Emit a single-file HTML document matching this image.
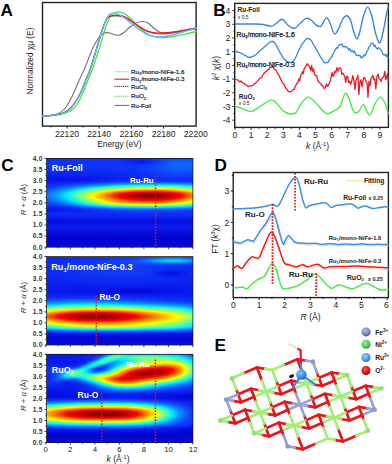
<!DOCTYPE html>
<html><head><meta charset="utf-8"><style>
html,body{margin:0;padding:0;background:#fff;}
body{width:392px;height:464px;overflow:hidden;}
svg{display:block;font-family:"Liberation Sans", sans-serif;}
</style></head><body>
<svg width="392" height="464" viewBox="0 0 392 464">
<defs><linearGradient id="h0_0" x1="0" x2="1" y1="0" y2="0"><stop offset="0.003" stop-color="#0e30f4"/><stop offset="0.645" stop-color="#0d2cf3"/><stop offset="0.878" stop-color="#114bfb"/><stop offset="0.994" stop-color="#1249fa"/></linearGradient>
<linearGradient id="h0_1" x1="0" x2="1" y1="0" y2="0"><stop offset="0.003" stop-color="#0e32f5"/><stop offset="0.502" stop-color="#0e31f5"/><stop offset="0.652" stop-color="#0c26f1"/><stop offset="0.864" stop-color="#1150fb"/><stop offset="0.994" stop-color="#114ffb"/></linearGradient>
<linearGradient id="h0_2" x1="0" x2="1" y1="0" y2="0"><stop offset="0.003" stop-color="#0f33f5"/><stop offset="0.502" stop-color="#0e32f5"/><stop offset="0.652" stop-color="#0a1eee"/><stop offset="0.850" stop-color="#1153fb"/><stop offset="0.919" stop-color="#1059fb"/><stop offset="0.994" stop-color="#1155fb"/></linearGradient>
<linearGradient id="h0_3" x1="0" x2="1" y1="0" y2="0"><stop offset="0.003" stop-color="#0f34f5"/><stop offset="0.502" stop-color="#0f33f5"/><stop offset="0.652" stop-color="#0919ed"/><stop offset="0.686" stop-color="#0a1fef"/><stop offset="0.844" stop-color="#1157fb"/><stop offset="0.919" stop-color="#105efc"/><stop offset="0.994" stop-color="#1059fb"/></linearGradient>
<linearGradient id="h0_4" x1="0" x2="1" y1="0" y2="0"><stop offset="0.003" stop-color="#0f34f6"/><stop offset="0.502" stop-color="#0f34f5"/><stop offset="0.652" stop-color="#091cee"/><stop offset="0.693" stop-color="#0b24f0"/><stop offset="0.844" stop-color="#105afb"/><stop offset="0.919" stop-color="#1063fc"/><stop offset="0.994" stop-color="#105dfc"/></linearGradient>
<linearGradient id="h0_5" x1="0" x2="1" y1="0" y2="0"><stop offset="0.003" stop-color="#0f34f6"/><stop offset="0.502" stop-color="#0f34f6"/><stop offset="0.652" stop-color="#0b24f1"/><stop offset="0.857" stop-color="#1060fc"/><stop offset="0.926" stop-color="#1066fc"/><stop offset="0.994" stop-color="#1060fc"/></linearGradient>
<linearGradient id="h0_6" x1="0" x2="1" y1="0" y2="0"><stop offset="0.003" stop-color="#0f34f6"/><stop offset="0.509" stop-color="#0f34f6"/><stop offset="0.645" stop-color="#0d2ef4"/><stop offset="0.707" stop-color="#1037f7"/><stop offset="0.864" stop-color="#1063fc"/><stop offset="0.926" stop-color="#0f68fc"/><stop offset="0.994" stop-color="#1062fc"/></linearGradient>
<linearGradient id="h0_7" x1="0" x2="1" y1="0" y2="0"><stop offset="0.003" stop-color="#0f34f5"/><stop offset="0.639" stop-color="#0f34f6"/><stop offset="0.734" stop-color="#1242fa"/><stop offset="0.878" stop-color="#1065fc"/><stop offset="0.994" stop-color="#1062fc"/></linearGradient>
<linearGradient id="h0_8" x1="0" x2="1" y1="0" y2="0"><stop offset="0.003" stop-color="#0f33f5"/><stop offset="0.618" stop-color="#0f36f6"/><stop offset="0.727" stop-color="#1242fa"/><stop offset="0.885" stop-color="#1065fc"/><stop offset="0.994" stop-color="#1062fc"/></linearGradient>
<linearGradient id="h0_9" x1="0" x2="1" y1="0" y2="0"><stop offset="0.003" stop-color="#0e32f5"/><stop offset="0.598" stop-color="#0f35f6"/><stop offset="0.727" stop-color="#1242fa"/><stop offset="0.885" stop-color="#1064fc"/><stop offset="0.994" stop-color="#1060fc"/></linearGradient>
<linearGradient id="h0_10" x1="0" x2="1" y1="0" y2="0"><stop offset="0.003" stop-color="#0e30f4"/><stop offset="0.591" stop-color="#0f34f5"/><stop offset="0.734" stop-color="#1241fa"/><stop offset="0.885" stop-color="#1061fc"/><stop offset="0.994" stop-color="#105dfc"/></linearGradient>
<linearGradient id="h0_11" x1="0" x2="1" y1="0" y2="0"><stop offset="0.003" stop-color="#0e2ff4"/><stop offset="0.584" stop-color="#0e32f5"/><stop offset="0.741" stop-color="#1240f9"/><stop offset="0.891" stop-color="#105dfc"/><stop offset="0.994" stop-color="#1059fb"/></linearGradient>
<linearGradient id="h0_12" x1="0" x2="1" y1="0" y2="0"><stop offset="0.003" stop-color="#0d2df3"/><stop offset="0.584" stop-color="#0e30f4"/><stop offset="0.727" stop-color="#113cf8"/><stop offset="0.891" stop-color="#1059fb"/><stop offset="0.994" stop-color="#1154fb"/></linearGradient>
<linearGradient id="h0_13" x1="0" x2="1" y1="0" y2="0"><stop offset="0.003" stop-color="#0d2bf3"/><stop offset="0.577" stop-color="#0d2ef4"/><stop offset="0.714" stop-color="#1038f7"/><stop offset="0.891" stop-color="#1153fb"/><stop offset="0.994" stop-color="#114ffb"/></linearGradient>
<linearGradient id="h0_14" x1="0" x2="1" y1="0" y2="0"><stop offset="0.003" stop-color="#0c29f2"/><stop offset="0.570" stop-color="#0d2cf3"/><stop offset="0.891" stop-color="#114efb"/><stop offset="0.994" stop-color="#114afa"/></linearGradient>
<linearGradient id="h0_15" x1="0" x2="1" y1="0" y2="0"><stop offset="0.003" stop-color="#0c26f1"/><stop offset="0.550" stop-color="#0c2af2"/><stop offset="0.898" stop-color="#1248fa"/><stop offset="0.994" stop-color="#1244fa"/></linearGradient>
<linearGradient id="h0_16" x1="0" x2="1" y1="0" y2="0"><stop offset="0.003" stop-color="#0b23f0"/><stop offset="0.523" stop-color="#0c27f2"/><stop offset="0.898" stop-color="#1243fa"/><stop offset="0.994" stop-color="#1240f9"/></linearGradient>
<linearGradient id="h0_17" x1="0" x2="1" y1="0" y2="0"><stop offset="0.003" stop-color="#0a20ef"/><stop offset="0.359" stop-color="#0a21ef"/><stop offset="0.632" stop-color="#0d2bf3"/><stop offset="0.878" stop-color="#113ef9"/><stop offset="0.994" stop-color="#113df8"/></linearGradient>
<linearGradient id="h0_18" x1="0" x2="1" y1="0" y2="0"><stop offset="0.003" stop-color="#0a1dee"/><stop offset="0.290" stop-color="#091bee"/><stop offset="0.878" stop-color="#103bf8"/><stop offset="0.994" stop-color="#1039f7"/></linearGradient>
<linearGradient id="h0_19" x1="0" x2="1" y1="0" y2="0"><stop offset="0.003" stop-color="#091aed"/><stop offset="0.256" stop-color="#0817ec"/><stop offset="0.878" stop-color="#0f36f6"/><stop offset="0.994" stop-color="#0f35f6"/></linearGradient>
<linearGradient id="h0_20" x1="0" x2="1" y1="0" y2="0"><stop offset="0.003" stop-color="#0818ec"/><stop offset="0.256" stop-color="#0815ea"/><stop offset="0.994" stop-color="#0e31f5"/></linearGradient>
<linearGradient id="h0_21" x1="0" x2="1" y1="0" y2="0"><stop offset="0.003" stop-color="#0816ec"/><stop offset="0.222" stop-color="#0714e9"/><stop offset="0.509" stop-color="#0c26f1"/><stop offset="0.994" stop-color="#0e2ef4"/></linearGradient>
<linearGradient id="h0_22" x1="0" x2="1" y1="0" y2="0"><stop offset="0.003" stop-color="#0817ec"/><stop offset="0.215" stop-color="#0816ec"/><stop offset="0.523" stop-color="#0d2df3"/><stop offset="0.994" stop-color="#0e30f4"/></linearGradient>
<linearGradient id="h0_23" x1="0" x2="1" y1="0" y2="0"><stop offset="0.003" stop-color="#0918ed"/><stop offset="0.202" stop-color="#091cee"/><stop offset="0.536" stop-color="#103bf8"/><stop offset="0.994" stop-color="#103af7"/></linearGradient>
<linearGradient id="h0_24" x1="0" x2="1" y1="0" y2="0"><stop offset="0.003" stop-color="#091cee"/><stop offset="0.222" stop-color="#0c27f1"/><stop offset="0.591" stop-color="#105afb"/><stop offset="0.850" stop-color="#105afb"/><stop offset="0.994" stop-color="#114ffb"/></linearGradient>
<linearGradient id="h0_25" x1="0" x2="1" y1="0" y2="0"><stop offset="0.003" stop-color="#0a21ef"/><stop offset="0.270" stop-color="#113bf8"/><stop offset="0.488" stop-color="#0f75fd"/><stop offset="0.618" stop-color="#0d88fe"/><stop offset="0.830" stop-color="#0d8afe"/><stop offset="0.994" stop-color="#0f70fd"/></linearGradient>
<linearGradient id="h0_26" x1="0" x2="1" y1="0" y2="0"><stop offset="0.003" stop-color="#0c26f1"/><stop offset="0.215" stop-color="#1242fa"/><stop offset="0.516" stop-color="#0aaaff"/><stop offset="0.645" stop-color="#06c4ff"/><stop offset="0.748" stop-color="#05caff"/><stop offset="0.830" stop-color="#06c4ff"/><stop offset="0.905" stop-color="#08b4ff"/><stop offset="0.994" stop-color="#0c95ff"/></linearGradient>
<linearGradient id="h0_27" x1="0" x2="1" y1="0" y2="0"><stop offset="0.003" stop-color="#0d2cf3"/><stop offset="0.133" stop-color="#1240f9"/><stop offset="0.181" stop-color="#114ffb"/><stop offset="0.529" stop-color="#00eaff"/><stop offset="0.632" stop-color="#18efe8"/><stop offset="0.741" stop-color="#1ff0e1"/><stop offset="0.830" stop-color="#18efe8"/><stop offset="0.912" stop-color="#01ebfe"/><stop offset="0.994" stop-color="#06c4ff"/></linearGradient>
<linearGradient id="h0_28" x1="0" x2="1" y1="0" y2="0"><stop offset="0.003" stop-color="#0f33f5"/><stop offset="0.085" stop-color="#1242fa"/><stop offset="0.181" stop-color="#0f68fc"/><stop offset="0.283" stop-color="#0c9bff"/><stop offset="0.406" stop-color="#00ebff"/><stop offset="0.495" stop-color="#2df3d4"/><stop offset="0.570" stop-color="#4af7b8"/><stop offset="0.645" stop-color="#5bfaa8"/><stop offset="0.721" stop-color="#61fba2"/><stop offset="0.789" stop-color="#5efba5"/><stop offset="0.857" stop-color="#4ff8b4"/><stop offset="0.919" stop-color="#36f4cb"/><stop offset="0.994" stop-color="#0dedf3"/></linearGradient>
<linearGradient id="h0_29" x1="0" x2="1" y1="0" y2="0"><stop offset="0.003" stop-color="#1039f7"/><stop offset="0.065" stop-color="#114afa"/><stop offset="0.167" stop-color="#0e7afd"/><stop offset="0.229" stop-color="#0c9eff"/><stop offset="0.331" stop-color="#02ebfd"/><stop offset="0.447" stop-color="#50f8b2"/><stop offset="0.550" stop-color="#87ff7c"/><stop offset="0.625" stop-color="#a2ff60"/><stop offset="0.700" stop-color="#adff55"/><stop offset="0.775" stop-color="#abff57"/><stop offset="0.837" stop-color="#9cff67"/><stop offset="0.898" stop-color="#7eff85"/><stop offset="0.994" stop-color="#40f6c2"/></linearGradient>
<linearGradient id="h0_30" x1="0" x2="1" y1="0" y2="0"><stop offset="0.003" stop-color="#1140f9"/><stop offset="0.072" stop-color="#105cfb"/><stop offset="0.154" stop-color="#0d8afe"/><stop offset="0.277" stop-color="#03ebfc"/><stop offset="0.420" stop-color="#78ff8c"/><stop offset="0.516" stop-color="#c1ff40"/><stop offset="0.598" stop-color="#ecff14"/><stop offset="0.673" stop-color="#ffff00"/><stop offset="0.775" stop-color="#ffff00"/><stop offset="0.830" stop-color="#efff11"/><stop offset="0.905" stop-color="#c4ff3d"/><stop offset="0.994" stop-color="#76ff8e"/></linearGradient>
<linearGradient id="h0_31" x1="0" x2="1" y1="0" y2="0"><stop offset="0.003" stop-color="#1249fa"/><stop offset="0.140" stop-color="#0c97ff"/><stop offset="0.229" stop-color="#00e9ff"/><stop offset="0.359" stop-color="#7aff8a"/><stop offset="0.495" stop-color="#feff01"/><stop offset="0.611" stop-color="#ffc400"/><stop offset="0.666" stop-color="#ffb700"/><stop offset="0.727" stop-color="#ffb300"/><stop offset="0.823" stop-color="#ffc400"/><stop offset="0.919" stop-color="#fffc00"/><stop offset="0.994" stop-color="#b5ff4d"/></linearGradient>
<linearGradient id="h0_32" x1="0" x2="1" y1="0" y2="0"><stop offset="0.003" stop-color="#1153fb"/><stop offset="0.120" stop-color="#0c9bff"/><stop offset="0.202" stop-color="#02ebfd"/><stop offset="0.311" stop-color="#76ff8e"/><stop offset="0.427" stop-color="#fffe00"/><stop offset="0.509" stop-color="#ffb800"/><stop offset="0.591" stop-color="#fe8700"/><stop offset="0.659" stop-color="#fb6d00"/><stop offset="0.727" stop-color="#fa6700"/><stop offset="0.782" stop-color="#fb6e00"/><stop offset="0.837" stop-color="#fe8600"/><stop offset="0.905" stop-color="#ffb400"/><stop offset="0.980" stop-color="#fffc00"/><stop offset="0.994" stop-color="#f1ff0e"/></linearGradient>
<linearGradient id="h0_33" x1="0" x2="1" y1="0" y2="0"><stop offset="0.003" stop-color="#105bfb"/><stop offset="0.099" stop-color="#0c9cff"/><stop offset="0.174" stop-color="#00eaff"/><stop offset="0.277" stop-color="#73fe91"/><stop offset="0.379" stop-color="#fdff02"/><stop offset="0.516" stop-color="#fc7700"/><stop offset="0.584" stop-color="#f64300"/><stop offset="0.666" stop-color="#f12200"/><stop offset="0.748" stop-color="#f11e00"/><stop offset="0.803" stop-color="#f32c00"/><stop offset="0.857" stop-color="#f74d00"/><stop offset="0.905" stop-color="#fc7800"/><stop offset="0.994" stop-color="#ffdb00"/></linearGradient>
<linearGradient id="h0_34" x1="0" x2="1" y1="0" y2="0"><stop offset="0.003" stop-color="#1063fc"/><stop offset="0.085" stop-color="#0c9dff"/><stop offset="0.161" stop-color="#04ecfb"/><stop offset="0.256" stop-color="#76ff8e"/><stop offset="0.352" stop-color="#fffc00"/><stop offset="0.447" stop-color="#ff8b00"/><stop offset="0.502" stop-color="#f74c00"/><stop offset="0.584" stop-color="#ed0800"/><stop offset="0.721" stop-color="#dc0400"/><stop offset="0.844" stop-color="#ee0800"/><stop offset="0.905" stop-color="#f54100"/><stop offset="0.994" stop-color="#ffb200"/></linearGradient>
<linearGradient id="h0_35" x1="0" x2="1" y1="0" y2="0"><stop offset="0.003" stop-color="#0f69fc"/><stop offset="0.072" stop-color="#0c9bff"/><stop offset="0.147" stop-color="#03ebfc"/><stop offset="0.242" stop-color="#79ff8b"/><stop offset="0.331" stop-color="#fffc00"/><stop offset="0.420" stop-color="#ff8900"/><stop offset="0.468" stop-color="#f64a00"/><stop offset="0.529" stop-color="#ed0800"/><stop offset="0.680" stop-color="#be0000"/><stop offset="0.721" stop-color="#b90000"/><stop offset="0.762" stop-color="#bf0000"/><stop offset="0.891" stop-color="#ed0800"/><stop offset="0.932" stop-color="#f43900"/><stop offset="0.994" stop-color="#ff9300"/></linearGradient>
<linearGradient id="h0_36" x1="0" x2="1" y1="0" y2="0"><stop offset="0.003" stop-color="#0f6cfc"/><stop offset="0.065" stop-color="#0c9aff"/><stop offset="0.140" stop-color="#04ecfb"/><stop offset="0.229" stop-color="#73fe91"/><stop offset="0.318" stop-color="#ffff00"/><stop offset="0.400" stop-color="#ff8f00"/><stop offset="0.461" stop-color="#f43900"/><stop offset="0.502" stop-color="#ed0800"/><stop offset="0.584" stop-color="#cd0000"/><stop offset="0.625" stop-color="#aa0000"/><stop offset="0.659" stop-color="#960000"/><stop offset="0.727" stop-color="#8a0000"/><stop offset="0.782" stop-color="#990000"/><stop offset="0.844" stop-color="#ce0000"/><stop offset="0.912" stop-color="#ec0800"/><stop offset="0.939" stop-color="#f22900"/><stop offset="0.994" stop-color="#fd7e00"/></linearGradient>
<linearGradient id="h0_37" x1="0" x2="1" y1="0" y2="0"><stop offset="0.003" stop-color="#0f6efc"/><stop offset="0.065" stop-color="#0c9cff"/><stop offset="0.133" stop-color="#00eaff"/><stop offset="0.229" stop-color="#78ff8c"/><stop offset="0.311" stop-color="#fcff04"/><stop offset="0.318" stop-color="#fff800"/><stop offset="0.400" stop-color="#fe8700"/><stop offset="0.461" stop-color="#f32e00"/><stop offset="0.495" stop-color="#ec0800"/><stop offset="0.570" stop-color="#cc0000"/><stop offset="0.611" stop-color="#a20000"/><stop offset="0.659" stop-color="#830000"/><stop offset="0.755" stop-color="#7d0000"/><stop offset="0.803" stop-color="#950000"/><stop offset="0.857" stop-color="#ce0000"/><stop offset="0.919" stop-color="#ec0700"/><stop offset="0.939" stop-color="#f11f00"/><stop offset="0.994" stop-color="#fc7500"/></linearGradient>
<linearGradient id="h0_38" x1="0" x2="1" y1="0" y2="0"><stop offset="0.003" stop-color="#0f6dfc"/><stop offset="0.065" stop-color="#0c9bff"/><stop offset="0.133" stop-color="#00e8ff"/><stop offset="0.140" stop-color="#05ecfa"/><stop offset="0.229" stop-color="#75ff8f"/><stop offset="0.318" stop-color="#fffb00"/><stop offset="0.400" stop-color="#ff8a00"/><stop offset="0.495" stop-color="#ee0800"/><stop offset="0.577" stop-color="#cb0000"/><stop offset="0.611" stop-color="#a90000"/><stop offset="0.652" stop-color="#8e0000"/><stop offset="0.686" stop-color="#820000"/><stop offset="0.727" stop-color="#7f0000"/><stop offset="0.782" stop-color="#900000"/><stop offset="0.809" stop-color="#a40000"/><stop offset="0.850" stop-color="#ce0000"/><stop offset="0.919" stop-color="#ee0800"/><stop offset="0.994" stop-color="#fd7a00"/></linearGradient>
<linearGradient id="h0_39" x1="0" x2="1" y1="0" y2="0"><stop offset="0.003" stop-color="#0f69fc"/><stop offset="0.072" stop-color="#0c9cff"/><stop offset="0.140" stop-color="#00e9ff"/><stop offset="0.236" stop-color="#76ff8e"/><stop offset="0.324" stop-color="#fffc00"/><stop offset="0.406" stop-color="#ff8d00"/><stop offset="0.468" stop-color="#f43900"/><stop offset="0.509" stop-color="#ee0900"/><stop offset="0.516" stop-color="#eb0700"/><stop offset="0.605" stop-color="#cd0000"/><stop offset="0.659" stop-color="#aa0000"/><stop offset="0.714" stop-color="#9f0000"/><stop offset="0.768" stop-color="#a90000"/><stop offset="0.823" stop-color="#ce0000"/><stop offset="0.898" stop-color="#ec0700"/><stop offset="0.932" stop-color="#f32e00"/><stop offset="0.994" stop-color="#ff8c00"/></linearGradient>
<linearGradient id="h0_40" x1="0" x2="1" y1="0" y2="0"><stop offset="0.003" stop-color="#1064fc"/><stop offset="0.079" stop-color="#0c9aff"/><stop offset="0.154" stop-color="#03ecfc"/><stop offset="0.242" stop-color="#72fe92"/><stop offset="0.331" stop-color="#fbff04"/><stop offset="0.338" stop-color="#fff900"/><stop offset="0.468" stop-color="#f75100"/><stop offset="0.536" stop-color="#ee0800"/><stop offset="0.618" stop-color="#d60200"/><stop offset="0.707" stop-color="#ce0000"/><stop offset="0.789" stop-color="#d40200"/><stop offset="0.871" stop-color="#ec0800"/><stop offset="0.919" stop-color="#f43a00"/><stop offset="0.994" stop-color="#ffa400"/></linearGradient>
<linearGradient id="h0_41" x1="0" x2="1" y1="0" y2="0"><stop offset="0.003" stop-color="#105dfc"/><stop offset="0.092" stop-color="#0c9cff"/><stop offset="0.161" stop-color="#00e8ff"/><stop offset="0.256" stop-color="#73fe91"/><stop offset="0.345" stop-color="#faff06"/><stop offset="0.352" stop-color="#fffb00"/><stop offset="0.441" stop-color="#ff8f00"/><stop offset="0.495" stop-color="#f75000"/><stop offset="0.577" stop-color="#ee0a00"/><stop offset="0.700" stop-color="#de0400"/><stop offset="0.823" stop-color="#ec0800"/><stop offset="0.850" stop-color="#f01900"/><stop offset="0.891" stop-color="#f54100"/><stop offset="0.994" stop-color="#ffc200"/></linearGradient>
<linearGradient id="h0_42" x1="0" x2="1" y1="0" y2="0"><stop offset="0.003" stop-color="#1155fb"/><stop offset="0.106" stop-color="#0c9bff"/><stop offset="0.181" stop-color="#05ecfb"/><stop offset="0.277" stop-color="#7bff89"/><stop offset="0.365" stop-color="#feff01"/><stop offset="0.495" stop-color="#fc7200"/><stop offset="0.564" stop-color="#f43a00"/><stop offset="0.652" stop-color="#ef1300"/><stop offset="0.741" stop-color="#ef1000"/><stop offset="0.796" stop-color="#f12200"/><stop offset="0.850" stop-color="#f64600"/><stop offset="0.898" stop-color="#fc7400"/><stop offset="0.994" stop-color="#ffe500"/></linearGradient>
<linearGradient id="h0_43" x1="0" x2="1" y1="0" y2="0"><stop offset="0.003" stop-color="#114cfb"/><stop offset="0.120" stop-color="#0c99ff"/><stop offset="0.195" stop-color="#01ebfe"/><stop offset="0.290" stop-color="#75fe8f"/><stop offset="0.386" stop-color="#fbff04"/><stop offset="0.393" stop-color="#fffb00"/><stop offset="0.468" stop-color="#ffae00"/><stop offset="0.557" stop-color="#fb6900"/><stop offset="0.632" stop-color="#f64800"/><stop offset="0.700" stop-color="#f53f00"/><stop offset="0.762" stop-color="#f64800"/><stop offset="0.823" stop-color="#fa6400"/><stop offset="0.905" stop-color="#ffa900"/><stop offset="0.980" stop-color="#fffa00"/><stop offset="0.994" stop-color="#f1ff0e"/></linearGradient>
<linearGradient id="h0_44" x1="0" x2="1" y1="0" y2="0"><stop offset="0.003" stop-color="#1243fa"/><stop offset="0.065" stop-color="#1063fc"/><stop offset="0.126" stop-color="#0d8efe"/><stop offset="0.215" stop-color="#01ebfe"/><stop offset="0.318" stop-color="#79ff8b"/><stop offset="0.400" stop-color="#e5ff1b"/><stop offset="0.427" stop-color="#fffa00"/><stop offset="0.495" stop-color="#ffc000"/><stop offset="0.557" stop-color="#ff9b00"/><stop offset="0.632" stop-color="#fd8000"/><stop offset="0.693" stop-color="#fd7900"/><stop offset="0.755" stop-color="#fe8100"/><stop offset="0.816" stop-color="#ff9900"/><stop offset="0.878" stop-color="#ffc200"/><stop offset="0.939" stop-color="#fffa00"/><stop offset="0.946" stop-color="#fcff03"/><stop offset="0.994" stop-color="#bfff42"/></linearGradient>
<linearGradient id="h0_45" x1="0" x2="1" y1="0" y2="0"><stop offset="0.003" stop-color="#113cf8"/><stop offset="0.058" stop-color="#1151fb"/><stop offset="0.133" stop-color="#0e80fd"/><stop offset="0.174" stop-color="#0ba1ff"/><stop offset="0.242" stop-color="#01ebfe"/><stop offset="0.352" stop-color="#79ff8b"/><stop offset="0.427" stop-color="#cfff32"/><stop offset="0.482" stop-color="#fffd00"/><stop offset="0.577" stop-color="#ffcc00"/><stop offset="0.686" stop-color="#ffb900"/><stop offset="0.782" stop-color="#ffc800"/><stop offset="0.878" stop-color="#fffc00"/><stop offset="0.919" stop-color="#dcff24"/><stop offset="0.994" stop-color="#87ff7c"/></linearGradient>
<linearGradient id="h0_46" x1="0" x2="1" y1="0" y2="0"><stop offset="0.003" stop-color="#0f35f6"/><stop offset="0.065" stop-color="#1244fa"/><stop offset="0.140" stop-color="#0f6efc"/><stop offset="0.202" stop-color="#0c9aff"/><stop offset="0.277" stop-color="#01e7ff"/><stop offset="0.406" stop-color="#78ff8c"/><stop offset="0.495" stop-color="#c1ff40"/><stop offset="0.577" stop-color="#eaff16"/><stop offset="0.666" stop-color="#fbff04"/><stop offset="0.748" stop-color="#f5ff0a"/><stop offset="0.816" stop-color="#ddff23"/><stop offset="0.891" stop-color="#abff57"/><stop offset="0.994" stop-color="#4ff8b4"/></linearGradient>
<linearGradient id="h0_47" x1="0" x2="1" y1="0" y2="0"><stop offset="0.003" stop-color="#0d2df3"/><stop offset="0.099" stop-color="#1241fa"/><stop offset="0.154" stop-color="#105cfb"/><stop offset="0.249" stop-color="#0c9bff"/><stop offset="0.338" stop-color="#01ebfe"/><stop offset="0.434" stop-color="#4af7b8"/><stop offset="0.509" stop-color="#74fe90"/><stop offset="0.591" stop-color="#92ff71"/><stop offset="0.680" stop-color="#9dff65"/><stop offset="0.755" stop-color="#96ff6c"/><stop offset="0.816" stop-color="#83ff80"/><stop offset="0.898" stop-color="#59faaa"/><stop offset="0.994" stop-color="#15efea"/></linearGradient>
<linearGradient id="h0_48" x1="0" x2="1" y1="0" y2="0"><stop offset="0.003" stop-color="#0c26f1"/><stop offset="0.167" stop-color="#1247fa"/><stop offset="0.283" stop-color="#0d87fe"/><stop offset="0.434" stop-color="#03ebfc"/><stop offset="0.557" stop-color="#34f4cd"/><stop offset="0.686" stop-color="#44f6bd"/><stop offset="0.809" stop-color="#35f4cd"/><stop offset="0.932" stop-color="#01ebfe"/><stop offset="0.994" stop-color="#06c5ff"/></linearGradient>
<linearGradient id="h0_49" x1="0" x2="1" y1="0" y2="0"><stop offset="0.003" stop-color="#0a1fef"/><stop offset="0.113" stop-color="#0d2bf3"/><stop offset="0.222" stop-color="#1242fa"/><stop offset="0.482" stop-color="#07bbff"/><stop offset="0.550" stop-color="#04d0ff"/><stop offset="0.625" stop-color="#02ddff"/><stop offset="0.714" stop-color="#02e1ff"/><stop offset="0.803" stop-color="#03d6ff"/><stop offset="0.885" stop-color="#07beff"/><stop offset="0.994" stop-color="#0d90fe"/></linearGradient>
<linearGradient id="h0_50" x1="0" x2="1" y1="0" y2="0"><stop offset="0.003" stop-color="#091bed"/><stop offset="0.120" stop-color="#0b22f0"/><stop offset="0.236" stop-color="#0f35f6"/><stop offset="0.297" stop-color="#1242fa"/><stop offset="0.482" stop-color="#0e80fd"/><stop offset="0.625" stop-color="#0c98ff"/><stop offset="0.803" stop-color="#0c95ff"/><stop offset="0.994" stop-color="#0f6bfc"/></linearGradient>
<linearGradient id="h0_51" x1="0" x2="1" y1="0" y2="0"><stop offset="0.003" stop-color="#0919ed"/><stop offset="0.208" stop-color="#0c26f1"/><stop offset="0.516" stop-color="#1060fc"/><stop offset="0.639" stop-color="#0f6dfc"/><stop offset="0.809" stop-color="#0f6bfc"/><stop offset="0.994" stop-color="#114ffb"/></linearGradient>
<linearGradient id="h0_52" x1="0" x2="1" y1="0" y2="0"><stop offset="0.003" stop-color="#091bed"/><stop offset="0.188" stop-color="#0a21ef"/><stop offset="0.652" stop-color="#114ffb"/><stop offset="0.809" stop-color="#114efb"/><stop offset="0.994" stop-color="#113ef9"/></linearGradient>
<linearGradient id="h0_53" x1="0" x2="1" y1="0" y2="0"><stop offset="0.003" stop-color="#0a1eef"/><stop offset="0.188" stop-color="#0b22f0"/><stop offset="0.618" stop-color="#113ef9"/><stop offset="0.994" stop-color="#1037f7"/></linearGradient>
<linearGradient id="h0_54" x1="0" x2="1" y1="0" y2="0"><stop offset="0.003" stop-color="#0b23f0"/><stop offset="0.618" stop-color="#1038f7"/><stop offset="0.994" stop-color="#0f33f5"/></linearGradient>
<linearGradient id="h0_55" x1="0" x2="1" y1="0" y2="0"><stop offset="0.003" stop-color="#0c26f1"/><stop offset="0.618" stop-color="#0f33f5"/><stop offset="0.994" stop-color="#0e31f5"/></linearGradient>
<linearGradient id="h0_56" x1="0" x2="1" y1="0" y2="0"><stop offset="0.003" stop-color="#0c28f2"/><stop offset="0.994" stop-color="#0e2ef4"/></linearGradient>
<linearGradient id="h0_57" x1="0" x2="1" y1="0" y2="0"><stop offset="0.003" stop-color="#0c27f2"/><stop offset="0.994" stop-color="#0d2bf3"/></linearGradient>
<linearGradient id="h0_58" x1="0" x2="1" y1="0" y2="0"><stop offset="0.003" stop-color="#0b24f0"/><stop offset="0.994" stop-color="#0c26f1"/></linearGradient>
<linearGradient id="h0_59" x1="0" x2="1" y1="0" y2="0"><stop offset="0.003" stop-color="#0a1fef"/><stop offset="0.994" stop-color="#0a20ef"/></linearGradient>
<linearGradient id="h0_60" x1="0" x2="1" y1="0" y2="0"><stop offset="0.003" stop-color="#0918ed"/><stop offset="0.994" stop-color="#0919ed"/></linearGradient>
<linearGradient id="h0_61" x1="0" x2="1" y1="0" y2="0"><stop offset="0.003" stop-color="#0713e7"/><stop offset="0.994" stop-color="#0714e7"/></linearGradient>
<linearGradient id="h0_62" x1="0" x2="1" y1="0" y2="0"><stop offset="0.003" stop-color="#0610e1"/><stop offset="0.994" stop-color="#0610e1"/></linearGradient>
<linearGradient id="h0_63" x1="0" x2="1" y1="0" y2="0"><stop offset="0.003" stop-color="#050fde"/><stop offset="0.994" stop-color="#050fde"/></linearGradient>
<linearGradient id="h0_64" x1="0" x2="1" y1="0" y2="0"><stop offset="0.003" stop-color="#060fe0"/><stop offset="0.994" stop-color="#0610e0"/></linearGradient>
<linearGradient id="h0_65" x1="0" x2="1" y1="0" y2="0"><stop offset="0.003" stop-color="#0712e5"/><stop offset="0.994" stop-color="#0712e5"/></linearGradient>
<linearGradient id="h0_66" x1="0" x2="1" y1="0" y2="0"><stop offset="0.003" stop-color="#0816eb"/><stop offset="0.994" stop-color="#0816eb"/></linearGradient>
<linearGradient id="h0_67" x1="0" x2="1" y1="0" y2="0"><stop offset="0.003" stop-color="#091aed"/><stop offset="0.994" stop-color="#091aed"/></linearGradient>
<linearGradient id="h0_68" x1="0" x2="1" y1="0" y2="0"><stop offset="0.003" stop-color="#091cee"/><stop offset="0.994" stop-color="#091cee"/></linearGradient>
<linearGradient id="h0_69" x1="0" x2="1" y1="0" y2="0"><stop offset="0.003" stop-color="#091cee"/><stop offset="0.994" stop-color="#091cee"/></linearGradient>
<linearGradient id="h0_70" x1="0" x2="1" y1="0" y2="0"><stop offset="0.003" stop-color="#091aed"/><stop offset="0.994" stop-color="#091aed"/></linearGradient>
<linearGradient id="h0_71" x1="0" x2="1" y1="0" y2="0"><stop offset="0.003" stop-color="#0816ec"/><stop offset="0.994" stop-color="#0816ec"/></linearGradient>
<linearGradient id="h0_72" x1="0" x2="1" y1="0" y2="0"><stop offset="0.003" stop-color="#0713e6"/><stop offset="0.994" stop-color="#0713e6"/></linearGradient>
<linearGradient id="h0_73" x1="0" x2="1" y1="0" y2="0"><stop offset="0.003" stop-color="#0610e1"/><stop offset="0.994" stop-color="#0610e1"/></linearGradient>
<linearGradient id="h0_74" x1="0" x2="1" y1="0" y2="0"><stop offset="0.003" stop-color="#050edc"/><stop offset="0.994" stop-color="#050edc"/></linearGradient>
<linearGradient id="h0_75" x1="0" x2="1" y1="0" y2="0"><stop offset="0.003" stop-color="#040bd8"/><stop offset="0.994" stop-color="#040bd8"/></linearGradient>
<linearGradient id="h0_76" x1="0" x2="1" y1="0" y2="0"><stop offset="0.003" stop-color="#040ad5"/><stop offset="0.994" stop-color="#040ad5"/></linearGradient>
<linearGradient id="h0_77" x1="0" x2="1" y1="0" y2="0"><stop offset="0.003" stop-color="#0308d2"/><stop offset="0.994" stop-color="#0308d2"/></linearGradient>
<linearGradient id="h0_78" x1="0" x2="1" y1="0" y2="0"><stop offset="0.003" stop-color="#0307d0"/><stop offset="0.994" stop-color="#0307d0"/></linearGradient>
<linearGradient id="h0_79" x1="0" x2="1" y1="0" y2="0"><stop offset="0.003" stop-color="#0206ce"/><stop offset="0.994" stop-color="#0206ce"/></linearGradient>
<linearGradient id="h0_80" x1="0" x2="1" y1="0" y2="0"><stop offset="0.003" stop-color="#0206cd"/><stop offset="0.994" stop-color="#0206cd"/></linearGradient>
<linearGradient id="h0_81" x1="0" x2="1" y1="0" y2="0"><stop offset="0.003" stop-color="#0206cd"/><stop offset="0.994" stop-color="#0206cd"/></linearGradient>
<linearGradient id="h0_82" x1="0" x2="1" y1="0" y2="0"><stop offset="0.003" stop-color="#0206ce"/><stop offset="0.994" stop-color="#0206ce"/></linearGradient>
<linearGradient id="h0_83" x1="0" x2="1" y1="0" y2="0"><stop offset="0.003" stop-color="#0207cf"/><stop offset="0.994" stop-color="#0207cf"/></linearGradient>
<linearGradient id="h0_84" x1="0" x2="1" y1="0" y2="0"><stop offset="0.003" stop-color="#0308d1"/><stop offset="0.994" stop-color="#0308d1"/></linearGradient>
<linearGradient id="h0_85" x1="0" x2="1" y1="0" y2="0"><stop offset="0.003" stop-color="#0309d4"/><stop offset="0.994" stop-color="#0309d4"/></linearGradient>
<linearGradient id="h0_86" x1="0" x2="1" y1="0" y2="0"><stop offset="0.003" stop-color="#040ad6"/><stop offset="0.994" stop-color="#040ad6"/></linearGradient>
<linearGradient id="h0_87" x1="0" x2="1" y1="0" y2="0"><stop offset="0.003" stop-color="#040cd9"/><stop offset="0.994" stop-color="#040cd9"/></linearGradient>
<linearGradient id="h0_88" x1="0" x2="1" y1="0" y2="0"><stop offset="0.003" stop-color="#050edd"/><stop offset="0.994" stop-color="#050edd"/></linearGradient>
<linearGradient id="h1_0" x1="0" x2="1" y1="0" y2="0"><stop offset="0.003" stop-color="#0c26f1"/><stop offset="0.598" stop-color="#0f36f6"/><stop offset="0.700" stop-color="#1242fa"/><stop offset="0.850" stop-color="#105ffc"/><stop offset="0.912" stop-color="#105afb"/><stop offset="0.994" stop-color="#1243fa"/></linearGradient>
<linearGradient id="h1_1" x1="0" x2="1" y1="0" y2="0"><stop offset="0.003" stop-color="#0c27f1"/><stop offset="0.598" stop-color="#113cf8"/><stop offset="0.652" stop-color="#1247fa"/><stop offset="0.789" stop-color="#0e81fe"/><stop offset="0.850" stop-color="#0d90fe"/><stop offset="0.912" stop-color="#0d89fe"/><stop offset="0.994" stop-color="#1064fc"/></linearGradient>
<linearGradient id="h1_2" x1="0" x2="1" y1="0" y2="0"><stop offset="0.003" stop-color="#0c28f2"/><stop offset="0.488" stop-color="#1037f7"/><stop offset="0.598" stop-color="#1242fa"/><stop offset="0.673" stop-color="#1061fc"/><stop offset="0.809" stop-color="#08b6ff"/><stop offset="0.857" stop-color="#06c4ff"/><stop offset="0.912" stop-color="#07baff"/><stop offset="0.994" stop-color="#0e83fe"/></linearGradient>
<linearGradient id="h1_3" x1="0" x2="1" y1="0" y2="0"><stop offset="0.003" stop-color="#0c29f2"/><stop offset="0.577" stop-color="#1242fa"/><stop offset="0.659" stop-color="#1062fc"/><stop offset="0.803" stop-color="#05c8ff"/><stop offset="0.857" stop-color="#02dcff"/><stop offset="0.885" stop-color="#02dbff"/><stop offset="0.919" stop-color="#05cdff"/><stop offset="0.994" stop-color="#0d91fe"/></linearGradient>
<linearGradient id="h1_4" x1="0" x2="1" y1="0" y2="0"><stop offset="0.003" stop-color="#0d2af2"/><stop offset="0.577" stop-color="#1242fa"/><stop offset="0.659" stop-color="#1060fc"/><stop offset="0.803" stop-color="#07b9ff"/><stop offset="0.857" stop-color="#05cbff"/><stop offset="0.912" stop-color="#07c0ff"/><stop offset="0.994" stop-color="#0d87fe"/></linearGradient>
<linearGradient id="h1_5" x1="0" x2="1" y1="0" y2="0"><stop offset="0.003" stop-color="#0d2bf3"/><stop offset="0.584" stop-color="#1242fa"/><stop offset="0.666" stop-color="#1158fb"/><stop offset="0.796" stop-color="#0d8efe"/><stop offset="0.850" stop-color="#0c9aff"/><stop offset="0.912" stop-color="#0d93ff"/><stop offset="0.994" stop-color="#0f6cfc"/></linearGradient>
<linearGradient id="h1_6" x1="0" x2="1" y1="0" y2="0"><stop offset="0.003" stop-color="#0d2cf3"/><stop offset="0.611" stop-color="#1242fa"/><stop offset="0.844" stop-color="#0f6cfc"/><stop offset="0.912" stop-color="#1066fc"/><stop offset="0.994" stop-color="#114efb"/></linearGradient>
<linearGradient id="h1_7" x1="0" x2="1" y1="0" y2="0"><stop offset="0.003" stop-color="#0d2cf3"/><stop offset="0.816" stop-color="#114afa"/><stop offset="0.994" stop-color="#103bf8"/></linearGradient>
<linearGradient id="h1_8" x1="0" x2="1" y1="0" y2="0"><stop offset="0.003" stop-color="#0d2df3"/><stop offset="0.495" stop-color="#113ef9"/><stop offset="0.994" stop-color="#0f33f5"/></linearGradient>
<linearGradient id="h1_9" x1="0" x2="1" y1="0" y2="0"><stop offset="0.003" stop-color="#0d2df3"/><stop offset="0.502" stop-color="#113ff9"/><stop offset="0.994" stop-color="#0e2ff4"/></linearGradient>
<linearGradient id="h1_10" x1="0" x2="1" y1="0" y2="0"><stop offset="0.003" stop-color="#0d2df3"/><stop offset="0.502" stop-color="#113ff9"/><stop offset="0.994" stop-color="#0d2ef4"/></linearGradient>
<linearGradient id="h1_11" x1="0" x2="1" y1="0" y2="0"><stop offset="0.003" stop-color="#0d2df3"/><stop offset="0.502" stop-color="#113ff9"/><stop offset="0.850" stop-color="#0d2df3"/><stop offset="0.994" stop-color="#0d2df3"/></linearGradient>
<linearGradient id="h1_12" x1="0" x2="1" y1="0" y2="0"><stop offset="0.003" stop-color="#0d2df3"/><stop offset="0.502" stop-color="#113ff9"/><stop offset="0.686" stop-color="#103af7"/><stop offset="0.844" stop-color="#0c27f1"/><stop offset="0.994" stop-color="#0d2cf3"/></linearGradient>
<linearGradient id="h1_13" x1="0" x2="1" y1="0" y2="0"><stop offset="0.003" stop-color="#0d2df3"/><stop offset="0.509" stop-color="#113ef9"/><stop offset="0.686" stop-color="#1039f7"/><stop offset="0.844" stop-color="#0a20ef"/><stop offset="0.994" stop-color="#0d2bf3"/></linearGradient>
<linearGradient id="h1_14" x1="0" x2="1" y1="0" y2="0"><stop offset="0.003" stop-color="#0d2cf3"/><stop offset="0.591" stop-color="#113cf8"/><stop offset="0.707" stop-color="#0f35f6"/><stop offset="0.850" stop-color="#0818ec"/><stop offset="0.994" stop-color="#0d2af2"/></linearGradient>
<linearGradient id="h1_15" x1="0" x2="1" y1="0" y2="0"><stop offset="0.003" stop-color="#0d2cf3"/><stop offset="0.406" stop-color="#103bf8"/><stop offset="0.605" stop-color="#103bf8"/><stop offset="0.707" stop-color="#0f33f5"/><stop offset="0.809" stop-color="#0817ec"/><stop offset="0.850" stop-color="#0713e6"/><stop offset="0.994" stop-color="#0c29f2"/></linearGradient>
<linearGradient id="h1_16" x1="0" x2="1" y1="0" y2="0"><stop offset="0.003" stop-color="#0d2bf3"/><stop offset="0.406" stop-color="#103af7"/><stop offset="0.611" stop-color="#1039f7"/><stop offset="0.707" stop-color="#0e32f5"/><stop offset="0.803" stop-color="#0816ec"/><stop offset="0.850" stop-color="#0611e4"/><stop offset="0.994" stop-color="#0c28f2"/></linearGradient>
<linearGradient id="h1_17" x1="0" x2="1" y1="0" y2="0"><stop offset="0.003" stop-color="#0d2af2"/><stop offset="0.605" stop-color="#1038f7"/><stop offset="0.707" stop-color="#0e31f4"/><stop offset="0.809" stop-color="#0816ec"/><stop offset="0.850" stop-color="#0713e6"/><stop offset="0.994" stop-color="#0c28f2"/></linearGradient>
<linearGradient id="h1_18" x1="0" x2="1" y1="0" y2="0"><stop offset="0.003" stop-color="#0c29f2"/><stop offset="0.598" stop-color="#0f36f6"/><stop offset="0.707" stop-color="#0e30f4"/><stop offset="0.850" stop-color="#0817ec"/><stop offset="0.994" stop-color="#0c27f1"/></linearGradient>
<linearGradient id="h1_19" x1="0" x2="1" y1="0" y2="0"><stop offset="0.003" stop-color="#0c28f2"/><stop offset="0.509" stop-color="#0f35f6"/><stop offset="0.686" stop-color="#0e31f5"/><stop offset="0.844" stop-color="#0a1dee"/><stop offset="0.994" stop-color="#0c27f1"/></linearGradient>
<linearGradient id="h1_20" x1="0" x2="1" y1="0" y2="0"><stop offset="0.003" stop-color="#0c27f1"/><stop offset="0.502" stop-color="#0f33f5"/><stop offset="0.686" stop-color="#0e30f4"/><stop offset="0.844" stop-color="#0b22f0"/><stop offset="0.994" stop-color="#0c26f1"/></linearGradient>
<linearGradient id="h1_21" x1="0" x2="1" y1="0" y2="0"><stop offset="0.003" stop-color="#0c26f1"/><stop offset="0.502" stop-color="#0e31f5"/><stop offset="0.994" stop-color="#0c26f1"/></linearGradient>
<linearGradient id="h1_22" x1="0" x2="1" y1="0" y2="0"><stop offset="0.003" stop-color="#0b25f1"/><stop offset="0.502" stop-color="#0e2ff4"/><stop offset="0.994" stop-color="#0b25f1"/></linearGradient>
<linearGradient id="h1_23" x1="0" x2="1" y1="0" y2="0"><stop offset="0.003" stop-color="#0b24f0"/><stop offset="0.502" stop-color="#0d2df3"/><stop offset="0.994" stop-color="#0b24f0"/></linearGradient>
<linearGradient id="h1_24" x1="0" x2="1" y1="0" y2="0"><stop offset="0.003" stop-color="#0b22f0"/><stop offset="0.502" stop-color="#0d2bf3"/><stop offset="0.994" stop-color="#0b23f0"/></linearGradient>
<linearGradient id="h1_25" x1="0" x2="1" y1="0" y2="0"><stop offset="0.003" stop-color="#0b21f0"/><stop offset="0.495" stop-color="#0c29f2"/><stop offset="0.994" stop-color="#0b21f0"/></linearGradient>
<linearGradient id="h1_26" x1="0" x2="1" y1="0" y2="0"><stop offset="0.003" stop-color="#0a20ef"/><stop offset="0.488" stop-color="#0c27f1"/><stop offset="0.994" stop-color="#0a20ef"/></linearGradient>
<linearGradient id="h1_27" x1="0" x2="1" y1="0" y2="0"><stop offset="0.003" stop-color="#0a1fef"/><stop offset="0.994" stop-color="#0a20ef"/></linearGradient>
<linearGradient id="h1_28" x1="0" x2="1" y1="0" y2="0"><stop offset="0.003" stop-color="#0a1fef"/><stop offset="0.994" stop-color="#0a1fef"/></linearGradient>
<linearGradient id="h1_29" x1="0" x2="1" y1="0" y2="0"><stop offset="0.003" stop-color="#0a1eee"/><stop offset="0.994" stop-color="#0a1eee"/></linearGradient>
<linearGradient id="h1_30" x1="0" x2="1" y1="0" y2="0"><stop offset="0.003" stop-color="#0a1dee"/><stop offset="0.618" stop-color="#0816ec"/><stop offset="0.994" stop-color="#0a1dee"/></linearGradient>
<linearGradient id="h1_31" x1="0" x2="1" y1="0" y2="0"><stop offset="0.003" stop-color="#091dee"/><stop offset="0.406" stop-color="#0918ed"/><stop offset="0.611" stop-color="#0611e3"/><stop offset="0.994" stop-color="#091cee"/></linearGradient>
<linearGradient id="h1_32" x1="0" x2="1" y1="0" y2="0"><stop offset="0.003" stop-color="#091cee"/><stop offset="0.393" stop-color="#0816ec"/><stop offset="0.611" stop-color="#050dda"/><stop offset="0.830" stop-color="#0816ec"/><stop offset="0.994" stop-color="#091bee"/></linearGradient>
<linearGradient id="h1_33" x1="0" x2="1" y1="0" y2="0"><stop offset="0.003" stop-color="#091cee"/><stop offset="0.372" stop-color="#0816ec"/><stop offset="0.605" stop-color="#030ad5"/><stop offset="0.850" stop-color="#0816ec"/><stop offset="0.994" stop-color="#091bee"/></linearGradient>
<linearGradient id="h1_34" x1="0" x2="1" y1="0" y2="0"><stop offset="0.003" stop-color="#091cee"/><stop offset="0.365" stop-color="#0816ec"/><stop offset="0.605" stop-color="#0309d4"/><stop offset="0.857" stop-color="#0816ec"/><stop offset="0.994" stop-color="#091bee"/></linearGradient>
<linearGradient id="h1_35" x1="0" x2="1" y1="0" y2="0"><stop offset="0.003" stop-color="#091cee"/><stop offset="0.379" stop-color="#0816ec"/><stop offset="0.611" stop-color="#040bd8"/><stop offset="0.844" stop-color="#0816ec"/><stop offset="0.994" stop-color="#091bee"/></linearGradient>
<linearGradient id="h1_36" x1="0" x2="1" y1="0" y2="0"><stop offset="0.003" stop-color="#0a1dee"/><stop offset="0.427" stop-color="#0816ec"/><stop offset="0.611" stop-color="#0610e0"/><stop offset="0.994" stop-color="#091cee"/></linearGradient>
<linearGradient id="h1_37" x1="0" x2="1" y1="0" y2="0"><stop offset="0.003" stop-color="#0a1fef"/><stop offset="0.290" stop-color="#0a20ef"/><stop offset="0.611" stop-color="#0715e9"/><stop offset="0.994" stop-color="#0a1dee"/></linearGradient>
<linearGradient id="h1_38" x1="0" x2="1" y1="0" y2="0"><stop offset="0.003" stop-color="#0b22f0"/><stop offset="0.994" stop-color="#0a1eef"/></linearGradient>
<linearGradient id="h1_39" x1="0" x2="1" y1="0" y2="0"><stop offset="0.003" stop-color="#0c26f1"/><stop offset="0.283" stop-color="#0d2bf3"/><stop offset="0.994" stop-color="#0a20ef"/></linearGradient>
<linearGradient id="h1_40" x1="0" x2="1" y1="0" y2="0"><stop offset="0.003" stop-color="#0d2cf3"/><stop offset="0.304" stop-color="#0f33f5"/><stop offset="0.994" stop-color="#0b23f0"/></linearGradient>
<linearGradient id="h1_41" x1="0" x2="1" y1="0" y2="0"><stop offset="0.003" stop-color="#0f35f6"/><stop offset="0.311" stop-color="#113ef9"/><stop offset="0.994" stop-color="#0c26f1"/></linearGradient>
<linearGradient id="h1_42" x1="0" x2="1" y1="0" y2="0"><stop offset="0.003" stop-color="#113ff9"/><stop offset="0.167" stop-color="#114ffb"/><stop offset="0.297" stop-color="#1152fb"/><stop offset="0.994" stop-color="#0d2af2"/></linearGradient>
<linearGradient id="h1_43" x1="0" x2="1" y1="0" y2="0"><stop offset="0.003" stop-color="#114ffb"/><stop offset="0.161" stop-color="#1066fc"/><stop offset="0.304" stop-color="#0f6afc"/><stop offset="0.447" stop-color="#1060fc"/><stop offset="0.680" stop-color="#1242fa"/><stop offset="0.994" stop-color="#0e30f4"/></linearGradient>
<linearGradient id="h1_44" x1="0" x2="1" y1="0" y2="0"><stop offset="0.003" stop-color="#1063fc"/><stop offset="0.167" stop-color="#0e81fe"/><stop offset="0.318" stop-color="#0d85fe"/><stop offset="0.461" stop-color="#0e78fd"/><stop offset="0.741" stop-color="#114dfb"/><stop offset="0.994" stop-color="#0f37f6"/></linearGradient>
<linearGradient id="h1_45" x1="0" x2="1" y1="0" y2="0"><stop offset="0.003" stop-color="#0e79fd"/><stop offset="0.188" stop-color="#0b9fff"/><stop offset="0.324" stop-color="#0ba3ff"/><stop offset="0.468" stop-color="#0c94ff"/><stop offset="0.707" stop-color="#0f68fc"/><stop offset="0.994" stop-color="#113ff9"/></linearGradient>
<linearGradient id="h1_46" x1="0" x2="1" y1="0" y2="0"><stop offset="0.003" stop-color="#0d91fe"/><stop offset="0.181" stop-color="#06c2ff"/><stop offset="0.345" stop-color="#05c8ff"/><stop offset="0.468" stop-color="#08b9ff"/><stop offset="0.680" stop-color="#0d87fe"/><stop offset="0.994" stop-color="#114cfb"/></linearGradient>
<linearGradient id="h1_47" x1="0" x2="1" y1="0" y2="0"><stop offset="0.003" stop-color="#09afff"/><stop offset="0.099" stop-color="#03d4ff"/><stop offset="0.181" stop-color="#00eaff"/><stop offset="0.290" stop-color="#09ecf6"/><stop offset="0.427" stop-color="#00ebff"/><stop offset="0.994" stop-color="#105ffc"/></linearGradient>
<linearGradient id="h1_48" x1="0" x2="1" y1="0" y2="0"><stop offset="0.003" stop-color="#04d3ff"/><stop offset="0.058" stop-color="#02ebfd"/><stop offset="0.188" stop-color="#2af2d7"/><stop offset="0.311" stop-color="#34f4cd"/><stop offset="0.461" stop-color="#28f2d9"/><stop offset="0.611" stop-color="#00ebff"/><stop offset="0.994" stop-color="#0f73fd"/></linearGradient>
<linearGradient id="h1_49" x1="0" x2="1" y1="0" y2="0"><stop offset="0.003" stop-color="#10eeef"/><stop offset="0.092" stop-color="#3af5c7"/><stop offset="0.174" stop-color="#56f9ad"/><stop offset="0.249" stop-color="#63fca0"/><stop offset="0.331" stop-color="#67fc9d"/><stop offset="0.495" stop-color="#54f9ae"/><stop offset="0.748" stop-color="#00ebff"/><stop offset="0.878" stop-color="#06c0ff"/><stop offset="0.994" stop-color="#0d8afe"/></linearGradient>
<linearGradient id="h1_50" x1="0" x2="1" y1="0" y2="0"><stop offset="0.003" stop-color="#3bf5c6"/><stop offset="0.092" stop-color="#6cfd98"/><stop offset="0.195" stop-color="#94ff6f"/><stop offset="0.277" stop-color="#a3ff5f"/><stop offset="0.379" stop-color="#a4ff5f"/><stop offset="0.509" stop-color="#8cff77"/><stop offset="0.871" stop-color="#01ebfe"/><stop offset="0.994" stop-color="#0ba5ff"/></linearGradient>
<linearGradient id="h1_51" x1="0" x2="1" y1="0" y2="0"><stop offset="0.003" stop-color="#6afd99"/><stop offset="0.113" stop-color="#b3ff4f"/><stop offset="0.202" stop-color="#daff27"/><stop offset="0.290" stop-color="#ebff15"/><stop offset="0.406" stop-color="#e9ff17"/><stop offset="0.475" stop-color="#dcff24"/><stop offset="0.536" stop-color="#c6ff3b"/><stop offset="0.686" stop-color="#78ff8c"/><stop offset="0.919" stop-color="#0eedf1"/><stop offset="0.946" stop-color="#00e8ff"/><stop offset="0.994" stop-color="#06c4ff"/></linearGradient>
<linearGradient id="h1_52" x1="0" x2="1" y1="0" y2="0"><stop offset="0.003" stop-color="#a1ff62"/><stop offset="0.126" stop-color="#feff01"/><stop offset="0.229" stop-color="#ffda00"/><stop offset="0.338" stop-color="#ffcf00"/><stop offset="0.454" stop-color="#ffd900"/><stop offset="0.564" stop-color="#ffff00"/><stop offset="0.796" stop-color="#76ff8e"/><stop offset="0.885" stop-color="#49f7b9"/><stop offset="0.987" stop-color="#00eaff"/><stop offset="0.994" stop-color="#01e4ff"/></linearGradient>
<linearGradient id="h1_53" x1="0" x2="1" y1="0" y2="0"><stop offset="0.003" stop-color="#d9ff27"/><stop offset="0.044" stop-color="#fffe00"/><stop offset="0.120" stop-color="#ffca00"/><stop offset="0.188" stop-color="#ffa800"/><stop offset="0.256" stop-color="#ff9500"/><stop offset="0.338" stop-color="#ff8f00"/><stop offset="0.420" stop-color="#ff9300"/><stop offset="0.488" stop-color="#ffa300"/><stop offset="0.557" stop-color="#ffc000"/><stop offset="0.659" stop-color="#fffc00"/><stop offset="0.891" stop-color="#6bfd98"/><stop offset="0.994" stop-color="#17efe9"/></linearGradient>
<linearGradient id="h1_54" x1="0" x2="1" y1="0" y2="0"><stop offset="0.003" stop-color="#fff100"/><stop offset="0.092" stop-color="#ffa500"/><stop offset="0.188" stop-color="#fa6900"/><stop offset="0.263" stop-color="#f74f00"/><stop offset="0.352" stop-color="#f64800"/><stop offset="0.434" stop-color="#f75000"/><stop offset="0.502" stop-color="#fa6700"/><stop offset="0.741" stop-color="#ffff00"/><stop offset="0.878" stop-color="#9eff65"/><stop offset="0.994" stop-color="#32f3cf"/></linearGradient>
<linearGradient id="h1_55" x1="0" x2="1" y1="0" y2="0"><stop offset="0.003" stop-color="#ffc700"/><stop offset="0.113" stop-color="#f95f00"/><stop offset="0.195" stop-color="#f22700"/><stop offset="0.283" stop-color="#ee0b00"/><stop offset="0.386" stop-color="#ee0800"/><stop offset="0.454" stop-color="#f01500"/><stop offset="0.523" stop-color="#f43500"/><stop offset="0.639" stop-color="#ff8d00"/><stop offset="0.803" stop-color="#fffe00"/><stop offset="0.891" stop-color="#b8ff4a"/><stop offset="0.994" stop-color="#4bf7b7"/></linearGradient>
<linearGradient id="h1_56" x1="0" x2="1" y1="0" y2="0"><stop offset="0.003" stop-color="#ffa300"/><stop offset="0.092" stop-color="#f54200"/><stop offset="0.161" stop-color="#ee0800"/><stop offset="0.249" stop-color="#dc0400"/><stop offset="0.338" stop-color="#d70200"/><stop offset="0.441" stop-color="#db0300"/><stop offset="0.529" stop-color="#ed0800"/><stop offset="0.584" stop-color="#f32f00"/><stop offset="0.693" stop-color="#ff9100"/><stop offset="0.850" stop-color="#feff01"/><stop offset="0.912" stop-color="#c2ff3f"/><stop offset="0.994" stop-color="#60fba3"/></linearGradient>
<linearGradient id="h1_57" x1="0" x2="1" y1="0" y2="0"><stop offset="0.003" stop-color="#fe8800"/><stop offset="0.072" stop-color="#f43400"/><stop offset="0.120" stop-color="#ec0800"/><stop offset="0.283" stop-color="#b90000"/><stop offset="0.352" stop-color="#b20000"/><stop offset="0.413" stop-color="#ba0000"/><stop offset="0.577" stop-color="#ed0800"/><stop offset="0.721" stop-color="#ff8a00"/><stop offset="0.878" stop-color="#ffff00"/><stop offset="0.926" stop-color="#caff37"/><stop offset="0.994" stop-color="#71fe93"/></linearGradient>
<linearGradient id="h1_58" x1="0" x2="1" y1="0" y2="0"><stop offset="0.003" stop-color="#fc7400"/><stop offset="0.092" stop-color="#ee0800"/><stop offset="0.181" stop-color="#ce0000"/><stop offset="0.263" stop-color="#980000"/><stop offset="0.331" stop-color="#8b0000"/><stop offset="0.427" stop-color="#970000"/><stop offset="0.468" stop-color="#ac0000"/><stop offset="0.509" stop-color="#cd0000"/><stop offset="0.605" stop-color="#ed0800"/><stop offset="0.741" stop-color="#ff8800"/><stop offset="0.891" stop-color="#fffd00"/><stop offset="0.926" stop-color="#d9ff27"/><stop offset="0.994" stop-color="#7dff87"/></linearGradient>
<linearGradient id="h1_59" x1="0" x2="1" y1="0" y2="0"><stop offset="0.003" stop-color="#fb6e00"/><stop offset="0.085" stop-color="#ee0800"/><stop offset="0.167" stop-color="#ce0000"/><stop offset="0.249" stop-color="#900000"/><stop offset="0.324" stop-color="#7d0000"/><stop offset="0.379" stop-color="#7e0000"/><stop offset="0.427" stop-color="#890000"/><stop offset="0.475" stop-color="#a30000"/><stop offset="0.523" stop-color="#cd0000"/><stop offset="0.611" stop-color="#ec0800"/><stop offset="0.755" stop-color="#ff8c00"/><stop offset="0.898" stop-color="#fffd00"/><stop offset="0.932" stop-color="#d8ff29"/><stop offset="0.994" stop-color="#83ff80"/></linearGradient>
<linearGradient id="h1_60" x1="0" x2="1" y1="0" y2="0"><stop offset="0.003" stop-color="#fc7400"/><stop offset="0.092" stop-color="#ed0800"/><stop offset="0.181" stop-color="#cd0000"/><stop offset="0.256" stop-color="#990000"/><stop offset="0.331" stop-color="#890000"/><stop offset="0.427" stop-color="#940000"/><stop offset="0.468" stop-color="#a90000"/><stop offset="0.516" stop-color="#ce0000"/><stop offset="0.605" stop-color="#ec0800"/><stop offset="0.748" stop-color="#ff8a00"/><stop offset="0.898" stop-color="#fffe00"/><stop offset="0.994" stop-color="#83ff81"/></linearGradient>
<linearGradient id="h1_61" x1="0" x2="1" y1="0" y2="0"><stop offset="0.003" stop-color="#fe8600"/><stop offset="0.065" stop-color="#f43900"/><stop offset="0.113" stop-color="#ee0800"/><stop offset="0.222" stop-color="#ce0000"/><stop offset="0.283" stop-color="#b30000"/><stop offset="0.352" stop-color="#ac0000"/><stop offset="0.413" stop-color="#b40000"/><stop offset="0.468" stop-color="#cc0000"/><stop offset="0.584" stop-color="#ed0800"/><stop offset="0.727" stop-color="#ff8800"/><stop offset="0.885" stop-color="#fffb00"/><stop offset="0.919" stop-color="#deff22"/><stop offset="0.994" stop-color="#7cff88"/></linearGradient>
<linearGradient id="h1_62" x1="0" x2="1" y1="0" y2="0"><stop offset="0.003" stop-color="#ffa000"/><stop offset="0.085" stop-color="#f64400"/><stop offset="0.154" stop-color="#ee0800"/><stop offset="0.249" stop-color="#d90300"/><stop offset="0.352" stop-color="#d40200"/><stop offset="0.454" stop-color="#da0300"/><stop offset="0.543" stop-color="#ed0800"/><stop offset="0.700" stop-color="#ff8b00"/><stop offset="0.871" stop-color="#ffff00"/><stop offset="0.926" stop-color="#c6ff3b"/><stop offset="0.994" stop-color="#70fe94"/></linearGradient>
<linearGradient id="h1_63" x1="0" x2="1" y1="0" y2="0"><stop offset="0.003" stop-color="#ffc000"/><stop offset="0.126" stop-color="#f64900"/><stop offset="0.222" stop-color="#ef0e00"/><stop offset="0.242" stop-color="#ee0800"/><stop offset="0.352" stop-color="#e70600"/><stop offset="0.461" stop-color="#ee0800"/><stop offset="0.543" stop-color="#f33100"/><stop offset="0.686" stop-color="#ff9f00"/><stop offset="0.837" stop-color="#fffd00"/><stop offset="0.905" stop-color="#c7ff3a"/><stop offset="0.994" stop-color="#61fba2"/></linearGradient>
<linearGradient id="h1_64" x1="0" x2="1" y1="0" y2="0"><stop offset="0.003" stop-color="#ffe500"/><stop offset="0.126" stop-color="#fd7b00"/><stop offset="0.195" stop-color="#f74f00"/><stop offset="0.277" stop-color="#f33300"/><stop offset="0.372" stop-color="#f32c00"/><stop offset="0.441" stop-color="#f43300"/><stop offset="0.509" stop-color="#f74c00"/><stop offset="0.611" stop-color="#ff8e00"/><stop offset="0.796" stop-color="#fffe00"/><stop offset="0.891" stop-color="#baff47"/><stop offset="0.994" stop-color="#51f9b1"/></linearGradient>
<linearGradient id="h1_65" x1="0" x2="1" y1="0" y2="0"><stop offset="0.003" stop-color="#f0ff0f"/><stop offset="0.017" stop-color="#ffff00"/><stop offset="0.113" stop-color="#ffb300"/><stop offset="0.208" stop-color="#fd7e00"/><stop offset="0.283" stop-color="#fa6700"/><stop offset="0.372" stop-color="#f95f00"/><stop offset="0.441" stop-color="#fa6500"/><stop offset="0.502" stop-color="#fc7800"/><stop offset="0.748" stop-color="#feff02"/><stop offset="0.878" stop-color="#acff56"/><stop offset="0.994" stop-color="#41f6c1"/></linearGradient>
<linearGradient id="h1_66" x1="0" x2="1" y1="0" y2="0"><stop offset="0.003" stop-color="#c3ff3e"/><stop offset="0.072" stop-color="#fffb00"/><stop offset="0.147" stop-color="#ffca00"/><stop offset="0.222" stop-color="#ffa800"/><stop offset="0.297" stop-color="#ff9600"/><stop offset="0.386" stop-color="#ff9000"/><stop offset="0.454" stop-color="#ff9500"/><stop offset="0.516" stop-color="#ffa600"/><stop offset="0.693" stop-color="#ffff00"/><stop offset="0.871" stop-color="#98ff6b"/><stop offset="0.994" stop-color="#31f3d0"/></linearGradient>
<linearGradient id="h1_67" x1="0" x2="1" y1="0" y2="0"><stop offset="0.003" stop-color="#97ff6c"/><stop offset="0.079" stop-color="#d9ff28"/><stop offset="0.133" stop-color="#fffd00"/><stop offset="0.256" stop-color="#ffc900"/><stop offset="0.400" stop-color="#ffb800"/><stop offset="0.509" stop-color="#ffc800"/><stop offset="0.639" stop-color="#fffe00"/><stop offset="0.864" stop-color="#84ff80"/><stop offset="0.994" stop-color="#21f1df"/></linearGradient>
<linearGradient id="h1_68" x1="0" x2="1" y1="0" y2="0"><stop offset="0.003" stop-color="#6bfd98"/><stop offset="0.133" stop-color="#ceff33"/><stop offset="0.229" stop-color="#fffe00"/><stop offset="0.311" stop-color="#ffea00"/><stop offset="0.413" stop-color="#ffe100"/><stop offset="0.488" stop-color="#ffe900"/><stop offset="0.564" stop-color="#fffe00"/><stop offset="0.878" stop-color="#63fba0"/><stop offset="0.994" stop-color="#10eef0"/></linearGradient>
<linearGradient id="h1_69" x1="0" x2="1" y1="0" y2="0"><stop offset="0.003" stop-color="#40f6c1"/><stop offset="0.140" stop-color="#9aff69"/><stop offset="0.229" stop-color="#c5ff3c"/><stop offset="0.331" stop-color="#e1ff1f"/><stop offset="0.441" stop-color="#e9ff17"/><stop offset="0.516" stop-color="#ddff23"/><stop offset="0.598" stop-color="#c0ff41"/><stop offset="0.864" stop-color="#4cf8b6"/><stop offset="0.980" stop-color="#03ecfc"/><stop offset="0.994" stop-color="#01e3ff"/></linearGradient>
<linearGradient id="h1_70" x1="0" x2="1" y1="0" y2="0"><stop offset="0.003" stop-color="#12eeee"/><stop offset="0.126" stop-color="#57f9ac"/><stop offset="0.236" stop-color="#84ff7f"/><stop offset="0.331" stop-color="#9cff66"/><stop offset="0.434" stop-color="#a5ff5d"/><stop offset="0.502" stop-color="#9fff64"/><stop offset="0.577" stop-color="#8bff78"/><stop offset="0.837" stop-color="#30f3d1"/><stop offset="0.932" stop-color="#02ebfd"/><stop offset="0.994" stop-color="#06c3ff"/></linearGradient>
<linearGradient id="h1_71" x1="0" x2="1" y1="0" y2="0"><stop offset="0.003" stop-color="#05c7ff"/><stop offset="0.072" stop-color="#01ebfe"/><stop offset="0.167" stop-color="#2af2d7"/><stop offset="0.249" stop-color="#43f6bf"/><stop offset="0.338" stop-color="#53f9af"/><stop offset="0.434" stop-color="#5afaa9"/><stop offset="0.564" stop-color="#4af7b8"/><stop offset="0.830" stop-color="#01ebfe"/><stop offset="0.905" stop-color="#04ceff"/><stop offset="0.994" stop-color="#0c9bff"/></linearGradient>
<linearGradient id="h1_72" x1="0" x2="1" y1="0" y2="0"><stop offset="0.003" stop-color="#0d90fe"/><stop offset="0.154" stop-color="#05ccff"/><stop offset="0.270" stop-color="#00ebff"/><stop offset="0.413" stop-color="#0eedf1"/><stop offset="0.543" stop-color="#06ecf9"/><stop offset="0.584" stop-color="#00eaff"/><stop offset="0.830" stop-color="#09b0ff"/><stop offset="0.994" stop-color="#0e77fd"/></linearGradient>
<linearGradient id="h1_73" x1="0" x2="1" y1="0" y2="0"><stop offset="0.003" stop-color="#1064fc"/><stop offset="0.222" stop-color="#0c97ff"/><stop offset="0.338" stop-color="#0aa6ff"/><stop offset="0.447" stop-color="#0aaaff"/><stop offset="0.837" stop-color="#0e7afd"/><stop offset="0.994" stop-color="#1153fb"/></linearGradient>
<linearGradient id="h1_74" x1="0" x2="1" y1="0" y2="0"><stop offset="0.003" stop-color="#113ff9"/><stop offset="0.229" stop-color="#1062fc"/><stop offset="0.434" stop-color="#0f6dfc"/><stop offset="0.823" stop-color="#114ffb"/><stop offset="0.994" stop-color="#1039f7"/></linearGradient>
<linearGradient id="h1_75" x1="0" x2="1" y1="0" y2="0"><stop offset="0.003" stop-color="#0d2cf3"/><stop offset="0.222" stop-color="#103bf8"/><stop offset="0.434" stop-color="#113ff9"/><stop offset="0.994" stop-color="#0c28f2"/></linearGradient>
<linearGradient id="h1_76" x1="0" x2="1" y1="0" y2="0"><stop offset="0.003" stop-color="#0a1dee"/><stop offset="0.420" stop-color="#0c29f2"/><stop offset="0.994" stop-color="#091cee"/></linearGradient>
<linearGradient id="h1_77" x1="0" x2="1" y1="0" y2="0"><stop offset="0.003" stop-color="#0714e8"/><stop offset="0.400" stop-color="#091aed"/><stop offset="0.994" stop-color="#0713e7"/></linearGradient>
<linearGradient id="h1_78" x1="0" x2="1" y1="0" y2="0"><stop offset="0.003" stop-color="#050fde"/><stop offset="0.379" stop-color="#0612e4"/><stop offset="0.994" stop-color="#050fdf"/></linearGradient>
<linearGradient id="h1_79" x1="0" x2="1" y1="0" y2="0"><stop offset="0.003" stop-color="#040bd8"/><stop offset="0.994" stop-color="#040cd9"/></linearGradient>
<linearGradient id="h1_80" x1="0" x2="1" y1="0" y2="0"><stop offset="0.003" stop-color="#0309d4"/><stop offset="0.994" stop-color="#040ad5"/></linearGradient>
<linearGradient id="h1_81" x1="0" x2="1" y1="0" y2="0"><stop offset="0.003" stop-color="#0308d2"/><stop offset="0.994" stop-color="#0309d4"/></linearGradient>
<linearGradient id="h1_82" x1="0" x2="1" y1="0" y2="0"><stop offset="0.003" stop-color="#0308d2"/><stop offset="0.994" stop-color="#0309d3"/></linearGradient>
<linearGradient id="h1_83" x1="0" x2="1" y1="0" y2="0"><stop offset="0.003" stop-color="#0309d3"/><stop offset="0.994" stop-color="#0309d4"/></linearGradient>
<linearGradient id="h1_84" x1="0" x2="1" y1="0" y2="0"><stop offset="0.003" stop-color="#030ad5"/><stop offset="0.994" stop-color="#040ad5"/></linearGradient>
<linearGradient id="h1_85" x1="0" x2="1" y1="0" y2="0"><stop offset="0.003" stop-color="#040bd7"/><stop offset="0.994" stop-color="#040bd8"/></linearGradient>
<linearGradient id="h1_86" x1="0" x2="1" y1="0" y2="0"><stop offset="0.003" stop-color="#040cda"/><stop offset="0.994" stop-color="#050cda"/></linearGradient>
<linearGradient id="h1_87" x1="0" x2="1" y1="0" y2="0"><stop offset="0.003" stop-color="#050edd"/><stop offset="0.994" stop-color="#050edd"/></linearGradient>
<linearGradient id="h2_0" x1="0" x2="1" y1="0" y2="0"><stop offset="0.003" stop-color="#0919ed"/><stop offset="0.263" stop-color="#091bee"/><stop offset="0.365" stop-color="#0d2bf3"/><stop offset="0.393" stop-color="#113cf8"/><stop offset="0.406" stop-color="#114efb"/><stop offset="0.434" stop-color="#0d89fe"/><stop offset="0.468" stop-color="#01e7ff"/><stop offset="0.495" stop-color="#22f1df"/><stop offset="0.516" stop-color="#20f0e0"/><stop offset="0.550" stop-color="#00e9ff"/><stop offset="0.570" stop-color="#03d5ff"/><stop offset="0.591" stop-color="#05cbff"/><stop offset="0.700" stop-color="#04d2ff"/><stop offset="0.796" stop-color="#07bfff"/><stop offset="0.912" stop-color="#0d8ffe"/><stop offset="0.994" stop-color="#1059fb"/></linearGradient>
<linearGradient id="h2_1" x1="0" x2="1" y1="0" y2="0"><stop offset="0.003" stop-color="#0919ed"/><stop offset="0.256" stop-color="#091bee"/><stop offset="0.352" stop-color="#0d2df3"/><stop offset="0.379" stop-color="#1240fa"/><stop offset="0.393" stop-color="#1058fb"/><stop offset="0.420" stop-color="#0c9dff"/><stop offset="0.441" stop-color="#01e2ff"/><stop offset="0.447" stop-color="#0bedf4"/><stop offset="0.468" stop-color="#37f4ca"/><stop offset="0.482" stop-color="#45f7bd"/><stop offset="0.502" stop-color="#44f6be"/><stop offset="0.543" stop-color="#1cf0e4"/><stop offset="0.570" stop-color="#0feef0"/><stop offset="0.693" stop-color="#28f2d9"/><stop offset="0.755" stop-color="#1df0e3"/><stop offset="0.830" stop-color="#01ebfe"/><stop offset="0.905" stop-color="#07bdff"/><stop offset="0.994" stop-color="#0f6cfc"/></linearGradient>
<linearGradient id="h2_2" x1="0" x2="1" y1="0" y2="0"><stop offset="0.003" stop-color="#0919ed"/><stop offset="0.242" stop-color="#091bee"/><stop offset="0.331" stop-color="#0d2af2"/><stop offset="0.359" stop-color="#113cf8"/><stop offset="0.372" stop-color="#1150fb"/><stop offset="0.400" stop-color="#0c96ff"/><stop offset="0.420" stop-color="#02e1ff"/><stop offset="0.427" stop-color="#0cedf3"/><stop offset="0.447" stop-color="#42f6bf"/><stop offset="0.468" stop-color="#5cfaa7"/><stop offset="0.488" stop-color="#58faaa"/><stop offset="0.529" stop-color="#31f3d0"/><stop offset="0.550" stop-color="#28f2d8"/><stop offset="0.570" stop-color="#2cf2d5"/><stop offset="0.652" stop-color="#57f9ac"/><stop offset="0.734" stop-color="#56f9ac"/><stop offset="0.816" stop-color="#38f4c9"/><stop offset="0.898" stop-color="#03ebfc"/><stop offset="0.932" stop-color="#05cbff"/><stop offset="0.994" stop-color="#0e80fd"/></linearGradient>
<linearGradient id="h2_3" x1="0" x2="1" y1="0" y2="0"><stop offset="0.003" stop-color="#0919ed"/><stop offset="0.236" stop-color="#091bee"/><stop offset="0.318" stop-color="#0c29f2"/><stop offset="0.345" stop-color="#113cf8"/><stop offset="0.359" stop-color="#1152fb"/><stop offset="0.386" stop-color="#0c9eff"/><stop offset="0.406" stop-color="#02ebfd"/><stop offset="0.427" stop-color="#40f6c2"/><stop offset="0.447" stop-color="#61fba2"/><stop offset="0.468" stop-color="#62fba1"/><stop offset="0.516" stop-color="#31f3d0"/><stop offset="0.536" stop-color="#2af2d6"/><stop offset="0.557" stop-color="#32f3cf"/><stop offset="0.611" stop-color="#5ffba4"/><stop offset="0.645" stop-color="#73fe91"/><stop offset="0.686" stop-color="#7dff86"/><stop offset="0.734" stop-color="#7bff89"/><stop offset="0.789" stop-color="#6cfd97"/><stop offset="0.837" stop-color="#55f9ae"/><stop offset="0.885" stop-color="#33f3ce"/><stop offset="0.926" stop-color="#0aedf5"/><stop offset="0.939" stop-color="#01e4ff"/><stop offset="0.994" stop-color="#0d93ff"/></linearGradient>
<linearGradient id="h2_4" x1="0" x2="1" y1="0" y2="0"><stop offset="0.003" stop-color="#0919ed"/><stop offset="0.242" stop-color="#091bee"/><stop offset="0.311" stop-color="#0d2bf3"/><stop offset="0.331" stop-color="#103bf8"/><stop offset="0.345" stop-color="#1153fb"/><stop offset="0.365" stop-color="#0d8bfe"/><stop offset="0.386" stop-color="#03daff"/><stop offset="0.393" stop-color="#08ecf7"/><stop offset="0.413" stop-color="#45f6bd"/><stop offset="0.427" stop-color="#5cfaa7"/><stop offset="0.447" stop-color="#61fba2"/><stop offset="0.495" stop-color="#26f1da"/><stop offset="0.523" stop-color="#19efe7"/><stop offset="0.543" stop-color="#22f1de"/><stop offset="0.611" stop-color="#65fc9e"/><stop offset="0.652" stop-color="#81ff83"/><stop offset="0.700" stop-color="#8fff74"/><stop offset="0.762" stop-color="#8fff74"/><stop offset="0.809" stop-color="#82ff82"/><stop offset="0.864" stop-color="#63fca0"/><stop offset="0.912" stop-color="#38f4ca"/><stop offset="0.953" stop-color="#02ebfd"/><stop offset="0.994" stop-color="#0aa6ff"/></linearGradient>
<linearGradient id="h2_5" x1="0" x2="1" y1="0" y2="0"><stop offset="0.003" stop-color="#0919ed"/><stop offset="0.236" stop-color="#091bed"/><stop offset="0.297" stop-color="#0c29f2"/><stop offset="0.318" stop-color="#103af8"/><stop offset="0.331" stop-color="#1153fb"/><stop offset="0.352" stop-color="#0d8efe"/><stop offset="0.372" stop-color="#02deff"/><stop offset="0.379" stop-color="#0cedf3"/><stop offset="0.400" stop-color="#45f7bc"/><stop offset="0.413" stop-color="#59faaa"/><stop offset="0.434" stop-color="#56f9ac"/><stop offset="0.488" stop-color="#06ecf9"/><stop offset="0.516" stop-color="#00e9ff"/><stop offset="0.543" stop-color="#12eeed"/><stop offset="0.611" stop-color="#5efba5"/><stop offset="0.659" stop-color="#80ff83"/><stop offset="0.727" stop-color="#9aff69"/><stop offset="0.796" stop-color="#9eff65"/><stop offset="0.844" stop-color="#8eff75"/><stop offset="0.885" stop-color="#70fe94"/><stop offset="0.926" stop-color="#42f6bf"/><stop offset="0.967" stop-color="#04ecfb"/><stop offset="0.994" stop-color="#07baff"/></linearGradient>
<linearGradient id="h2_6" x1="0" x2="1" y1="0" y2="0"><stop offset="0.003" stop-color="#0919ed"/><stop offset="0.215" stop-color="#091aed"/><stop offset="0.270" stop-color="#0b21f0"/><stop offset="0.290" stop-color="#0d2df3"/><stop offset="0.311" stop-color="#1243fa"/><stop offset="0.338" stop-color="#0d90fe"/><stop offset="0.359" stop-color="#01e1ff"/><stop offset="0.365" stop-color="#0fedf1"/><stop offset="0.386" stop-color="#44f6bd"/><stop offset="0.406" stop-color="#54f9ae"/><stop offset="0.427" stop-color="#3ff6c3"/><stop offset="0.461" stop-color="#00e8ff"/><stop offset="0.482" stop-color="#04cdff"/><stop offset="0.495" stop-color="#05c8ff"/><stop offset="0.516" stop-color="#04d1ff"/><stop offset="0.536" stop-color="#01e7ff"/><stop offset="0.611" stop-color="#54f9ae"/><stop offset="0.666" stop-color="#7fff85"/><stop offset="0.741" stop-color="#a6ff5c"/><stop offset="0.803" stop-color="#b4ff4e"/><stop offset="0.844" stop-color="#acff57"/><stop offset="0.878" stop-color="#95ff6e"/><stop offset="0.932" stop-color="#53f9af"/><stop offset="0.980" stop-color="#00ebff"/><stop offset="0.994" stop-color="#04cdff"/></linearGradient>
<linearGradient id="h2_7" x1="0" x2="1" y1="0" y2="0"><stop offset="0.003" stop-color="#091aed"/><stop offset="0.208" stop-color="#0919ed"/><stop offset="0.256" stop-color="#0a20ef"/><stop offset="0.277" stop-color="#0d2cf3"/><stop offset="0.297" stop-color="#1243fa"/><stop offset="0.324" stop-color="#0d92ff"/><stop offset="0.345" stop-color="#01e4ff"/><stop offset="0.352" stop-color="#10eeef"/><stop offset="0.372" stop-color="#42f6c0"/><stop offset="0.386" stop-color="#4df8b5"/><stop offset="0.406" stop-color="#3cf5c6"/><stop offset="0.434" stop-color="#02ebfd"/><stop offset="0.461" stop-color="#07baff"/><stop offset="0.482" stop-color="#09aeff"/><stop offset="0.509" stop-color="#07beff"/><stop offset="0.543" stop-color="#00eaff"/><stop offset="0.611" stop-color="#52f9b0"/><stop offset="0.673" stop-color="#88ff7b"/><stop offset="0.762" stop-color="#c3ff3e"/><stop offset="0.816" stop-color="#d3ff2e"/><stop offset="0.857" stop-color="#c8ff39"/><stop offset="0.891" stop-color="#abff57"/><stop offset="0.939" stop-color="#64fc9f"/><stop offset="0.987" stop-color="#06ecf9"/><stop offset="0.994" stop-color="#01e1ff"/></linearGradient>
<linearGradient id="h2_8" x1="0" x2="1" y1="0" y2="0"><stop offset="0.003" stop-color="#091bed"/><stop offset="0.202" stop-color="#0919ed"/><stop offset="0.242" stop-color="#0a20ef"/><stop offset="0.263" stop-color="#0d2cf3"/><stop offset="0.283" stop-color="#1244fa"/><stop offset="0.311" stop-color="#0c94ff"/><stop offset="0.331" stop-color="#01e4ff"/><stop offset="0.338" stop-color="#10eef0"/><stop offset="0.359" stop-color="#3cf5c5"/><stop offset="0.372" stop-color="#43f6bf"/><stop offset="0.386" stop-color="#38f4ca"/><stop offset="0.413" stop-color="#00e9ff"/><stop offset="0.441" stop-color="#09adff"/><stop offset="0.454" stop-color="#0c9eff"/><stop offset="0.468" stop-color="#0c9aff"/><stop offset="0.495" stop-color="#09adff"/><stop offset="0.536" stop-color="#00e8ff"/><stop offset="0.605" stop-color="#57faac"/><stop offset="0.680" stop-color="#a3ff60"/><stop offset="0.768" stop-color="#e9ff17"/><stop offset="0.823" stop-color="#fcff03"/><stop offset="0.864" stop-color="#edff12"/><stop offset="0.898" stop-color="#caff37"/><stop offset="0.932" stop-color="#90ff73"/><stop offset="0.994" stop-color="#0aedf5"/></linearGradient>
<linearGradient id="h2_9" x1="0" x2="1" y1="0" y2="0"><stop offset="0.003" stop-color="#091cee"/><stop offset="0.188" stop-color="#091aed"/><stop offset="0.229" stop-color="#0a20ef"/><stop offset="0.249" stop-color="#0d2cf3"/><stop offset="0.270" stop-color="#1245fa"/><stop offset="0.297" stop-color="#0c95ff"/><stop offset="0.318" stop-color="#01e2ff"/><stop offset="0.324" stop-color="#0cedf3"/><stop offset="0.338" stop-color="#2af2d7"/><stop offset="0.352" stop-color="#36f4cb"/><stop offset="0.365" stop-color="#2ff3d2"/><stop offset="0.386" stop-color="#0aedf6"/><stop offset="0.393" stop-color="#01e4ff"/><stop offset="0.420" stop-color="#0ba2ff"/><stop offset="0.434" stop-color="#0d92fe"/><stop offset="0.447" stop-color="#0d8cfe"/><stop offset="0.475" stop-color="#0c9bff"/><stop offset="0.523" stop-color="#01e7ff"/><stop offset="0.605" stop-color="#73fe91"/><stop offset="0.639" stop-color="#9dff65"/><stop offset="0.741" stop-color="#fffc00"/><stop offset="0.789" stop-color="#ffdf00"/><stop offset="0.823" stop-color="#ffd800"/><stop offset="0.857" stop-color="#ffe200"/><stop offset="0.891" stop-color="#feff01"/><stop offset="0.932" stop-color="#b3ff4e"/><stop offset="0.960" stop-color="#72fe92"/><stop offset="0.994" stop-color="#1df0e3"/></linearGradient>
<linearGradient id="h2_10" x1="0" x2="1" y1="0" y2="0"><stop offset="0.003" stop-color="#0a1eef"/><stop offset="0.181" stop-color="#091cee"/><stop offset="0.215" stop-color="#0b22f0"/><stop offset="0.236" stop-color="#0d2ef4"/><stop offset="0.256" stop-color="#1248fa"/><stop offset="0.283" stop-color="#0c96ff"/><stop offset="0.304" stop-color="#02deff"/><stop offset="0.311" stop-color="#06ecf9"/><stop offset="0.324" stop-color="#1ff0e2"/><stop offset="0.338" stop-color="#25f1db"/><stop offset="0.352" stop-color="#1aefe6"/><stop offset="0.365" stop-color="#00ebff"/><stop offset="0.400" stop-color="#0c95ff"/><stop offset="0.413" stop-color="#0e83fe"/><stop offset="0.427" stop-color="#0e7cfd"/><stop offset="0.447" stop-color="#0e83fe"/><stop offset="0.468" stop-color="#0c9bff"/><stop offset="0.509" stop-color="#00ebff"/><stop offset="0.577" stop-color="#75fe8f"/><stop offset="0.611" stop-color="#aaff58"/><stop offset="0.659" stop-color="#e7ff19"/><stop offset="0.686" stop-color="#fffb00"/><stop offset="0.768" stop-color="#ffba00"/><stop offset="0.816" stop-color="#ffa900"/><stop offset="0.864" stop-color="#ffbc00"/><stop offset="0.885" stop-color="#ffd100"/><stop offset="0.912" stop-color="#fffa00"/><stop offset="0.919" stop-color="#f6ff09"/><stop offset="0.939" stop-color="#c6ff3c"/><stop offset="0.967" stop-color="#7aff8a"/><stop offset="0.994" stop-color="#2ff3d2"/></linearGradient>
<linearGradient id="h2_11" x1="0" x2="1" y1="0" y2="0"><stop offset="0.003" stop-color="#0a21ef"/><stop offset="0.174" stop-color="#0a20ef"/><stop offset="0.215" stop-color="#0d2df3"/><stop offset="0.236" stop-color="#1240f9"/><stop offset="0.242" stop-color="#114efb"/><stop offset="0.297" stop-color="#00ebff"/><stop offset="0.311" stop-color="#12eeee"/><stop offset="0.324" stop-color="#12eeed"/><stop offset="0.338" stop-color="#01ebfe"/><stop offset="0.372" stop-color="#0c94ff"/><stop offset="0.386" stop-color="#0e7afd"/><stop offset="0.400" stop-color="#0f6afc"/><stop offset="0.420" stop-color="#0f68fc"/><stop offset="0.434" stop-color="#0f73fd"/><stop offset="0.454" stop-color="#0d91fe"/><stop offset="0.488" stop-color="#02deff"/><stop offset="0.495" stop-color="#03ecfc"/><stop offset="0.550" stop-color="#73fe90"/><stop offset="0.591" stop-color="#c1ff40"/><stop offset="0.632" stop-color="#fffe00"/><stop offset="0.748" stop-color="#ff9400"/><stop offset="0.782" stop-color="#fd7e00"/><stop offset="0.809" stop-color="#fc7600"/><stop offset="0.837" stop-color="#fd7d00"/><stop offset="0.871" stop-color="#ff9a00"/><stop offset="0.898" stop-color="#ffc100"/><stop offset="0.926" stop-color="#fff600"/><stop offset="0.932" stop-color="#f8ff08"/><stop offset="0.939" stop-color="#e5ff1b"/><stop offset="0.973" stop-color="#7cff87"/><stop offset="0.994" stop-color="#40f6c2"/></linearGradient>
<linearGradient id="h2_12" x1="0" x2="1" y1="0" y2="0"><stop offset="0.003" stop-color="#0b24f0"/><stop offset="0.161" stop-color="#0c27f1"/><stop offset="0.202" stop-color="#0f34f5"/><stop offset="0.222" stop-color="#114afa"/><stop offset="0.242" stop-color="#0e7afd"/><stop offset="0.277" stop-color="#03daff"/><stop offset="0.290" stop-color="#04ecfb"/><stop offset="0.311" stop-color="#01ebfe"/><stop offset="0.318" stop-color="#01e2ff"/><stop offset="0.365" stop-color="#0f69fc"/><stop offset="0.386" stop-color="#114ffb"/><stop offset="0.400" stop-color="#114dfb"/><stop offset="0.413" stop-color="#1156fb"/><stop offset="0.434" stop-color="#0f75fd"/><stop offset="0.454" stop-color="#0ba0ff"/><stop offset="0.482" stop-color="#01ebfe"/><stop offset="0.529" stop-color="#76ff8e"/><stop offset="0.564" stop-color="#c7ff3a"/><stop offset="0.591" stop-color="#fdff02"/><stop offset="0.598" stop-color="#fff600"/><stop offset="0.652" stop-color="#ffb200"/><stop offset="0.734" stop-color="#fa6500"/><stop offset="0.768" stop-color="#f74b00"/><stop offset="0.803" stop-color="#f54000"/><stop offset="0.837" stop-color="#f74c00"/><stop offset="0.864" stop-color="#fa6800"/><stop offset="0.905" stop-color="#ffaf00"/><stop offset="0.939" stop-color="#fffe00"/><stop offset="0.980" stop-color="#79ff8b"/><stop offset="0.994" stop-color="#4ef8b4"/></linearGradient>
<linearGradient id="h2_13" x1="0" x2="1" y1="0" y2="0"><stop offset="0.003" stop-color="#0c28f2"/><stop offset="0.154" stop-color="#0e31f5"/><stop offset="0.188" stop-color="#113ef9"/><stop offset="0.215" stop-color="#0f6afc"/><stop offset="0.263" stop-color="#01e2ff"/><stop offset="0.277" stop-color="#05ecfa"/><stop offset="0.290" stop-color="#01ebfe"/><stop offset="0.297" stop-color="#01e2ff"/><stop offset="0.338" stop-color="#0f72fd"/><stop offset="0.359" stop-color="#1246fa"/><stop offset="0.372" stop-color="#103bf8"/><stop offset="0.393" stop-color="#113cf8"/><stop offset="0.406" stop-color="#1249fa"/><stop offset="0.427" stop-color="#0f70fd"/><stop offset="0.447" stop-color="#0ba3ff"/><stop offset="0.468" stop-color="#01e4ff"/><stop offset="0.475" stop-color="#0eedf2"/><stop offset="0.509" stop-color="#6ffd95"/><stop offset="0.543" stop-color="#cfff32"/><stop offset="0.564" stop-color="#fffd00"/><stop offset="0.611" stop-color="#ffad00"/><stop offset="0.673" stop-color="#fa6300"/><stop offset="0.748" stop-color="#f12100"/><stop offset="0.796" stop-color="#ef0f00"/><stop offset="0.830" stop-color="#f01b00"/><stop offset="0.864" stop-color="#f64300"/><stop offset="0.912" stop-color="#ffa600"/><stop offset="0.946" stop-color="#ffff00"/><stop offset="0.994" stop-color="#59faaa"/></linearGradient>
<linearGradient id="h2_14" x1="0" x2="1" y1="0" y2="0"><stop offset="0.003" stop-color="#0d2bf3"/><stop offset="0.133" stop-color="#113cf8"/><stop offset="0.161" stop-color="#1246fa"/><stop offset="0.195" stop-color="#0f75fd"/><stop offset="0.242" stop-color="#00e9ff"/><stop offset="0.263" stop-color="#10eeef"/><stop offset="0.283" stop-color="#01e4ff"/><stop offset="0.318" stop-color="#0e7cfd"/><stop offset="0.338" stop-color="#1246fa"/><stop offset="0.359" stop-color="#0e33f5"/><stop offset="0.379" stop-color="#0f33f5"/><stop offset="0.400" stop-color="#1243fa"/><stop offset="0.413" stop-color="#105ffc"/><stop offset="0.434" stop-color="#0d93ff"/><stop offset="0.454" stop-color="#03d8ff"/><stop offset="0.461" stop-color="#04ecfb"/><stop offset="0.495" stop-color="#71fe93"/><stop offset="0.536" stop-color="#f3ff0d"/><stop offset="0.543" stop-color="#fff900"/><stop offset="0.577" stop-color="#ffb100"/><stop offset="0.625" stop-color="#f96100"/><stop offset="0.659" stop-color="#f43700"/><stop offset="0.693" stop-color="#f01800"/><stop offset="0.714" stop-color="#ee0800"/><stop offset="0.782" stop-color="#df0400"/><stop offset="0.844" stop-color="#ee0800"/><stop offset="0.864" stop-color="#f22700"/><stop offset="0.885" stop-color="#f75100"/><stop offset="0.946" stop-color="#fff300"/><stop offset="0.953" stop-color="#f4ff0b"/><stop offset="0.994" stop-color="#60fba3"/></linearGradient>
<linearGradient id="h2_15" x1="0" x2="1" y1="0" y2="0"><stop offset="0.003" stop-color="#0d2ef3"/><stop offset="0.099" stop-color="#1243fa"/><stop offset="0.140" stop-color="#1158fb"/><stop offset="0.174" stop-color="#0d85fe"/><stop offset="0.215" stop-color="#01ebfe"/><stop offset="0.229" stop-color="#1bf0e5"/><stop offset="0.242" stop-color="#27f2d9"/><stop offset="0.256" stop-color="#22f1df"/><stop offset="0.270" stop-color="#0aedf5"/><stop offset="0.277" stop-color="#01e3ff"/><stop offset="0.311" stop-color="#0f70fd"/><stop offset="0.331" stop-color="#113ff9"/><stop offset="0.345" stop-color="#0f34f5"/><stop offset="0.365" stop-color="#0e31f5"/><stop offset="0.386" stop-color="#113ff9"/><stop offset="0.400" stop-color="#1156fb"/><stop offset="0.427" stop-color="#0c9bff"/><stop offset="0.447" stop-color="#01e5ff"/><stop offset="0.454" stop-color="#11eeee"/><stop offset="0.482" stop-color="#6efd96"/><stop offset="0.523" stop-color="#feff01"/><stop offset="0.550" stop-color="#ffba00"/><stop offset="0.591" stop-color="#fa6300"/><stop offset="0.618" stop-color="#f43400"/><stop offset="0.652" stop-color="#ee0a00"/><stop offset="0.775" stop-color="#d00100"/><stop offset="0.816" stop-color="#d70200"/><stop offset="0.857" stop-color="#ee0800"/><stop offset="0.891" stop-color="#f85300"/><stop offset="0.912" stop-color="#ff8d00"/><stop offset="0.953" stop-color="#faff05"/><stop offset="0.994" stop-color="#63fba0"/></linearGradient>
<linearGradient id="h2_16" x1="0" x2="1" y1="0" y2="0"><stop offset="0.003" stop-color="#0e2ff4"/><stop offset="0.072" stop-color="#1244fa"/><stop offset="0.120" stop-color="#1064fc"/><stop offset="0.154" stop-color="#0c94ff"/><stop offset="0.188" stop-color="#03ecfc"/><stop offset="0.208" stop-color="#32f3cf"/><stop offset="0.229" stop-color="#47f7bb"/><stop offset="0.249" stop-color="#36f4cc"/><stop offset="0.270" stop-color="#00ebff"/><stop offset="0.297" stop-color="#0d89fe"/><stop offset="0.318" stop-color="#1156fb"/><stop offset="0.331" stop-color="#1241fa"/><stop offset="0.359" stop-color="#113df8"/><stop offset="0.372" stop-color="#1246fa"/><stop offset="0.393" stop-color="#0f69fc"/><stop offset="0.413" stop-color="#0c99ff"/><stop offset="0.434" stop-color="#02dfff"/><stop offset="0.441" stop-color="#0cedf4"/><stop offset="0.468" stop-color="#6afd9a"/><stop offset="0.502" stop-color="#e9ff16"/><stop offset="0.509" stop-color="#fffd00"/><stop offset="0.570" stop-color="#f95c00"/><stop offset="0.598" stop-color="#f22500"/><stop offset="0.618" stop-color="#ec0800"/><stop offset="0.768" stop-color="#b20000"/><stop offset="0.789" stop-color="#b90000"/><stop offset="0.809" stop-color="#cd0000"/><stop offset="0.857" stop-color="#ea0700"/><stop offset="0.864" stop-color="#ef0c00"/><stop offset="0.885" stop-color="#f53d00"/><stop offset="0.912" stop-color="#ff8b00"/><stop offset="0.946" stop-color="#ffef00"/><stop offset="0.953" stop-color="#f9ff06"/><stop offset="0.994" stop-color="#62fba1"/></linearGradient>
<linearGradient id="h2_17" x1="0" x2="1" y1="0" y2="0"><stop offset="0.003" stop-color="#0e2ff4"/><stop offset="0.058" stop-color="#1242fa"/><stop offset="0.099" stop-color="#1065fc"/><stop offset="0.133" stop-color="#0c98ff"/><stop offset="0.161" stop-color="#01e3ff"/><stop offset="0.181" stop-color="#32f3cf"/><stop offset="0.202" stop-color="#5cfaa6"/><stop offset="0.222" stop-color="#67fc9c"/><stop offset="0.242" stop-color="#4af7b8"/><stop offset="0.263" stop-color="#11eeef"/><stop offset="0.270" stop-color="#01e5ff"/><stop offset="0.290" stop-color="#0b9fff"/><stop offset="0.304" stop-color="#0e7ffd"/><stop offset="0.318" stop-color="#0f69fc"/><stop offset="0.338" stop-color="#105cfb"/><stop offset="0.359" stop-color="#1063fc"/><stop offset="0.379" stop-color="#0e7dfd"/><stop offset="0.400" stop-color="#0aa7ff"/><stop offset="0.420" stop-color="#01e5ff"/><stop offset="0.427" stop-color="#0feef1"/><stop offset="0.454" stop-color="#68fc9b"/><stop offset="0.488" stop-color="#e9ff17"/><stop offset="0.495" stop-color="#fffd00"/><stop offset="0.557" stop-color="#f75000"/><stop offset="0.591" stop-color="#ee0800"/><stop offset="0.652" stop-color="#ce0000"/><stop offset="0.693" stop-color="#af0000"/><stop offset="0.748" stop-color="#9b0000"/><stop offset="0.782" stop-color="#a50000"/><stop offset="0.816" stop-color="#ce0000"/><stop offset="0.850" stop-color="#e50600"/><stop offset="0.864" stop-color="#ef1000"/><stop offset="0.878" stop-color="#f33100"/><stop offset="0.912" stop-color="#ff9200"/><stop offset="0.946" stop-color="#fff600"/><stop offset="0.953" stop-color="#f1ff0e"/><stop offset="0.994" stop-color="#5cfaa7"/></linearGradient>
<linearGradient id="h2_18" x1="0" x2="1" y1="0" y2="0"><stop offset="0.003" stop-color="#0d2df3"/><stop offset="0.058" stop-color="#1244fa"/><stop offset="0.085" stop-color="#1060fc"/><stop offset="0.120" stop-color="#0c9bff"/><stop offset="0.147" stop-color="#04ecfb"/><stop offset="0.167" stop-color="#41f6c1"/><stop offset="0.188" stop-color="#70fe94"/><stop offset="0.208" stop-color="#80ff84"/><stop offset="0.222" stop-color="#74fe8f"/><stop offset="0.236" stop-color="#5cfaa7"/><stop offset="0.270" stop-color="#01ebfe"/><stop offset="0.290" stop-color="#08b8ff"/><stop offset="0.304" stop-color="#0ba0ff"/><stop offset="0.331" stop-color="#0d8ffe"/><stop offset="0.352" stop-color="#0c96ff"/><stop offset="0.365" stop-color="#0ba4ff"/><stop offset="0.400" stop-color="#00e9ff"/><stop offset="0.413" stop-color="#20f0e0"/><stop offset="0.441" stop-color="#6ffe94"/><stop offset="0.475" stop-color="#e9ff17"/><stop offset="0.482" stop-color="#fffd00"/><stop offset="0.543" stop-color="#f74c00"/><stop offset="0.570" stop-color="#ef0c00"/><stop offset="0.577" stop-color="#ea0700"/><stop offset="0.625" stop-color="#cd0000"/><stop offset="0.645" stop-color="#b50000"/><stop offset="0.673" stop-color="#a00000"/><stop offset="0.734" stop-color="#930000"/><stop offset="0.775" stop-color="#a20000"/><stop offset="0.809" stop-color="#ce0000"/><stop offset="0.844" stop-color="#e50600"/><stop offset="0.857" stop-color="#ef0e00"/><stop offset="0.864" stop-color="#f11e00"/><stop offset="0.905" stop-color="#ff8e00"/><stop offset="0.946" stop-color="#fbff05"/><stop offset="0.980" stop-color="#7fff84"/><stop offset="0.994" stop-color="#53f9b0"/></linearGradient>
<linearGradient id="h2_19" x1="0" x2="1" y1="0" y2="0"><stop offset="0.003" stop-color="#0d2bf3"/><stop offset="0.058" stop-color="#1242fa"/><stop offset="0.079" stop-color="#105cfb"/><stop offset="0.106" stop-color="#0d90fe"/><stop offset="0.133" stop-color="#01e7ff"/><stop offset="0.167" stop-color="#61fba2"/><stop offset="0.181" stop-color="#7aff8a"/><stop offset="0.195" stop-color="#86ff7d"/><stop offset="0.208" stop-color="#81ff83"/><stop offset="0.222" stop-color="#6ffe94"/><stop offset="0.263" stop-color="#1ff0e1"/><stop offset="0.283" stop-color="#00ebff"/><stop offset="0.297" stop-color="#02dcff"/><stop offset="0.318" stop-color="#04d3ff"/><stop offset="0.338" stop-color="#03d7ff"/><stop offset="0.359" stop-color="#00e9ff"/><stop offset="0.386" stop-color="#25f1db"/><stop offset="0.413" stop-color="#5ffba4"/><stop offset="0.427" stop-color="#83ff81"/><stop offset="0.461" stop-color="#f0ff10"/><stop offset="0.468" stop-color="#fff900"/><stop offset="0.529" stop-color="#f74e00"/><stop offset="0.557" stop-color="#ef0c00"/><stop offset="0.611" stop-color="#c90000"/><stop offset="0.632" stop-color="#af0000"/><stop offset="0.659" stop-color="#9b0000"/><stop offset="0.714" stop-color="#980000"/><stop offset="0.755" stop-color="#a50000"/><stop offset="0.796" stop-color="#cf0000"/><stop offset="0.844" stop-color="#ee0900"/><stop offset="0.871" stop-color="#f64800"/><stop offset="0.932" stop-color="#ffee00"/><stop offset="0.939" stop-color="#fcff03"/><stop offset="0.973" stop-color="#87ff7d"/><stop offset="0.994" stop-color="#46f7bc"/></linearGradient>
<linearGradient id="h2_20" x1="0" x2="1" y1="0" y2="0"><stop offset="0.003" stop-color="#0c27f2"/><stop offset="0.051" stop-color="#113cf8"/><stop offset="0.072" stop-color="#1153fb"/><stop offset="0.099" stop-color="#0d8bfe"/><stop offset="0.126" stop-color="#01e3ff"/><stop offset="0.133" stop-color="#0eedf1"/><stop offset="0.161" stop-color="#57f9ac"/><stop offset="0.174" stop-color="#6cfd98"/><stop offset="0.188" stop-color="#74fe90"/><stop offset="0.208" stop-color="#6bfd99"/><stop offset="0.249" stop-color="#3bf5c6"/><stop offset="0.277" stop-color="#27f2da"/><stop offset="0.304" stop-color="#24f1dd"/><stop offset="0.331" stop-color="#2ef3d3"/><stop offset="0.365" stop-color="#4ef8b5"/><stop offset="0.393" stop-color="#77ff8d"/><stop offset="0.413" stop-color="#a5ff5d"/><stop offset="0.447" stop-color="#fffe00"/><stop offset="0.495" stop-color="#fe8700"/><stop offset="0.543" stop-color="#ef1100"/><stop offset="0.550" stop-color="#ec0700"/><stop offset="0.605" stop-color="#c60000"/><stop offset="0.639" stop-color="#a70000"/><stop offset="0.680" stop-color="#a20000"/><stop offset="0.727" stop-color="#b50000"/><stop offset="0.823" stop-color="#ec0800"/><stop offset="0.830" stop-color="#ef0f00"/><stop offset="0.857" stop-color="#f64900"/><stop offset="0.885" stop-color="#ff8e00"/><stop offset="0.926" stop-color="#fff500"/><stop offset="0.932" stop-color="#f6ff0a"/><stop offset="0.967" stop-color="#87ff7c"/><stop offset="0.994" stop-color="#36f4cb"/></linearGradient>
<linearGradient id="h2_21" x1="0" x2="1" y1="0" y2="0"><stop offset="0.003" stop-color="#0b24f1"/><stop offset="0.038" stop-color="#0e31f5"/><stop offset="0.065" stop-color="#1248fa"/><stop offset="0.099" stop-color="#0d91fe"/><stop offset="0.126" stop-color="#01e6ff"/><stop offset="0.133" stop-color="#0eedf2"/><stop offset="0.154" stop-color="#38f4c9"/><stop offset="0.174" stop-color="#4cf8b6"/><stop offset="0.256" stop-color="#3af5c8"/><stop offset="0.318" stop-color="#5cfaa6"/><stop offset="0.345" stop-color="#77ff8d"/><stop offset="0.365" stop-color="#92ff71"/><stop offset="0.393" stop-color="#c1ff40"/><stop offset="0.420" stop-color="#fbff05"/><stop offset="0.427" stop-color="#fff500"/><stop offset="0.475" stop-color="#ff9100"/><stop offset="0.536" stop-color="#ee0a00"/><stop offset="0.605" stop-color="#c90000"/><stop offset="0.625" stop-color="#bb0000"/><stop offset="0.652" stop-color="#b80000"/><stop offset="0.803" stop-color="#ee0c00"/><stop offset="0.844" stop-color="#f85500"/><stop offset="0.912" stop-color="#fff200"/><stop offset="0.919" stop-color="#fbff04"/><stop offset="0.960" stop-color="#81ff83"/><stop offset="0.994" stop-color="#24f1dd"/></linearGradient>
<linearGradient id="h2_22" x1="0" x2="1" y1="0" y2="0"><stop offset="0.003" stop-color="#0b22f0"/><stop offset="0.038" stop-color="#0e30f4"/><stop offset="0.065" stop-color="#114afa"/><stop offset="0.092" stop-color="#0e82fe"/><stop offset="0.126" stop-color="#03d5ff"/><stop offset="0.140" stop-color="#02ebfd"/><stop offset="0.167" stop-color="#17efe9"/><stop offset="0.208" stop-color="#18efe8"/><stop offset="0.236" stop-color="#23f1dd"/><stop offset="0.263" stop-color="#3cf5c5"/><stop offset="0.311" stop-color="#77ff8c"/><stop offset="0.352" stop-color="#b6ff4b"/><stop offset="0.393" stop-color="#ffff00"/><stop offset="0.454" stop-color="#ff9100"/><stop offset="0.523" stop-color="#ef0f00"/><stop offset="0.529" stop-color="#ed0800"/><stop offset="0.605" stop-color="#d10100"/><stop offset="0.666" stop-color="#d40200"/><stop offset="0.762" stop-color="#ee0b00"/><stop offset="0.789" stop-color="#f22a00"/><stop offset="0.816" stop-color="#f85300"/><stop offset="0.898" stop-color="#fff700"/><stop offset="0.905" stop-color="#f6ff09"/><stop offset="0.953" stop-color="#75fe8f"/><stop offset="0.994" stop-color="#10eef0"/></linearGradient>
<linearGradient id="h2_23" x1="0" x2="1" y1="0" y2="0"><stop offset="0.003" stop-color="#0b21f0"/><stop offset="0.031" stop-color="#0d2cf3"/><stop offset="0.058" stop-color="#1242fa"/><stop offset="0.106" stop-color="#0c95ff"/><stop offset="0.133" stop-color="#08b9ff"/><stop offset="0.195" stop-color="#05c9ff"/><stop offset="0.236" stop-color="#04ecfb"/><stop offset="0.304" stop-color="#76ff8e"/><stop offset="0.365" stop-color="#f2ff0d"/><stop offset="0.372" stop-color="#fffe00"/><stop offset="0.434" stop-color="#ff9100"/><stop offset="0.482" stop-color="#f43a00"/><stop offset="0.516" stop-color="#ee0900"/><stop offset="0.557" stop-color="#de0400"/><stop offset="0.598" stop-color="#d90300"/><stop offset="0.693" stop-color="#ec0800"/><stop offset="0.741" stop-color="#f32c00"/><stop offset="0.782" stop-color="#f85800"/><stop offset="0.837" stop-color="#ffac00"/><stop offset="0.878" stop-color="#fff800"/><stop offset="0.885" stop-color="#f8ff07"/><stop offset="0.939" stop-color="#74fe90"/><stop offset="0.987" stop-color="#09edf6"/><stop offset="0.994" stop-color="#01e5ff"/></linearGradient>
<linearGradient id="h2_24" x1="0" x2="1" y1="0" y2="0"><stop offset="0.003" stop-color="#0b22f0"/><stop offset="0.051" stop-color="#113ef9"/><stop offset="0.092" stop-color="#0f73fd"/><stop offset="0.113" stop-color="#0e84fe"/><stop offset="0.174" stop-color="#0d89fe"/><stop offset="0.202" stop-color="#0c96ff"/><stop offset="0.222" stop-color="#09b0ff"/><stop offset="0.256" stop-color="#04ecfb"/><stop offset="0.311" stop-color="#76ff8e"/><stop offset="0.365" stop-color="#fdff02"/><stop offset="0.420" stop-color="#ff9400"/><stop offset="0.454" stop-color="#f85300"/><stop offset="0.482" stop-color="#f22800"/><stop offset="0.509" stop-color="#ee0800"/><stop offset="0.570" stop-color="#e10500"/><stop offset="0.639" stop-color="#ed0800"/><stop offset="0.762" stop-color="#fd7c00"/><stop offset="0.809" stop-color="#ffb600"/><stop offset="0.850" stop-color="#fff600"/><stop offset="0.857" stop-color="#fcff04"/><stop offset="0.919" stop-color="#78ff8c"/><stop offset="0.980" stop-color="#00eaff"/><stop offset="0.994" stop-color="#05ccff"/></linearGradient>
<linearGradient id="h2_25" x1="0" x2="1" y1="0" y2="0"><stop offset="0.003" stop-color="#0b24f0"/><stop offset="0.092" stop-color="#1061fc"/><stop offset="0.161" stop-color="#105bfb"/><stop offset="0.188" stop-color="#1063fc"/><stop offset="0.208" stop-color="#0f76fd"/><stop offset="0.236" stop-color="#0c9bff"/><stop offset="0.270" stop-color="#01e4ff"/><stop offset="0.277" stop-color="#08ecf7"/><stop offset="0.324" stop-color="#79ff8b"/><stop offset="0.365" stop-color="#ecff13"/><stop offset="0.372" stop-color="#ffff00"/><stop offset="0.447" stop-color="#f95d00"/><stop offset="0.488" stop-color="#f11f00"/><stop offset="0.516" stop-color="#ee0800"/><stop offset="0.584" stop-color="#ed0800"/><stop offset="0.639" stop-color="#f33200"/><stop offset="0.721" stop-color="#ff8d00"/><stop offset="0.775" stop-color="#ffc300"/><stop offset="0.816" stop-color="#fff700"/><stop offset="0.823" stop-color="#fdff02"/><stop offset="0.891" stop-color="#7fff84"/><stop offset="0.960" stop-color="#09edf6"/><stop offset="0.967" stop-color="#00e8ff"/><stop offset="0.994" stop-color="#08b4ff"/></linearGradient>
<linearGradient id="h2_26" x1="0" x2="1" y1="0" y2="0"><stop offset="0.003" stop-color="#0c27f1"/><stop offset="0.079" stop-color="#114afa"/><stop offset="0.147" stop-color="#113cf8"/><stop offset="0.188" stop-color="#1243fa"/><stop offset="0.215" stop-color="#105cfb"/><stop offset="0.242" stop-color="#0e81fe"/><stop offset="0.263" stop-color="#0ba5ff"/><stop offset="0.290" stop-color="#01e6ff"/><stop offset="0.297" stop-color="#0bedf4"/><stop offset="0.338" stop-color="#73fe91"/><stop offset="0.379" stop-color="#efff11"/><stop offset="0.386" stop-color="#fffc00"/><stop offset="0.441" stop-color="#fd8000"/><stop offset="0.475" stop-color="#f64300"/><stop offset="0.509" stop-color="#f12000"/><stop offset="0.550" stop-color="#f01900"/><stop offset="0.577" stop-color="#f22600"/><stop offset="0.605" stop-color="#f53d00"/><stop offset="0.673" stop-color="#ff8f00"/><stop offset="0.775" stop-color="#fffb00"/><stop offset="0.809" stop-color="#d3ff2e"/><stop offset="0.864" stop-color="#7aff89"/><stop offset="0.946" stop-color="#00ebff"/><stop offset="0.994" stop-color="#0c9cff"/></linearGradient>
<linearGradient id="h2_27" x1="0" x2="1" y1="0" y2="0"><stop offset="0.003" stop-color="#0d2bf3"/><stop offset="0.065" stop-color="#113df9"/><stop offset="0.161" stop-color="#0d2ef4"/><stop offset="0.215" stop-color="#1241fa"/><stop offset="0.242" stop-color="#1060fc"/><stop offset="0.270" stop-color="#0d89fe"/><stop offset="0.283" stop-color="#0ba3ff"/><stop offset="0.311" stop-color="#01e7ff"/><stop offset="0.324" stop-color="#1ef0e2"/><stop offset="0.359" stop-color="#79ff8b"/><stop offset="0.400" stop-color="#f7ff08"/><stop offset="0.406" stop-color="#fff500"/><stop offset="0.441" stop-color="#ffa800"/><stop offset="0.482" stop-color="#fa6100"/><stop offset="0.516" stop-color="#f64300"/><stop offset="0.550" stop-color="#f54200"/><stop offset="0.598" stop-color="#fa6500"/><stop offset="0.721" stop-color="#fff900"/><stop offset="0.727" stop-color="#fdff02"/><stop offset="0.762" stop-color="#d3ff2d"/><stop offset="0.830" stop-color="#77ff8d"/><stop offset="0.919" stop-color="#03ebfc"/><stop offset="0.994" stop-color="#0d89fe"/></linearGradient>
<linearGradient id="h2_28" x1="0" x2="1" y1="0" y2="0"><stop offset="0.003" stop-color="#0d2df3"/><stop offset="0.051" stop-color="#0f36f6"/><stop offset="0.154" stop-color="#0b24f1"/><stop offset="0.229" stop-color="#113bf8"/><stop offset="0.249" stop-color="#114dfb"/><stop offset="0.283" stop-color="#0e7dfd"/><stop offset="0.304" stop-color="#0ba3ff"/><stop offset="0.331" stop-color="#01e7ff"/><stop offset="0.379" stop-color="#79ff8b"/><stop offset="0.413" stop-color="#dfff22"/><stop offset="0.427" stop-color="#fffb00"/><stop offset="0.454" stop-color="#ffc300"/><stop offset="0.482" stop-color="#ff9a00"/><stop offset="0.509" stop-color="#fd7f00"/><stop offset="0.536" stop-color="#fc7600"/><stop offset="0.564" stop-color="#fd7f00"/><stop offset="0.598" stop-color="#ff9a00"/><stop offset="0.680" stop-color="#fffd00"/><stop offset="0.782" stop-color="#7bff89"/><stop offset="0.885" stop-color="#04ecfb"/><stop offset="0.994" stop-color="#0e77fd"/></linearGradient>
<linearGradient id="h2_29" x1="0" x2="1" y1="0" y2="0"><stop offset="0.003" stop-color="#0d2df3"/><stop offset="0.044" stop-color="#0e30f4"/><stop offset="0.147" stop-color="#0a1fef"/><stop offset="0.195" stop-color="#0b25f1"/><stop offset="0.242" stop-color="#1037f7"/><stop offset="0.263" stop-color="#1245fa"/><stop offset="0.297" stop-color="#0f73fd"/><stop offset="0.324" stop-color="#0ba4ff"/><stop offset="0.352" stop-color="#01e7ff"/><stop offset="0.400" stop-color="#73fe91"/><stop offset="0.454" stop-color="#fcff03"/><stop offset="0.495" stop-color="#ffc900"/><stop offset="0.536" stop-color="#ffb400"/><stop offset="0.584" stop-color="#ffc500"/><stop offset="0.639" stop-color="#fffe00"/><stop offset="0.734" stop-color="#7aff8a"/><stop offset="0.850" stop-color="#00eaff"/><stop offset="0.926" stop-color="#0c9dff"/><stop offset="0.994" stop-color="#1066fc"/></linearGradient>
<linearGradient id="h2_30" x1="0" x2="1" y1="0" y2="0"><stop offset="0.003" stop-color="#0d2bf3"/><stop offset="0.147" stop-color="#091cee"/><stop offset="0.208" stop-color="#0b24f0"/><stop offset="0.256" stop-color="#0f35f6"/><stop offset="0.283" stop-color="#1247fa"/><stop offset="0.318" stop-color="#0f75fd"/><stop offset="0.338" stop-color="#0c97ff"/><stop offset="0.372" stop-color="#01e5ff"/><stop offset="0.379" stop-color="#0aedf6"/><stop offset="0.427" stop-color="#73fe91"/><stop offset="0.461" stop-color="#bbff47"/><stop offset="0.488" stop-color="#e6ff19"/><stop offset="0.516" stop-color="#fffd00"/><stop offset="0.543" stop-color="#fff500"/><stop offset="0.577" stop-color="#ffff00"/><stop offset="0.618" stop-color="#d9ff27"/><stop offset="0.700" stop-color="#6dfd97"/><stop offset="0.803" stop-color="#04ecfb"/><stop offset="0.891" stop-color="#0c99ff"/><stop offset="0.994" stop-color="#1157fb"/></linearGradient>
<linearGradient id="h2_31" x1="0" x2="1" y1="0" y2="0"><stop offset="0.003" stop-color="#0c28f2"/><stop offset="0.154" stop-color="#091bee"/><stop offset="0.215" stop-color="#0b22f0"/><stop offset="0.270" stop-color="#0f34f6"/><stop offset="0.297" stop-color="#1244fa"/><stop offset="0.331" stop-color="#0f6ffd"/><stop offset="0.359" stop-color="#0c99ff"/><stop offset="0.400" stop-color="#02ebfd"/><stop offset="0.468" stop-color="#79ff8b"/><stop offset="0.495" stop-color="#9eff65"/><stop offset="0.516" stop-color="#b0ff52"/><stop offset="0.557" stop-color="#baff48"/><stop offset="0.584" stop-color="#b0ff52"/><stop offset="0.611" stop-color="#9aff68"/><stop offset="0.707" stop-color="#33f4ce"/><stop offset="0.762" stop-color="#00eaff"/><stop offset="0.850" stop-color="#0c98ff"/><stop offset="0.994" stop-color="#1249fa"/></linearGradient>
<linearGradient id="h2_32" x1="0" x2="1" y1="0" y2="0"><stop offset="0.003" stop-color="#0b24f0"/><stop offset="0.154" stop-color="#091aed"/><stop offset="0.222" stop-color="#0a21ef"/><stop offset="0.270" stop-color="#0d2ef4"/><stop offset="0.311" stop-color="#1243fa"/><stop offset="0.338" stop-color="#1061fc"/><stop offset="0.379" stop-color="#0c98ff"/><stop offset="0.427" stop-color="#00ebff"/><stop offset="0.488" stop-color="#4ff8b3"/><stop offset="0.516" stop-color="#64fca0"/><stop offset="0.543" stop-color="#6dfd97"/><stop offset="0.570" stop-color="#6cfd98"/><stop offset="0.605" stop-color="#5dfaa6"/><stop offset="0.714" stop-color="#00e9ff"/><stop offset="0.796" stop-color="#0b9fff"/><stop offset="0.837" stop-color="#0e83fe"/><stop offset="0.898" stop-color="#1063fc"/><stop offset="0.994" stop-color="#113ff9"/></linearGradient>
<linearGradient id="h2_33" x1="0" x2="1" y1="0" y2="0"><stop offset="0.003" stop-color="#0a20ef"/><stop offset="0.181" stop-color="#091bee"/><stop offset="0.290" stop-color="#0e31f5"/><stop offset="0.324" stop-color="#1241fa"/><stop offset="0.352" stop-color="#105cfb"/><stop offset="0.468" stop-color="#01ebfe"/><stop offset="0.509" stop-color="#21f0e0"/><stop offset="0.543" stop-color="#2cf2d5"/><stop offset="0.591" stop-color="#26f1da"/><stop offset="0.652" stop-color="#03ebfc"/><stop offset="0.755" stop-color="#0c99ff"/><stop offset="0.830" stop-color="#0f6dfc"/><stop offset="0.905" stop-color="#114dfb"/><stop offset="0.994" stop-color="#1038f7"/></linearGradient>
<linearGradient id="h2_34" x1="0" x2="1" y1="0" y2="0"><stop offset="0.003" stop-color="#091cee"/><stop offset="0.188" stop-color="#091aed"/><stop offset="0.297" stop-color="#0e2ff4"/><stop offset="0.345" stop-color="#1245fa"/><stop offset="0.488" stop-color="#05c7ff"/><stop offset="0.550" stop-color="#02ddff"/><stop offset="0.618" stop-color="#05ccff"/><stop offset="0.727" stop-color="#0d89fe"/><stop offset="0.844" stop-color="#1150fb"/><stop offset="0.885" stop-color="#1242fa"/><stop offset="0.994" stop-color="#0e32f5"/></linearGradient>
<linearGradient id="h2_35" x1="0" x2="1" y1="0" y2="0"><stop offset="0.003" stop-color="#0919ed"/><stop offset="0.181" stop-color="#0919ed"/><stop offset="0.283" stop-color="#0c26f1"/><stop offset="0.359" stop-color="#1241fa"/><stop offset="0.482" stop-color="#0c94ff"/><stop offset="0.550" stop-color="#0aa6ff"/><stop offset="0.625" stop-color="#0c96ff"/><stop offset="0.823" stop-color="#1243fa"/><stop offset="0.994" stop-color="#0d2cf3"/></linearGradient>
<linearGradient id="h2_36" x1="0" x2="1" y1="0" y2="0"><stop offset="0.003" stop-color="#0816ec"/><stop offset="0.181" stop-color="#0817ec"/><stop offset="0.277" stop-color="#0b21f0"/><stop offset="0.386" stop-color="#1242fa"/><stop offset="0.482" stop-color="#0f72fd"/><stop offset="0.543" stop-color="#0e7dfd"/><stop offset="0.618" stop-color="#0f72fd"/><stop offset="0.789" stop-color="#113df8"/><stop offset="0.994" stop-color="#0c26f1"/></linearGradient>
<linearGradient id="h2_37" x1="0" x2="1" y1="0" y2="0"><stop offset="0.003" stop-color="#0714e8"/><stop offset="0.263" stop-color="#091bee"/><stop offset="0.482" stop-color="#1155fb"/><stop offset="0.536" stop-color="#105cfb"/><stop offset="0.816" stop-color="#0d2df3"/><stop offset="0.994" stop-color="#0a20ef"/></linearGradient>
<linearGradient id="h2_38" x1="0" x2="1" y1="0" y2="0"><stop offset="0.003" stop-color="#0612e4"/><stop offset="0.256" stop-color="#0816ec"/><stop offset="0.454" stop-color="#103bf8"/><stop offset="0.529" stop-color="#1240f9"/><stop offset="0.837" stop-color="#0a20ef"/><stop offset="0.994" stop-color="#0919ed"/></linearGradient>
<linearGradient id="h2_39" x1="0" x2="1" y1="0" y2="0"><stop offset="0.003" stop-color="#060fdf"/><stop offset="0.270" stop-color="#0714e8"/><stop offset="0.523" stop-color="#0e32f5"/><stop offset="0.837" stop-color="#0817ec"/><stop offset="0.994" stop-color="#0713e7"/></linearGradient>
<linearGradient id="h2_40" x1="0" x2="1" y1="0" y2="0"><stop offset="0.003" stop-color="#050ddb"/><stop offset="0.263" stop-color="#0611e3"/><stop offset="0.509" stop-color="#0c27f1"/><stop offset="0.782" stop-color="#0714e9"/><stop offset="0.994" stop-color="#050fde"/></linearGradient>
<linearGradient id="h2_41" x1="0" x2="1" y1="0" y2="0"><stop offset="0.003" stop-color="#040cda"/><stop offset="0.256" stop-color="#0610e1"/><stop offset="0.359" stop-color="#0816ec"/><stop offset="0.509" stop-color="#0a20ef"/><stop offset="0.994" stop-color="#040bd8"/></linearGradient>
<linearGradient id="h2_42" x1="0" x2="1" y1="0" y2="0"><stop offset="0.003" stop-color="#050ddc"/><stop offset="0.523" stop-color="#0a1dee"/><stop offset="0.994" stop-color="#0309d4"/></linearGradient>
<linearGradient id="h2_43" x1="0" x2="1" y1="0" y2="0"><stop offset="0.003" stop-color="#0611e2"/><stop offset="0.550" stop-color="#0a20ef"/><stop offset="0.686" stop-color="#0816ec"/><stop offset="0.994" stop-color="#0309d4"/></linearGradient>
<linearGradient id="h2_44" x1="0" x2="1" y1="0" y2="0"><stop offset="0.003" stop-color="#0818ed"/><stop offset="0.488" stop-color="#0d2cf3"/><stop offset="0.762" stop-color="#0816ec"/><stop offset="0.994" stop-color="#040bd7"/></linearGradient>
<linearGradient id="h2_45" x1="0" x2="1" y1="0" y2="0"><stop offset="0.003" stop-color="#0c26f1"/><stop offset="0.495" stop-color="#113cf8"/><stop offset="0.632" stop-color="#0e32f5"/><stop offset="0.844" stop-color="#0816ec"/><stop offset="0.994" stop-color="#050edd"/></linearGradient>
<linearGradient id="h2_46" x1="0" x2="1" y1="0" y2="0"><stop offset="0.003" stop-color="#0f37f6"/><stop offset="0.290" stop-color="#1155fb"/><stop offset="0.482" stop-color="#105bfb"/><stop offset="0.584" stop-color="#1151fb"/><stop offset="0.871" stop-color="#0a1dee"/><stop offset="0.994" stop-color="#0712e5"/></linearGradient>
<linearGradient id="h2_47" x1="0" x2="1" y1="0" y2="0"><stop offset="0.003" stop-color="#1150fb"/><stop offset="0.249" stop-color="#0e7dfd"/><stop offset="0.488" stop-color="#0e85fe"/><stop offset="0.611" stop-color="#0f72fd"/><stop offset="0.755" stop-color="#1242fa"/><stop offset="0.837" stop-color="#0e2ef4"/><stop offset="0.994" stop-color="#0816ec"/></linearGradient>
<linearGradient id="h2_48" x1="0" x2="1" y1="0" y2="0"><stop offset="0.003" stop-color="#0f74fd"/><stop offset="0.263" stop-color="#08b4ff"/><stop offset="0.365" stop-color="#07bdff"/><stop offset="0.488" stop-color="#07bbff"/><stop offset="0.564" stop-color="#09aeff"/><stop offset="0.639" stop-color="#0c95ff"/><stop offset="0.816" stop-color="#1242fa"/><stop offset="0.994" stop-color="#091cee"/></linearGradient>
<linearGradient id="h2_49" x1="0" x2="1" y1="0" y2="0"><stop offset="0.003" stop-color="#0c9cff"/><stop offset="0.113" stop-color="#05cbff"/><stop offset="0.208" stop-color="#00ebff"/><stop offset="0.304" stop-color="#10eef0"/><stop offset="0.406" stop-color="#14eeec"/><stop offset="0.495" stop-color="#10eef0"/><stop offset="0.570" stop-color="#00ebff"/><stop offset="0.652" stop-color="#06c5ff"/><stop offset="0.857" stop-color="#1242fa"/><stop offset="0.994" stop-color="#0a21ef"/></linearGradient>
<linearGradient id="h2_50" x1="0" x2="1" y1="0" y2="0"><stop offset="0.003" stop-color="#04cfff"/><stop offset="0.058" stop-color="#03ebfc"/><stop offset="0.154" stop-color="#2df2d4"/><stop offset="0.236" stop-color="#46f7bb"/><stop offset="0.318" stop-color="#54f9ae"/><stop offset="0.406" stop-color="#58faab"/><stop offset="0.488" stop-color="#53f9af"/><stop offset="0.550" stop-color="#46f7bc"/><stop offset="0.611" stop-color="#2cf2d5"/><stop offset="0.680" stop-color="#01ebfe"/><stop offset="0.768" stop-color="#0c9bff"/><stop offset="0.878" stop-color="#1249fa"/><stop offset="0.994" stop-color="#0b25f1"/></linearGradient>
<linearGradient id="h2_51" x1="0" x2="1" y1="0" y2="0"><stop offset="0.003" stop-color="#18efe8"/><stop offset="0.120" stop-color="#5cfaa6"/><stop offset="0.229" stop-color="#8cff77"/><stop offset="0.318" stop-color="#a2ff61"/><stop offset="0.413" stop-color="#a5ff5d"/><stop offset="0.502" stop-color="#9cff66"/><stop offset="0.570" stop-color="#83ff80"/><stop offset="0.652" stop-color="#4ef8b4"/><stop offset="0.734" stop-color="#02ebfd"/><stop offset="0.809" stop-color="#0c97ff"/><stop offset="0.885" stop-color="#1156fb"/><stop offset="0.919" stop-color="#1240f9"/><stop offset="0.994" stop-color="#0c29f2"/></linearGradient>
<linearGradient id="h2_52" x1="0" x2="1" y1="0" y2="0"><stop offset="0.003" stop-color="#4bf7b7"/><stop offset="0.140" stop-color="#afff53"/><stop offset="0.236" stop-color="#e1ff1f"/><stop offset="0.324" stop-color="#f8ff07"/><stop offset="0.434" stop-color="#fbff05"/><stop offset="0.516" stop-color="#edff13"/><stop offset="0.591" stop-color="#c5ff3c"/><stop offset="0.652" stop-color="#8eff75"/><stop offset="0.768" stop-color="#06ecf9"/><stop offset="0.775" stop-color="#00e9ff"/><stop offset="0.837" stop-color="#0c96ff"/><stop offset="0.898" stop-color="#105cfb"/><stop offset="0.932" stop-color="#1242fa"/><stop offset="0.994" stop-color="#0d2df3"/></linearGradient>
<linearGradient id="h2_53" x1="0" x2="1" y1="0" y2="0"><stop offset="0.003" stop-color="#7fff84"/><stop offset="0.147" stop-color="#ffff00"/><stop offset="0.263" stop-color="#ffc800"/><stop offset="0.379" stop-color="#ffb800"/><stop offset="0.509" stop-color="#ffc400"/><stop offset="0.564" stop-color="#ffdc00"/><stop offset="0.611" stop-color="#fffd00"/><stop offset="0.659" stop-color="#cbff36"/><stop offset="0.714" stop-color="#7dff87"/><stop offset="0.803" stop-color="#00e8ff"/><stop offset="0.850" stop-color="#0ba0ff"/><stop offset="0.898" stop-color="#0f6bfc"/><stop offset="0.946" stop-color="#1242fa"/><stop offset="0.994" stop-color="#0e30f4"/></linearGradient>
<linearGradient id="h2_54" x1="0" x2="1" y1="0" y2="0"><stop offset="0.003" stop-color="#b7ff4a"/><stop offset="0.072" stop-color="#fffd00"/><stop offset="0.154" stop-color="#ffbc00"/><stop offset="0.222" stop-color="#ff9300"/><stop offset="0.304" stop-color="#fc7400"/><stop offset="0.379" stop-color="#fb6c00"/><stop offset="0.468" stop-color="#fc7100"/><stop offset="0.529" stop-color="#fe8500"/><stop offset="0.598" stop-color="#ffb200"/><stop offset="0.666" stop-color="#fffc00"/><stop offset="0.693" stop-color="#d8ff29"/><stop offset="0.748" stop-color="#77ff8d"/><stop offset="0.823" stop-color="#01e8ff"/><stop offset="0.871" stop-color="#0c9aff"/><stop offset="0.905" stop-color="#0f72fd"/><stop offset="0.953" stop-color="#1246fa"/><stop offset="0.994" stop-color="#0f34f5"/></linearGradient>
<linearGradient id="h2_55" x1="0" x2="1" y1="0" y2="0"><stop offset="0.003" stop-color="#ebff15"/><stop offset="0.024" stop-color="#fffa00"/><stop offset="0.120" stop-color="#ff9e00"/><stop offset="0.229" stop-color="#f64900"/><stop offset="0.304" stop-color="#f22900"/><stop offset="0.379" stop-color="#f12000"/><stop offset="0.475" stop-color="#f22700"/><stop offset="0.550" stop-color="#f64900"/><stop offset="0.591" stop-color="#fb6d00"/><stop offset="0.632" stop-color="#ff9c00"/><stop offset="0.700" stop-color="#fffc00"/><stop offset="0.768" stop-color="#7aff8a"/><stop offset="0.837" stop-color="#00ebff"/><stop offset="0.878" stop-color="#0ba3ff"/><stop offset="0.912" stop-color="#0e77fd"/><stop offset="0.967" stop-color="#1243fa"/><stop offset="0.994" stop-color="#0f37f6"/></linearGradient>
<linearGradient id="h2_56" x1="0" x2="1" y1="0" y2="0"><stop offset="0.003" stop-color="#ffeb00"/><stop offset="0.147" stop-color="#f74e00"/><stop offset="0.236" stop-color="#ee0800"/><stop offset="0.379" stop-color="#dd0400"/><stop offset="0.475" stop-color="#e00500"/><stop offset="0.543" stop-color="#ee0800"/><stop offset="0.577" stop-color="#f22400"/><stop offset="0.618" stop-color="#f85500"/><stop offset="0.721" stop-color="#fffa00"/><stop offset="0.727" stop-color="#f6ff09"/><stop offset="0.789" stop-color="#6ffe95"/><stop offset="0.844" stop-color="#07ecf8"/><stop offset="0.850" stop-color="#01e6ff"/><stop offset="0.891" stop-color="#0c9cff"/><stop offset="0.919" stop-color="#0e79fd"/><stop offset="0.967" stop-color="#1248fa"/><stop offset="0.994" stop-color="#1039f7"/></linearGradient>
<linearGradient id="h2_57" x1="0" x2="1" y1="0" y2="0"><stop offset="0.003" stop-color="#ffcf00"/><stop offset="0.113" stop-color="#f64900"/><stop offset="0.174" stop-color="#ee0900"/><stop offset="0.365" stop-color="#bd0000"/><stop offset="0.434" stop-color="#bf0000"/><stop offset="0.523" stop-color="#d40200"/><stop offset="0.591" stop-color="#ed0800"/><stop offset="0.598" stop-color="#ef0f00"/><stop offset="0.645" stop-color="#f85600"/><stop offset="0.734" stop-color="#fff900"/><stop offset="0.741" stop-color="#f6ff09"/><stop offset="0.796" stop-color="#76ff8e"/><stop offset="0.857" stop-color="#01e7ff"/><stop offset="0.898" stop-color="#0c9bff"/><stop offset="0.919" stop-color="#0e80fd"/><stop offset="0.967" stop-color="#114dfb"/><stop offset="0.994" stop-color="#103bf8"/></linearGradient>
<linearGradient id="h2_58" x1="0" x2="1" y1="0" y2="0"><stop offset="0.003" stop-color="#ffbd00"/><stop offset="0.147" stop-color="#ee0900"/><stop offset="0.236" stop-color="#ce0000"/><stop offset="0.311" stop-color="#9b0000"/><stop offset="0.365" stop-color="#8e0000"/><stop offset="0.468" stop-color="#980000"/><stop offset="0.502" stop-color="#aa0000"/><stop offset="0.543" stop-color="#ce0000"/><stop offset="0.611" stop-color="#ed0800"/><stop offset="0.618" stop-color="#ef1000"/><stop offset="0.659" stop-color="#f85500"/><stop offset="0.741" stop-color="#fff700"/><stop offset="0.748" stop-color="#f8ff07"/><stop offset="0.796" stop-color="#83ff80"/><stop offset="0.857" stop-color="#05ecfa"/><stop offset="0.898" stop-color="#0ba2ff"/><stop offset="0.919" stop-color="#0e84fe"/><stop offset="0.960" stop-color="#1156fb"/><stop offset="0.994" stop-color="#113cf8"/></linearGradient>
<linearGradient id="h2_59" x1="0" x2="1" y1="0" y2="0"><stop offset="0.003" stop-color="#ffb700"/><stop offset="0.140" stop-color="#ee0800"/><stop offset="0.222" stop-color="#ce0000"/><stop offset="0.270" stop-color="#a40000"/><stop offset="0.304" stop-color="#8f0000"/><stop offset="0.365" stop-color="#7e0000"/><stop offset="0.427" stop-color="#800000"/><stop offset="0.475" stop-color="#8b0000"/><stop offset="0.509" stop-color="#a00000"/><stop offset="0.564" stop-color="#d10100"/><stop offset="0.618" stop-color="#ee0800"/><stop offset="0.659" stop-color="#f74d00"/><stop offset="0.693" stop-color="#ff9200"/><stop offset="0.748" stop-color="#feff01"/><stop offset="0.803" stop-color="#77ff8d"/><stop offset="0.850" stop-color="#15eeeb"/><stop offset="0.864" stop-color="#01e5ff"/><stop offset="0.898" stop-color="#0ba4ff"/><stop offset="0.919" stop-color="#0d86fe"/><stop offset="0.960" stop-color="#1156fb"/><stop offset="0.994" stop-color="#113cf8"/></linearGradient>
<linearGradient id="h2_60" x1="0" x2="1" y1="0" y2="0"><stop offset="0.003" stop-color="#ffbd00"/><stop offset="0.147" stop-color="#ee0900"/><stop offset="0.236" stop-color="#ce0000"/><stop offset="0.311" stop-color="#9c0000"/><stop offset="0.365" stop-color="#8f0000"/><stop offset="0.468" stop-color="#990000"/><stop offset="0.502" stop-color="#ab0000"/><stop offset="0.543" stop-color="#ce0000"/><stop offset="0.611" stop-color="#ed0800"/><stop offset="0.652" stop-color="#f64900"/><stop offset="0.686" stop-color="#ff8c00"/><stop offset="0.741" stop-color="#fff700"/><stop offset="0.748" stop-color="#f8ff08"/><stop offset="0.796" stop-color="#83ff81"/><stop offset="0.857" stop-color="#04ecfb"/><stop offset="0.898" stop-color="#0ba1ff"/><stop offset="0.919" stop-color="#0e84fe"/><stop offset="0.960" stop-color="#1155fb"/><stop offset="0.994" stop-color="#113cf8"/></linearGradient>
<linearGradient id="h2_61" x1="0" x2="1" y1="0" y2="0"><stop offset="0.003" stop-color="#ffcf00"/><stop offset="0.113" stop-color="#f74a00"/><stop offset="0.174" stop-color="#ee0a00"/><stop offset="0.365" stop-color="#be0000"/><stop offset="0.434" stop-color="#c00000"/><stop offset="0.523" stop-color="#d50200"/><stop offset="0.591" stop-color="#ee0800"/><stop offset="0.598" stop-color="#ef1000"/><stop offset="0.645" stop-color="#f85700"/><stop offset="0.734" stop-color="#fffa00"/><stop offset="0.741" stop-color="#f5ff0a"/><stop offset="0.796" stop-color="#75fe8f"/><stop offset="0.844" stop-color="#15efeb"/><stop offset="0.857" stop-color="#01e6ff"/><stop offset="0.898" stop-color="#0c9aff"/><stop offset="0.919" stop-color="#0e7ffd"/><stop offset="0.967" stop-color="#114cfb"/><stop offset="0.994" stop-color="#103bf8"/></linearGradient>
<linearGradient id="h2_62" x1="0" x2="1" y1="0" y2="0"><stop offset="0.003" stop-color="#ffec00"/><stop offset="0.147" stop-color="#f75000"/><stop offset="0.236" stop-color="#ee0900"/><stop offset="0.379" stop-color="#de0400"/><stop offset="0.475" stop-color="#e10500"/><stop offset="0.543" stop-color="#ee0800"/><stop offset="0.577" stop-color="#f22600"/><stop offset="0.611" stop-color="#f74d00"/><stop offset="0.673" stop-color="#ffa900"/><stop offset="0.721" stop-color="#fffb00"/><stop offset="0.727" stop-color="#f5ff0a"/><stop offset="0.782" stop-color="#7cff88"/><stop offset="0.844" stop-color="#07ecf9"/><stop offset="0.850" stop-color="#01e5ff"/><stop offset="0.891" stop-color="#0c9bff"/><stop offset="0.919" stop-color="#0e78fd"/><stop offset="0.967" stop-color="#1248fa"/><stop offset="0.994" stop-color="#1039f7"/></linearGradient>
<linearGradient id="h2_63" x1="0" x2="1" y1="0" y2="0"><stop offset="0.003" stop-color="#eaff15"/><stop offset="0.024" stop-color="#fffb00"/><stop offset="0.120" stop-color="#ff9e00"/><stop offset="0.229" stop-color="#f64a00"/><stop offset="0.304" stop-color="#f22a00"/><stop offset="0.379" stop-color="#f12000"/><stop offset="0.475" stop-color="#f22800"/><stop offset="0.550" stop-color="#f64a00"/><stop offset="0.584" stop-color="#fa6700"/><stop offset="0.632" stop-color="#ff9d00"/><stop offset="0.700" stop-color="#fffd00"/><stop offset="0.768" stop-color="#79ff8b"/><stop offset="0.837" stop-color="#00eaff"/><stop offset="0.878" stop-color="#0ba3ff"/><stop offset="0.912" stop-color="#0e77fd"/><stop offset="0.967" stop-color="#1242fa"/><stop offset="0.994" stop-color="#0f37f6"/></linearGradient>
<linearGradient id="h2_64" x1="0" x2="1" y1="0" y2="0"><stop offset="0.003" stop-color="#b9ff49"/><stop offset="0.072" stop-color="#fffb00"/><stop offset="0.154" stop-color="#ffba00"/><stop offset="0.222" stop-color="#ff9200"/><stop offset="0.297" stop-color="#fc7400"/><stop offset="0.372" stop-color="#fb6a00"/><stop offset="0.461" stop-color="#fb6f00"/><stop offset="0.529" stop-color="#fe8400"/><stop offset="0.598" stop-color="#ffb100"/><stop offset="0.666" stop-color="#fffa00"/><stop offset="0.686" stop-color="#e4ff1c"/><stop offset="0.748" stop-color="#79ff8b"/><stop offset="0.823" stop-color="#00e9ff"/><stop offset="0.871" stop-color="#0c9bff"/><stop offset="0.905" stop-color="#0f74fd"/><stop offset="0.960" stop-color="#1242fa"/><stop offset="0.994" stop-color="#0f35f6"/></linearGradient>
<linearGradient id="h2_65" x1="0" x2="1" y1="0" y2="0"><stop offset="0.003" stop-color="#85ff7f"/><stop offset="0.140" stop-color="#ffff00"/><stop offset="0.256" stop-color="#ffc600"/><stop offset="0.318" stop-color="#ffb800"/><stop offset="0.379" stop-color="#ffb400"/><stop offset="0.454" stop-color="#ffb600"/><stop offset="0.516" stop-color="#ffc300"/><stop offset="0.570" stop-color="#ffdc00"/><stop offset="0.618" stop-color="#ffff00"/><stop offset="0.666" stop-color="#c7ff3a"/><stop offset="0.721" stop-color="#78ff8c"/><stop offset="0.803" stop-color="#02ebfd"/><stop offset="0.857" stop-color="#0c9bff"/><stop offset="0.898" stop-color="#0f6ffd"/><stop offset="0.953" stop-color="#1242fa"/><stop offset="0.994" stop-color="#0f33f5"/></linearGradient>
<linearGradient id="h2_66" x1="0" x2="1" y1="0" y2="0"><stop offset="0.003" stop-color="#54f9ae"/><stop offset="0.147" stop-color="#beff44"/><stop offset="0.249" stop-color="#f0ff0f"/><stop offset="0.304" stop-color="#ffff00"/><stop offset="0.379" stop-color="#fffa00"/><stop offset="0.482" stop-color="#ffff00"/><stop offset="0.550" stop-color="#e8ff18"/><stop offset="0.611" stop-color="#bfff42"/><stop offset="0.680" stop-color="#79ff8b"/><stop offset="0.782" stop-color="#00e9ff"/><stop offset="0.844" stop-color="#0c98ff"/><stop offset="0.891" stop-color="#0f6afc"/><stop offset="0.946" stop-color="#1242fa"/><stop offset="0.994" stop-color="#0e32f5"/></linearGradient>
<linearGradient id="h2_67" x1="0" x2="1" y1="0" y2="0"><stop offset="0.003" stop-color="#26f1db"/><stop offset="0.113" stop-color="#67fc9c"/><stop offset="0.229" stop-color="#9cff67"/><stop offset="0.318" stop-color="#b1ff51"/><stop offset="0.420" stop-color="#b4ff4e"/><stop offset="0.509" stop-color="#a9ff59"/><stop offset="0.577" stop-color="#8fff74"/><stop offset="0.659" stop-color="#56f9ac"/><stop offset="0.748" stop-color="#02ebfd"/><stop offset="0.823" stop-color="#0c97ff"/><stop offset="0.885" stop-color="#1063fc"/><stop offset="0.932" stop-color="#1243fa"/><stop offset="0.994" stop-color="#0e31f5"/></linearGradient>
<linearGradient id="h2_68" x1="0" x2="1" y1="0" y2="0"><stop offset="0.003" stop-color="#01e3ff"/><stop offset="0.024" stop-color="#03ecfc"/><stop offset="0.126" stop-color="#34f4ce"/><stop offset="0.215" stop-color="#53f9b0"/><stop offset="0.297" stop-color="#63fca0"/><stop offset="0.379" stop-color="#68fc9c"/><stop offset="0.482" stop-color="#64fc9f"/><stop offset="0.557" stop-color="#54f9af"/><stop offset="0.625" stop-color="#35f4cc"/><stop offset="0.700" stop-color="#02ebfd"/><stop offset="0.789" stop-color="#0c9aff"/><stop offset="0.878" stop-color="#1059fb"/><stop offset="0.919" stop-color="#1242fa"/><stop offset="0.994" stop-color="#0e2ff4"/></linearGradient>
<linearGradient id="h2_69" x1="0" x2="1" y1="0" y2="0"><stop offset="0.003" stop-color="#09b0ff"/><stop offset="0.147" stop-color="#01ebfe"/><stop offset="0.263" stop-color="#1df0e4"/><stop offset="0.379" stop-color="#25f1dc"/><stop offset="0.509" stop-color="#1ef0e2"/><stop offset="0.611" stop-color="#02ebfd"/><stop offset="0.659" stop-color="#03d4ff"/><stop offset="0.796" stop-color="#0e78fd"/><stop offset="0.885" stop-color="#1245fa"/><stop offset="0.994" stop-color="#0d2bf3"/></linearGradient>
<linearGradient id="h2_70" x1="0" x2="1" y1="0" y2="0"><stop offset="0.003" stop-color="#0e84fe"/><stop offset="0.161" stop-color="#09b2ff"/><stop offset="0.256" stop-color="#06c5ff"/><stop offset="0.359" stop-color="#04cdff"/><stop offset="0.488" stop-color="#05caff"/><stop offset="0.618" stop-color="#09adff"/><stop offset="0.850" stop-color="#1241fa"/><stop offset="0.994" stop-color="#0b25f1"/></linearGradient>
<linearGradient id="h2_71" x1="0" x2="1" y1="0" y2="0"><stop offset="0.003" stop-color="#105dfc"/><stop offset="0.249" stop-color="#0d89fe"/><stop offset="0.495" stop-color="#0d8cfe"/><stop offset="0.625" stop-color="#0e78fd"/><stop offset="0.830" stop-color="#1037f7"/><stop offset="0.994" stop-color="#0a1dee"/></linearGradient>
<linearGradient id="h2_72" x1="0" x2="1" y1="0" y2="0"><stop offset="0.003" stop-color="#113df9"/><stop offset="0.256" stop-color="#105cfb"/><stop offset="0.482" stop-color="#105ffc"/><stop offset="0.584" stop-color="#1156fb"/><stop offset="0.850" stop-color="#0c25f1"/><stop offset="0.994" stop-color="#0816eb"/></linearGradient>
<linearGradient id="h2_73" x1="0" x2="1" y1="0" y2="0"><stop offset="0.003" stop-color="#0d2bf3"/><stop offset="0.256" stop-color="#103bf8"/><stop offset="0.509" stop-color="#103bf8"/><stop offset="0.994" stop-color="#0611e2"/></linearGradient>
<linearGradient id="h2_74" x1="0" x2="1" y1="0" y2="0"><stop offset="0.003" stop-color="#0a1dee"/><stop offset="0.495" stop-color="#0c29f2"/><stop offset="0.789" stop-color="#0816ec"/><stop offset="0.994" stop-color="#050ddb"/></linearGradient>
<linearGradient id="h2_75" x1="0" x2="1" y1="0" y2="0"><stop offset="0.003" stop-color="#0714e8"/><stop offset="0.345" stop-color="#091bee"/><stop offset="0.652" stop-color="#0816ec"/><stop offset="0.994" stop-color="#040ad6"/></linearGradient>
<linearGradient id="h2_76" x1="0" x2="1" y1="0" y2="0"><stop offset="0.003" stop-color="#050fde"/><stop offset="0.516" stop-color="#0712e5"/><stop offset="0.994" stop-color="#0308d2"/></linearGradient>
<linearGradient id="h2_77" x1="0" x2="1" y1="0" y2="0"><stop offset="0.003" stop-color="#040bd8"/><stop offset="0.516" stop-color="#050edc"/><stop offset="0.994" stop-color="#0207d0"/></linearGradient>
<linearGradient id="h2_78" x1="0" x2="1" y1="0" y2="0"><stop offset="0.003" stop-color="#0309d4"/><stop offset="0.516" stop-color="#040ad6"/><stop offset="0.994" stop-color="#0206ce"/></linearGradient>
<linearGradient id="h2_79" x1="0" x2="1" y1="0" y2="0"><stop offset="0.003" stop-color="#0308d1"/><stop offset="0.994" stop-color="#0206ce"/></linearGradient>
<linearGradient id="h2_80" x1="0" x2="1" y1="0" y2="0"><stop offset="0.003" stop-color="#0307d0"/><stop offset="0.994" stop-color="#0206ce"/></linearGradient>
<linearGradient id="h2_81" x1="0" x2="1" y1="0" y2="0"><stop offset="0.003" stop-color="#0307d1"/><stop offset="0.994" stop-color="#0207cf"/></linearGradient>
<linearGradient id="h2_82" x1="0" x2="1" y1="0" y2="0"><stop offset="0.003" stop-color="#0308d2"/><stop offset="0.994" stop-color="#0308d1"/></linearGradient>
<linearGradient id="h2_83" x1="0" x2="1" y1="0" y2="0"><stop offset="0.003" stop-color="#0309d4"/><stop offset="0.994" stop-color="#0309d4"/></linearGradient>
<linearGradient id="h2_84" x1="0" x2="1" y1="0" y2="0"><stop offset="0.003" stop-color="#040bd7"/><stop offset="0.994" stop-color="#040bd7"/></linearGradient>
<linearGradient id="h2_85" x1="0" x2="1" y1="0" y2="0"><stop offset="0.003" stop-color="#040cda"/><stop offset="0.994" stop-color="#040cda"/></linearGradient>
<linearGradient id="h2_86" x1="0" x2="1" y1="0" y2="0"><stop offset="0.003" stop-color="#050edd"/><stop offset="0.994" stop-color="#050edd"/></linearGradient>
<linearGradient id="h2_87" x1="0" x2="1" y1="0" y2="0"><stop offset="0.003" stop-color="#0610e0"/><stop offset="0.994" stop-color="#0610e0"/></linearGradient>
<radialGradient id="gRu" cx="0.4" cy="0.35" r="0.7"><stop offset="0" stop-color="#8cc8ff"/><stop offset="0.6" stop-color="#3b8fe0"/><stop offset="1" stop-color="#1c5cb0"/></radialGradient>
<radialGradient id="gFe" cx="0.4" cy="0.35" r="0.7"><stop offset="0" stop-color="#b8bcd8"/><stop offset="0.6" stop-color="#8088c0"/><stop offset="1" stop-color="#2a40b0"/></radialGradient>
<radialGradient id="gNi" cx="0.4" cy="0.35" r="0.7"><stop offset="0" stop-color="#a8f0a0"/><stop offset="0.6" stop-color="#50c858"/><stop offset="1" stop-color="#2a9040"/></radialGradient>
<radialGradient id="gRu2" cx="0.4" cy="0.35" r="0.7"><stop offset="0" stop-color="#9ad0ff"/><stop offset="0.6" stop-color="#4a9ee8"/><stop offset="1" stop-color="#2060c0"/></radialGradient>
<radialGradient id="gO" cx="0.4" cy="0.35" r="0.7"><stop offset="0" stop-color="#ff5a50"/><stop offset="0.6" stop-color="#dd1010"/><stop offset="1" stop-color="#900000"/></radialGradient></defs>
<rect width="392" height="464" fill="#fff"/>
<text x="0.60" y="16.30" font-size="17.20" text-anchor="start" font-weight="bold" fill="#000" >A</text>
<text x="213.20" y="16.30" font-size="17.20" text-anchor="start" font-weight="bold" fill="#000" >B</text>
<text x="1.30" y="171.10" font-size="17.20" text-anchor="start" font-weight="bold" fill="#000" >C</text>
<text x="214.60" y="171.00" font-size="17.20" text-anchor="start" font-weight="bold" fill="#000" >D</text>
<text x="214.60" y="350.80" font-size="17.20" text-anchor="start" font-weight="bold" fill="#000" >E</text>
<rect x="42.50" y="2.50" width="153.60" height="123.60" fill="none" stroke="#222" stroke-width="1.4"/>
<line x1="50.90" y1="126.10" x2="50.90" y2="127.50" stroke="#111" stroke-width="0.9"/>
<line x1="67.00" y1="126.10" x2="67.00" y2="128.50" stroke="#111" stroke-width="0.9"/>
<line x1="83.10" y1="126.10" x2="83.10" y2="127.50" stroke="#111" stroke-width="0.9"/>
<line x1="99.20" y1="126.10" x2="99.20" y2="128.50" stroke="#111" stroke-width="0.9"/>
<line x1="115.30" y1="126.10" x2="115.30" y2="127.50" stroke="#111" stroke-width="0.9"/>
<line x1="131.40" y1="126.10" x2="131.40" y2="128.50" stroke="#111" stroke-width="0.9"/>
<line x1="147.50" y1="126.10" x2="147.50" y2="127.50" stroke="#111" stroke-width="0.9"/>
<line x1="163.60" y1="126.10" x2="163.60" y2="128.50" stroke="#111" stroke-width="0.9"/>
<line x1="179.70" y1="126.10" x2="179.70" y2="127.50" stroke="#111" stroke-width="0.9"/>
<text x="67.00" y="136.90" font-size="8.60" text-anchor="middle" font-weight="normal" fill="#222" >22120</text>
<text x="99.20" y="136.90" font-size="8.60" text-anchor="middle" font-weight="normal" fill="#222" >22140</text>
<text x="131.40" y="136.90" font-size="8.60" text-anchor="middle" font-weight="normal" fill="#222" >22160</text>
<text x="163.60" y="136.90" font-size="8.60" text-anchor="middle" font-weight="normal" fill="#222" >22180</text>
<text x="195.80" y="136.90" font-size="8.60" text-anchor="middle" font-weight="normal" fill="#222" >22200</text>
<text x="119.40" y="147.40" font-size="8.30" text-anchor="middle" font-weight="normal" fill="#222" >Energy (eV)</text>
<text transform="translate(33.4,61) rotate(-90)" font-size="8.3" text-anchor="middle" fill="#222">Normalized &#967;&#956; (E)</text>
<g fill="none" stroke-linejoin="round" stroke-linecap="round">
<path d="M42.60,116.30 C43.83,116.18 47.77,115.92 50.00,115.60 C52.23,115.28 54.33,114.90 56.00,114.40 C57.67,113.90 58.67,113.42 60.00,112.60 C61.33,111.78 62.67,110.93 64.00,109.50 C65.33,108.07 66.75,106.00 68.00,104.00 C69.25,102.00 70.38,99.70 71.50,97.50 C72.62,95.30 73.45,93.63 74.70,90.80 C75.95,87.97 77.48,83.90 79.00,80.50 C80.52,77.10 82.30,73.82 83.80,70.40 C85.30,66.98 86.63,63.40 88.00,60.00 C89.37,56.60 90.67,53.00 92.00,50.00 C93.33,47.00 94.67,44.33 96.00,42.00 C97.33,39.67 98.83,37.42 100.00,36.00 C101.17,34.58 102.00,34.07 103.00,33.50 C104.00,32.93 104.83,32.68 106.00,32.60 C107.17,32.52 108.67,32.68 110.00,33.00 C111.33,33.32 112.54,34.13 114.00,34.50 C115.46,34.87 117.08,35.53 118.75,35.20 C120.42,34.87 122.12,33.87 124.00,32.50 C125.88,31.13 128.00,28.58 130.00,27.00 C132.00,25.42 133.83,23.92 136.00,23.00 C138.17,22.08 141.00,21.50 143.00,21.50 C145.00,21.50 146.33,22.00 148.00,23.00 C149.67,24.00 151.50,26.25 153.00,27.50 C154.50,28.75 155.67,29.67 157.00,30.50 C158.33,31.33 159.17,32.03 161.00,32.50 C162.83,32.97 164.83,33.47 168.00,33.30 C171.17,33.13 176.33,32.08 180.00,31.50 C183.67,30.92 187.25,30.28 190.00,29.80 C192.75,29.32 195.42,28.80 196.50,28.60" stroke="#6e7178" stroke-width="1.1"/>
<path d="M42.60,116.40 C44.17,116.25 49.43,115.77 52.00,115.50 C54.57,115.23 56.33,115.05 58.00,114.80 C59.67,114.55 60.33,114.47 62.00,114.00 C63.67,113.53 66.00,113.00 68.00,112.00 C70.00,111.00 72.17,109.83 74.00,108.00 C75.83,106.17 77.37,103.87 79.00,101.00 C80.63,98.13 82.30,94.30 83.80,90.80 C85.30,87.30 86.63,83.40 88.00,80.00 C89.37,76.60 90.75,73.73 92.00,70.40 C93.25,67.07 94.37,63.40 95.50,60.00 C96.63,56.60 97.75,53.33 98.80,50.00 C99.85,46.67 100.80,43.33 101.80,40.00 C102.80,36.67 103.77,33.08 104.80,30.00 C105.83,26.92 106.97,23.83 108.00,21.50 C109.03,19.17 110.00,17.42 111.00,16.00 C112.00,14.58 112.83,13.63 114.00,13.00 C115.17,12.37 116.50,12.20 118.00,12.20 C119.50,12.20 121.33,12.33 123.00,13.00 C124.67,13.67 126.17,14.70 128.00,16.20 C129.83,17.70 132.00,20.03 134.00,22.00 C136.00,23.97 138.00,26.17 140.00,28.00 C142.00,29.83 144.00,31.67 146.00,33.00 C148.00,34.33 149.67,35.23 152.00,36.00 C154.33,36.77 157.00,37.42 160.00,37.60 C163.00,37.78 166.67,37.50 170.00,37.10 C173.33,36.70 176.67,35.88 180.00,35.20 C183.33,34.52 187.25,33.62 190.00,33.00 C192.75,32.38 195.42,31.75 196.50,31.50" stroke="#44e244" stroke-width="1.3"/>
<path d="M42.60,116.30 C44.17,116.13 49.43,115.63 52.00,115.30 C54.57,114.97 56.27,114.65 58.00,114.30 C59.73,113.95 60.98,113.72 62.40,113.20 C63.82,112.68 64.90,112.35 66.50,111.20 C68.10,110.05 70.25,108.28 72.00,106.30 C73.75,104.32 75.37,101.98 77.00,99.30 C78.63,96.62 80.30,93.53 81.80,90.20 C83.30,86.87 84.63,82.70 86.00,79.30 C87.37,75.90 88.83,72.97 90.00,69.80 C91.17,66.63 92.00,63.55 93.00,60.30 C94.00,57.05 95.00,53.63 96.00,50.30 C97.00,46.97 98.00,43.63 99.00,40.30 C100.00,36.97 101.00,33.30 102.00,30.30 C103.00,27.30 104.00,24.48 105.00,22.30 C106.00,20.12 106.83,18.22 108.00,17.20 C109.17,16.18 110.33,16.40 112.00,16.20 C113.67,16.00 116.00,15.90 118.00,16.00 C120.00,16.10 122.00,16.05 124.00,16.80 C126.00,17.55 127.83,19.05 130.00,20.50 C132.17,21.95 134.50,23.83 137.00,25.50 C139.50,27.17 142.50,29.25 145.00,30.50 C147.50,31.75 149.50,32.42 152.00,33.00 C154.50,33.58 157.00,33.92 160.00,34.00 C163.00,34.08 166.67,33.87 170.00,33.50 C173.33,33.13 177.00,32.33 180.00,31.80 C183.00,31.27 185.25,30.77 188.00,30.30 C190.75,29.83 195.08,29.22 196.50,29.00" stroke="#8b3a55" stroke-width="0.9" stroke-dasharray="1.2,0.9"/>
<path d="M42.60,116.30 C44.17,116.13 49.43,115.62 52.00,115.30 C54.57,114.98 56.27,114.73 58.00,114.40 C59.73,114.07 60.98,113.82 62.40,113.30 C63.82,112.78 64.90,112.43 66.50,111.30 C68.10,110.17 70.25,108.47 72.00,106.50 C73.75,104.53 75.37,102.20 77.00,99.50 C78.63,96.80 80.30,93.63 81.80,90.30 C83.30,86.97 84.63,82.88 86.00,79.50 C87.37,76.12 88.83,73.17 90.00,70.00 C91.17,66.83 92.00,63.75 93.00,60.50 C94.00,57.25 95.00,53.83 96.00,50.50 C97.00,47.17 98.00,43.83 99.00,40.50 C100.00,37.17 101.00,33.50 102.00,30.50 C103.00,27.50 104.00,24.67 105.00,22.50 C106.00,20.33 106.83,18.65 108.00,17.50 C109.17,16.35 110.33,15.93 112.00,15.60 C113.67,15.27 116.00,15.33 118.00,15.50 C120.00,15.67 122.00,15.85 124.00,16.60 C126.00,17.35 127.83,18.60 130.00,20.00 C132.17,21.40 134.50,23.33 137.00,25.00 C139.50,26.67 142.50,28.77 145.00,30.00 C147.50,31.23 149.50,31.87 152.00,32.40 C154.50,32.93 157.00,33.18 160.00,33.20 C163.00,33.22 166.67,32.87 170.00,32.50 C173.33,32.13 177.00,31.50 180.00,31.00 C183.00,30.50 185.25,30.00 188.00,29.50 C190.75,29.00 195.08,28.25 196.50,28.00" stroke="#e41b23" stroke-width="1.3"/>
<path d="M42.60,116.30 C44.17,116.13 49.43,115.62 52.00,115.30 C54.57,114.98 56.27,114.72 58.00,114.40 C59.73,114.08 60.98,113.87 62.40,113.40 C63.82,112.93 64.90,112.67 66.50,111.60 C68.10,110.53 70.25,108.93 72.00,107.00 C73.75,105.07 75.37,102.70 77.00,100.00 C78.63,97.30 80.30,94.13 81.80,90.80 C83.30,87.47 84.63,83.40 86.00,80.00 C87.37,76.60 88.83,73.57 90.00,70.40 C91.17,67.23 92.00,64.23 93.00,61.00 C94.00,57.77 95.00,54.33 96.00,51.00 C97.00,47.67 98.00,44.33 99.00,41.00 C100.00,37.67 101.00,34.08 102.00,31.00 C103.00,27.92 104.00,24.92 105.00,22.50 C106.00,20.08 107.00,17.98 108.00,16.50 C109.00,15.02 109.83,14.08 111.00,13.60 C112.17,13.12 113.50,13.33 115.00,13.60 C116.50,13.87 118.33,14.42 120.00,15.20 C121.67,15.98 123.33,17.13 125.00,18.30 C126.67,19.47 128.33,20.88 130.00,22.20 C131.67,23.52 133.33,24.90 135.00,26.20 C136.67,27.50 138.33,28.82 140.00,30.00 C141.67,31.18 143.33,32.38 145.00,33.30 C146.67,34.22 147.92,34.90 150.00,35.50 C152.08,36.10 155.00,36.77 157.50,36.90 C160.00,37.03 162.08,36.73 165.00,36.30 C167.92,35.87 171.67,35.13 175.00,34.30 C178.33,33.47 181.42,32.32 185.00,31.30 C188.58,30.28 194.58,28.72 196.50,28.20" stroke="#3f8fe8" stroke-width="1.3"/>
<path d="M42.60,116.30 C44.17,116.13 49.43,115.62 52.00,115.30 C54.57,114.98 56.27,114.72 58.00,114.40 C59.73,114.08 60.98,113.87 62.40,113.40 C63.82,112.93 64.90,112.67 66.50,111.60 C68.10,110.53 70.25,108.93 72.00,107.00 C73.75,105.07 75.37,102.70 77.00,100.00 C78.63,97.30 80.30,94.13 81.80,90.80 C83.30,87.47 84.63,83.40 86.00,80.00 C87.37,76.60 88.83,73.57 90.00,70.40 C91.17,67.23 92.00,64.23 93.00,61.00 C94.00,57.77 95.00,54.33 96.00,51.00 C97.00,47.67 98.00,44.33 99.00,41.00 C100.00,37.67 101.00,34.08 102.00,31.00 C103.00,27.92 104.00,24.92 105.00,22.50 C106.00,20.08 107.00,17.98 108.00,16.50 C109.00,15.02 109.83,14.08 111.00,13.60 C112.17,13.12 113.50,13.33 115.00,13.60 C116.50,13.87 118.33,14.42 120.00,15.20 C121.67,15.98 123.33,17.13 125.00,18.30 C126.67,19.47 128.33,20.88 130.00,22.20 C131.67,23.52 133.33,24.90 135.00,26.20 C136.67,27.50 138.33,28.82 140.00,30.00 C141.67,31.18 143.33,32.38 145.00,33.30 C146.67,34.22 147.92,34.90 150.00,35.50 C152.08,36.10 155.00,36.77 157.50,36.90 C160.00,37.03 162.08,36.73 165.00,36.30 C167.92,35.87 171.67,35.13 175.00,34.30 C178.33,33.47 181.42,32.32 185.00,31.30 C188.58,30.28 194.58,28.72 196.50,28.20" stroke="#6fe0ff" stroke-width="0.8" stroke-dasharray="1.2,1"/>
</g>
<line x1="114.5" y1="71.60" x2="129.2" y2="71.60" stroke="#7fdcff" stroke-width="1.1" stroke-dasharray="1.3,0.8"/>
<text x="130.90" y="73.80" font-size="6.25" text-anchor="start" font-weight="normal" fill="#1a1a1a" stroke="#1a1a1a" stroke-width="0.2">Ru<tspan font-size="4" dy="1.2">1</tspan><tspan dy="-1.2">/mono-NiFe-1.6</tspan></text>
<line x1="114.5" y1="79.20" x2="129.2" y2="79.20" stroke="#e41b23" stroke-width="1.1"/>
<text x="130.90" y="81.40" font-size="6.25" text-anchor="start" font-weight="normal" fill="#1a1a1a" stroke="#1a1a1a" stroke-width="0.2">Ru<tspan font-size="4" dy="1.2">1</tspan><tspan dy="-1.2">/mono-NiFe-0.3</tspan></text>
<line x1="114.5" y1="86.40" x2="129.2" y2="86.40" stroke="#8b3a55" stroke-width="1.1" stroke-dasharray="1.3,0.8"/>
<text x="130.90" y="88.60" font-size="6.25" text-anchor="start" font-weight="normal" fill="#1a1a1a" stroke="#1a1a1a" stroke-width="0.2">RuCl<tspan font-size="4" dy="1.2">3</tspan></text>
<line x1="114.5" y1="96.20" x2="129.2" y2="96.20" stroke="#44e244" stroke-width="1.1" stroke-dasharray="1.3,0.8"/>
<text x="130.90" y="98.40" font-size="6.25" text-anchor="start" font-weight="normal" fill="#1a1a1a" stroke="#1a1a1a" stroke-width="0.2">RuO<tspan font-size="4" dy="1.2">2</tspan></text>
<line x1="114.5" y1="105.40" x2="129.2" y2="105.40" stroke="#6e7178" stroke-width="1.1"/>
<text x="130.90" y="107.60" font-size="6.25" text-anchor="start" font-weight="normal" fill="#1a1a1a" stroke="#1a1a1a" stroke-width="0.2">Ru-Foil</text>
<rect x="234.70" y="3.40" width="153.70" height="124.00" fill="none" stroke="#222" stroke-width="1.4"/>
<line x1="235.00" y1="127.40" x2="235.00" y2="129.80" stroke="#111" stroke-width="0.9"/>
<line x1="243.05" y1="127.40" x2="243.05" y2="128.80" stroke="#111" stroke-width="0.9"/>
<line x1="251.10" y1="127.40" x2="251.10" y2="129.80" stroke="#111" stroke-width="0.9"/>
<line x1="259.15" y1="127.40" x2="259.15" y2="128.80" stroke="#111" stroke-width="0.9"/>
<line x1="267.20" y1="127.40" x2="267.20" y2="129.80" stroke="#111" stroke-width="0.9"/>
<line x1="275.25" y1="127.40" x2="275.25" y2="128.80" stroke="#111" stroke-width="0.9"/>
<line x1="283.30" y1="127.40" x2="283.30" y2="129.80" stroke="#111" stroke-width="0.9"/>
<line x1="291.35" y1="127.40" x2="291.35" y2="128.80" stroke="#111" stroke-width="0.9"/>
<line x1="299.40" y1="127.40" x2="299.40" y2="129.80" stroke="#111" stroke-width="0.9"/>
<line x1="307.45" y1="127.40" x2="307.45" y2="128.80" stroke="#111" stroke-width="0.9"/>
<line x1="315.50" y1="127.40" x2="315.50" y2="129.80" stroke="#111" stroke-width="0.9"/>
<line x1="323.55" y1="127.40" x2="323.55" y2="128.80" stroke="#111" stroke-width="0.9"/>
<line x1="331.60" y1="127.40" x2="331.60" y2="129.80" stroke="#111" stroke-width="0.9"/>
<line x1="339.65" y1="127.40" x2="339.65" y2="128.80" stroke="#111" stroke-width="0.9"/>
<line x1="347.70" y1="127.40" x2="347.70" y2="129.80" stroke="#111" stroke-width="0.9"/>
<line x1="355.75" y1="127.40" x2="355.75" y2="128.80" stroke="#111" stroke-width="0.9"/>
<line x1="363.80" y1="127.40" x2="363.80" y2="129.80" stroke="#111" stroke-width="0.9"/>
<line x1="371.85" y1="127.40" x2="371.85" y2="128.80" stroke="#111" stroke-width="0.9"/>
<line x1="379.90" y1="127.40" x2="379.90" y2="129.80" stroke="#111" stroke-width="0.9"/>
<text x="235.00" y="137.60" font-size="8.60" text-anchor="middle" font-weight="normal" fill="#222" >0</text>
<text x="251.10" y="137.60" font-size="8.60" text-anchor="middle" font-weight="normal" fill="#222" >1</text>
<text x="267.20" y="137.60" font-size="8.60" text-anchor="middle" font-weight="normal" fill="#222" >2</text>
<text x="283.30" y="137.60" font-size="8.60" text-anchor="middle" font-weight="normal" fill="#222" >3</text>
<text x="299.40" y="137.60" font-size="8.60" text-anchor="middle" font-weight="normal" fill="#222" >4</text>
<text x="315.50" y="137.60" font-size="8.60" text-anchor="middle" font-weight="normal" fill="#222" >5</text>
<text x="331.60" y="137.60" font-size="8.60" text-anchor="middle" font-weight="normal" fill="#222" >6</text>
<text x="347.70" y="137.60" font-size="8.60" text-anchor="middle" font-weight="normal" fill="#222" >7</text>
<text x="363.80" y="137.60" font-size="8.60" text-anchor="middle" font-weight="normal" fill="#222" >8</text>
<text x="379.90" y="137.60" font-size="8.60" text-anchor="middle" font-weight="normal" fill="#222" >9</text>
<line x1="232.30" y1="120.20" x2="234.70" y2="120.20" stroke="#111" stroke-width="0.9"/>
<line x1="233.30" y1="113.35" x2="234.70" y2="113.35" stroke="#111" stroke-width="0.9"/>
<line x1="232.30" y1="106.50" x2="234.70" y2="106.50" stroke="#111" stroke-width="0.9"/>
<line x1="233.30" y1="99.65" x2="234.70" y2="99.65" stroke="#111" stroke-width="0.9"/>
<line x1="232.30" y1="92.80" x2="234.70" y2="92.80" stroke="#111" stroke-width="0.9"/>
<line x1="233.30" y1="85.95" x2="234.70" y2="85.95" stroke="#111" stroke-width="0.9"/>
<line x1="232.30" y1="79.10" x2="234.70" y2="79.10" stroke="#111" stroke-width="0.9"/>
<line x1="233.30" y1="72.25" x2="234.70" y2="72.25" stroke="#111" stroke-width="0.9"/>
<line x1="232.30" y1="65.40" x2="234.70" y2="65.40" stroke="#111" stroke-width="0.9"/>
<line x1="233.30" y1="58.55" x2="234.70" y2="58.55" stroke="#111" stroke-width="0.9"/>
<line x1="232.30" y1="51.70" x2="234.70" y2="51.70" stroke="#111" stroke-width="0.9"/>
<line x1="233.30" y1="44.85" x2="234.70" y2="44.85" stroke="#111" stroke-width="0.9"/>
<line x1="232.30" y1="38.00" x2="234.70" y2="38.00" stroke="#111" stroke-width="0.9"/>
<line x1="233.30" y1="31.15" x2="234.70" y2="31.15" stroke="#111" stroke-width="0.9"/>
<line x1="232.30" y1="24.30" x2="234.70" y2="24.30" stroke="#111" stroke-width="0.9"/>
<line x1="233.30" y1="17.45" x2="234.70" y2="17.45" stroke="#111" stroke-width="0.9"/>
<line x1="232.30" y1="10.60" x2="234.70" y2="10.60" stroke="#111" stroke-width="0.9"/>
<text x="230.40" y="123.30" font-size="8.60" text-anchor="end" font-weight="normal" fill="#222" >-4</text>
<text x="230.40" y="109.60" font-size="8.60" text-anchor="end" font-weight="normal" fill="#222" >-3</text>
<text x="230.40" y="95.90" font-size="8.60" text-anchor="end" font-weight="normal" fill="#222" >-2</text>
<text x="230.40" y="82.20" font-size="8.60" text-anchor="end" font-weight="normal" fill="#222" >-1</text>
<text x="230.40" y="68.50" font-size="8.60" text-anchor="end" font-weight="normal" fill="#222" >0</text>
<text x="230.40" y="54.80" font-size="8.60" text-anchor="end" font-weight="normal" fill="#222" >1</text>
<text x="230.40" y="41.10" font-size="8.60" text-anchor="end" font-weight="normal" fill="#222" >2</text>
<text x="230.40" y="27.40" font-size="8.60" text-anchor="end" font-weight="normal" fill="#222" >3</text>
<text x="230.40" y="13.70" font-size="8.60" text-anchor="end" font-weight="normal" fill="#222" >4</text>
<text x="317.5" y="148.6" font-size="8.6" text-anchor="middle" fill="#222"><tspan font-style="italic">k</tspan> (&#197;<tspan font-size="5.5" dy="-3">-1</tspan><tspan dy="3">)</tspan></text>
<text transform="translate(218.6,68) rotate(-90)" font-size="8.6" text-anchor="middle" fill="#222"><tspan font-style="italic">k</tspan><tspan font-size="5.5" dy="-3">2</tspan><tspan dy="3"> &#967;(</tspan><tspan font-style="italic">k</tspan>)</text>
<g fill="none" stroke-linejoin="round" stroke-linecap="round">
<path d="M235.20,24.00 C236.83,24.00 241.77,24.00 245.00,24.00 C248.23,24.00 252.10,23.95 254.60,24.00 C257.10,24.05 258.17,24.13 260.00,24.30 C261.83,24.47 263.60,24.70 265.60,25.00 C267.60,25.30 270.15,26.43 272.00,26.10 C273.85,25.77 274.98,24.13 276.70,23.00 C278.42,21.87 280.45,18.97 282.30,19.30 C284.15,19.63 286.10,23.55 287.80,25.00 C289.50,26.45 291.13,27.57 292.50,28.00 C293.87,28.43 294.75,28.35 296.00,27.60 C297.25,26.85 298.28,25.03 300.00,23.50 C301.72,21.97 304.47,18.98 306.30,18.40 C308.13,17.82 309.38,18.93 311.00,20.00 C312.62,21.07 314.42,23.72 316.00,24.80 C317.58,25.88 319.25,26.97 320.50,26.50 C321.75,26.03 322.48,23.48 323.50,22.00 C324.52,20.52 325.52,17.45 326.60,17.60 C327.68,17.75 328.70,20.17 330.00,22.90 C331.30,25.63 332.90,33.15 334.40,34.00 C335.90,34.85 337.65,30.42 339.00,28.00 C340.35,25.58 341.23,21.53 342.50,19.50 C343.77,17.47 345.27,15.72 346.60,15.80 C347.93,15.88 349.35,17.47 350.50,20.00 C351.65,22.53 352.43,27.87 353.50,31.00 C354.57,34.13 355.82,38.80 356.90,38.80 C357.98,38.80 358.90,34.80 360.00,31.00 C361.10,27.20 362.25,19.98 363.50,16.00 C364.75,12.02 366.17,7.27 367.50,7.10 C368.83,6.93 370.17,10.68 371.50,15.00 C372.83,19.32 374.12,28.33 375.50,33.00 C376.88,37.67 378.47,43.50 379.80,43.00 C381.13,42.50 382.38,34.83 383.50,30.00 C384.62,25.17 385.72,17.75 386.50,14.00 C387.28,10.25 387.92,8.58 388.20,7.50" stroke="#3386e4" stroke-width="1.4"/>
<path d="M235.20,51.28 L235.66,51.29 L236.30,51.82 L237.05,51.63 L237.87,52.19 L238.72,52.34 L239.55,52.40 L240.30,53.01 L241.11,53.05 L241.89,53.75 L242.67,53.94 L243.44,54.40 L244.22,55.06 L245.00,55.73 L245.69,55.56 L246.38,55.96 L247.08,56.57 L247.78,57.10 L248.47,57.09 L249.14,57.14 L249.80,57.63 L250.54,56.97 L251.26,57.41 L251.97,56.80 L252.66,56.43 L253.34,56.08 L254.00,55.87 L254.77,55.74 L255.51,54.72 L256.24,54.37 L256.96,53.76 L257.70,52.91 L258.45,52.37 L259.20,51.33 L259.95,50.62 L260.72,50.01 L261.50,49.63 L262.15,48.86 L262.79,48.21 L263.44,47.82 L264.11,47.13 L264.83,46.41 L265.60,46.11 L266.34,45.40 L267.14,44.34 L267.98,43.79 L268.84,43.00 L269.68,42.58 L270.48,41.96 L271.20,41.35 L272.07,41.72 L272.84,41.25 L273.56,41.85 L274.29,42.75 L275.10,43.26 L275.85,44.57 L276.64,45.64 L277.45,47.65 L278.27,49.36 L279.10,50.82 L279.90,52.46 L280.69,53.39 L281.47,54.97 L282.25,56.17 L283.03,57.35 L283.81,58.34 L284.60,59.54 L285.39,60.41 L286.19,60.79 L286.98,61.51 L287.78,61.54 L288.59,62.30 L289.40,62.40 L290.10,62.67 L290.80,62.50 L291.51,61.98 L292.22,61.77 L292.94,61.52 L293.66,60.43 L294.40,59.87 L295.14,58.48 L295.89,56.94 L296.65,55.18 L297.42,53.83 L298.19,51.52 L298.99,49.83 L299.80,48.32 L300.54,47.33 L301.31,45.41 L302.10,44.31 L302.90,43.07 L303.69,42.08 L304.46,40.97 L305.20,40.11 L305.90,39.04 L306.74,38.59 L307.49,38.29 L308.20,38.68 L308.91,39.01 L309.66,38.98 L310.50,39.77 L311.20,40.62 L311.94,41.66 L312.71,43.07 L313.50,44.49 L314.30,45.67 L315.09,46.91 L315.86,48.58 L316.60,49.81 L317.42,51.34 L318.22,53.05 L319.01,54.31 L319.78,55.58 L320.54,56.97 L321.28,58.20 L322.00,58.79 L322.80,60.44 L323.56,61.33 L324.30,62.22 L325.04,62.78 L325.80,62.83 L326.60,62.83 L327.34,62.29 L328.11,62.19 L328.91,60.30 L329.71,59.29 L330.50,58.45 L331.27,57.24 L332.00,56.49 L332.80,54.61 L333.56,53.01 L334.30,51.75 L335.03,50.13 L335.75,49.27 L336.50,47.42 L337.26,48.23 L338.02,46.85 L338.79,45.16 L339.56,44.82 L340.33,44.65 L341.10,44.50 L341.84,44.03 L342.54,45.94 L343.24,46.74 L343.99,46.14 L344.83,46.82 L345.80,46.53 L346.46,46.95 L347.16,47.94 L347.91,48.20 L348.69,50.03 L349.50,48.89 L350.33,49.04 L351.17,51.84 L352.02,51.29 L352.86,50.82 L353.70,52.31 L354.47,51.45 L355.28,53.31 L356.10,55.11 L356.94,55.45 L357.78,55.62 L358.61,55.03 L359.43,55.83 L360.23,55.69 L361.00,57.66 L361.72,57.14 L362.40,57.79 L363.26,56.10 L364.05,55.02 L364.78,55.70 L365.47,55.01 L366.12,53.36 L366.76,51.97 L367.38,50.88 L368.00,49.72 L368.79,47.11 L369.53,46.95 L370.23,45.51 L370.93,43.70 L371.64,43.12 L372.40,43.61 L373.08,43.56 L373.77,45.16 L374.47,46.41 L375.19,45.33 L375.93,47.54 L376.70,48.40 L377.50,48.99 L378.24,47.72 L379.04,48.02 L379.86,48.89 L380.69,49.67 L381.52,50.58 L382.33,52.85 L383.10,54.56 L383.80,54.98 L384.69,54.38 L385.57,55.52 L386.39,56.46 L387.13,54.24 L387.74,56.56 L388.20,57.68" stroke="#3386e4" stroke-width="1.3"/>
<path d="M235.20,79.08 L235.79,79.58 L236.57,79.70 L237.50,79.82 L238.54,80.61 L239.64,81.86 L240.78,81.05 L241.90,82.30 L242.89,82.71 L243.93,83.25 L245.02,84.58 L246.12,84.95 L247.25,85.86 L248.38,86.84 L249.50,85.91 L250.60,85.92 L251.70,85.55 L252.83,85.31 L253.97,84.24 L255.10,83.19 L256.21,82.46 L257.29,81.37 L258.33,80.04 L259.30,79.05 L260.50,77.78 L261.60,77.65 L262.64,75.33 L263.64,74.10 L264.62,72.23 L265.60,71.97 L266.58,71.55 L267.55,69.82 L268.50,69.44 L269.43,68.65 L270.33,67.47 L271.20,67.26 L272.18,66.66 L273.10,66.90 L274.00,68.72 L274.92,69.50 L275.90,70.29 L276.79,71.31 L277.73,73.72 L278.70,75.11 L279.67,76.45 L280.61,79.37 L281.50,80.67 L282.52,82.74 L283.52,83.50 L284.47,85.41 L285.37,87.54 L286.20,88.51 L287.35,89.91 L288.34,91.56 L289.40,91.57 L290.35,91.96 L291.38,91.14 L292.39,90.21 L293.30,89.97 L294.25,89.32 L295.07,87.04 L296.00,85.04 L296.86,83.40 L297.79,83.08 L298.76,78.84 L299.70,80.81 L300.62,75.56 L301.54,74.30 L302.44,71.71 L303.30,73.68 L304.29,68.19 L305.22,67.20 L306.30,65.08 L307.29,63.67 L308.38,65.62 L309.53,66.56 L310.70,70.68 L311.65,65.43 L312.62,71.22 L313.62,69.01 L314.61,74.44 L315.60,75.64 L316.58,75.50 L317.56,79.85 L318.54,81.39 L319.52,82.89 L320.50,83.08 L321.48,85.38 L322.46,85.44 L323.44,87.24 L324.42,88.58 L325.40,87.28 L326.40,84.03 L327.42,86.41 L328.43,85.49 L329.40,83.09 L330.30,80.84 L331.28,76.39 L332.15,72.54 L333.02,76.42 L334.00,73.93 L334.90,71.28 L335.87,72.70 L336.88,67.66 L337.90,71.17 L338.90,68.35 L339.88,67.77 L340.86,68.49 L341.84,74.39 L342.82,73.01 L343.80,74.81 L344.76,76.41 L345.69,82.46 L346.64,76.52 L347.63,76.64 L348.70,82.46 L349.66,81.36 L350.67,84.28 L351.72,81.04 L352.80,75.70 L353.89,79.96 L355.00,89.34 L355.95,80.48 L356.92,78.57 L357.90,75.23 L358.89,94.57 L359.91,82.28 L360.94,79.80 L362.00,86.85 L362.95,80.92 L363.93,77.25 L364.93,78.42 L365.94,81.10 L366.96,82.88 L367.98,97.23 L368.99,81.44 L370.00,85.81 L370.98,78.33 L371.95,77.62 L372.90,75.36 L373.86,79.96 L374.84,78.99 L375.85,88.95 L376.89,76.76 L378.00,74.19 L378.98,78.38 L380.06,79.38 L381.22,81.38 L382.41,77.62 L383.60,77.11 L384.75,71.37 L385.82,79.60 L386.78,76.46 L387.58,73.70 L388.20,80.86" stroke="#ec1a22" stroke-width="1.3"/>
<path d="M235.20,106.20 C236.32,106.55 239.20,107.43 241.90,108.30 C244.60,109.17 248.23,111.80 251.40,111.40 C254.57,111.00 257.60,107.82 260.90,105.90 C264.20,103.98 268.43,100.17 271.20,99.90 C273.97,99.63 275.53,102.52 277.50,104.30 C279.47,106.08 281.02,109.02 283.00,110.60 C284.98,112.18 287.23,113.47 289.40,113.80 C291.57,114.13 294.08,114.23 296.00,112.60 C297.92,110.97 298.87,106.58 300.90,104.00 C302.93,101.42 305.75,97.30 308.20,97.10 C310.65,96.90 313.15,100.52 315.60,102.80 C318.05,105.08 320.87,108.97 322.90,110.80 C324.93,112.63 325.75,113.92 327.80,113.80 C329.85,113.68 333.15,111.33 335.20,110.10 C337.25,108.87 338.47,109.13 340.10,106.40 C341.73,103.67 343.57,95.12 345.00,93.70 C346.43,92.28 347.27,94.97 348.70,97.90 C350.13,100.83 351.97,108.98 353.60,111.30 C355.23,113.62 356.87,112.90 358.50,111.80 C360.13,110.70 361.57,104.17 363.40,104.70 C365.23,105.23 367.47,115.32 369.50,115.00 C371.53,114.68 373.77,105.78 375.60,102.80 C377.43,99.82 378.87,96.90 380.50,97.10 C382.13,97.30 384.12,101.22 385.40,104.00 C386.68,106.78 387.73,112.17 388.20,113.80" stroke="#4aea4a" stroke-width="1.4"/>
</g>
<text x="237.50" y="11.90" font-size="6.50" text-anchor="start" font-weight="bold" fill="#1a1a1a" >Ru-Foil</text>
<text x="237.80" y="19.20" font-size="5.00" text-anchor="start" font-weight="normal" fill="#1a1a1a" >x 0.5</text>
<text x="236.60" y="37.20" font-size="6.80" text-anchor="start" font-weight="normal" fill="#111" stroke="#111" stroke-width="0.25">Ru<tspan font-size="4" dy="1.2">1</tspan><tspan dy="-1.2">/mono-NiFe-1.6</tspan></text>
<text x="236.60" y="67.20" font-size="6.80" text-anchor="start" font-weight="normal" fill="#111" stroke="#111" stroke-width="0.25">Ru<tspan font-size="4" dy="1.2">1</tspan><tspan dy="-1.2">/mono-NiFe-0.3</tspan></text>
<text x="238.80" y="98.50" font-size="6.50" text-anchor="start" font-weight="bold" fill="#1a1a1a" >RuO<tspan font-size="4" dy="1.2">2</tspan><tspan dy="-1.2"></tspan></text>
<text x="238.80" y="104.90" font-size="5.00" text-anchor="start" font-weight="normal" fill="#1a1a1a" >x 0.5</text>
<g shape-rendering="crispEdges">
<rect x="46.50" y="158.400" width="146.40" height="1.048" fill="url(#h0_0)"/>
<rect x="46.50" y="159.398" width="146.40" height="1.048" fill="url(#h0_1)"/>
<rect x="46.50" y="160.396" width="146.40" height="1.048" fill="url(#h0_2)"/>
<rect x="46.50" y="161.393" width="146.40" height="1.048" fill="url(#h0_3)"/>
<rect x="46.50" y="162.391" width="146.40" height="1.048" fill="url(#h0_4)"/>
<rect x="46.50" y="163.389" width="146.40" height="1.048" fill="url(#h0_5)"/>
<rect x="46.50" y="164.387" width="146.40" height="1.048" fill="url(#h0_6)"/>
<rect x="46.50" y="165.384" width="146.40" height="1.048" fill="url(#h0_7)"/>
<rect x="46.50" y="166.382" width="146.40" height="1.048" fill="url(#h0_8)"/>
<rect x="46.50" y="167.380" width="146.40" height="1.048" fill="url(#h0_9)"/>
<rect x="46.50" y="168.378" width="146.40" height="1.048" fill="url(#h0_10)"/>
<rect x="46.50" y="169.375" width="146.40" height="1.048" fill="url(#h0_11)"/>
<rect x="46.50" y="170.373" width="146.40" height="1.048" fill="url(#h0_12)"/>
<rect x="46.50" y="171.371" width="146.40" height="1.048" fill="url(#h0_13)"/>
<rect x="46.50" y="172.369" width="146.40" height="1.048" fill="url(#h0_14)"/>
<rect x="46.50" y="173.366" width="146.40" height="1.048" fill="url(#h0_15)"/>
<rect x="46.50" y="174.364" width="146.40" height="1.048" fill="url(#h0_16)"/>
<rect x="46.50" y="175.362" width="146.40" height="1.048" fill="url(#h0_17)"/>
<rect x="46.50" y="176.360" width="146.40" height="1.048" fill="url(#h0_18)"/>
<rect x="46.50" y="177.357" width="146.40" height="1.048" fill="url(#h0_19)"/>
<rect x="46.50" y="178.355" width="146.40" height="1.048" fill="url(#h0_20)"/>
<rect x="46.50" y="179.353" width="146.40" height="1.048" fill="url(#h0_21)"/>
<rect x="46.50" y="180.351" width="146.40" height="1.048" fill="url(#h0_22)"/>
<rect x="46.50" y="181.348" width="146.40" height="1.048" fill="url(#h0_23)"/>
<rect x="46.50" y="182.346" width="146.40" height="1.048" fill="url(#h0_24)"/>
<rect x="46.50" y="183.344" width="146.40" height="1.048" fill="url(#h0_25)"/>
<rect x="46.50" y="184.342" width="146.40" height="1.048" fill="url(#h0_26)"/>
<rect x="46.50" y="185.339" width="146.40" height="1.048" fill="url(#h0_27)"/>
<rect x="46.50" y="186.337" width="146.40" height="1.048" fill="url(#h0_28)"/>
<rect x="46.50" y="187.335" width="146.40" height="1.048" fill="url(#h0_29)"/>
<rect x="46.50" y="188.333" width="146.40" height="1.048" fill="url(#h0_30)"/>
<rect x="46.50" y="189.330" width="146.40" height="1.048" fill="url(#h0_31)"/>
<rect x="46.50" y="190.328" width="146.40" height="1.048" fill="url(#h0_32)"/>
<rect x="46.50" y="191.326" width="146.40" height="1.048" fill="url(#h0_33)"/>
<rect x="46.50" y="192.324" width="146.40" height="1.048" fill="url(#h0_34)"/>
<rect x="46.50" y="193.321" width="146.40" height="1.048" fill="url(#h0_35)"/>
<rect x="46.50" y="194.319" width="146.40" height="1.048" fill="url(#h0_36)"/>
<rect x="46.50" y="195.317" width="146.40" height="1.048" fill="url(#h0_37)"/>
<rect x="46.50" y="196.315" width="146.40" height="1.048" fill="url(#h0_38)"/>
<rect x="46.50" y="197.312" width="146.40" height="1.048" fill="url(#h0_39)"/>
<rect x="46.50" y="198.310" width="146.40" height="1.048" fill="url(#h0_40)"/>
<rect x="46.50" y="199.308" width="146.40" height="1.048" fill="url(#h0_41)"/>
<rect x="46.50" y="200.306" width="146.40" height="1.048" fill="url(#h0_42)"/>
<rect x="46.50" y="201.303" width="146.40" height="1.048" fill="url(#h0_43)"/>
<rect x="46.50" y="202.301" width="146.40" height="1.048" fill="url(#h0_44)"/>
<rect x="46.50" y="203.299" width="146.40" height="1.048" fill="url(#h0_45)"/>
<rect x="46.50" y="204.297" width="146.40" height="1.048" fill="url(#h0_46)"/>
<rect x="46.50" y="205.294" width="146.40" height="1.048" fill="url(#h0_47)"/>
<rect x="46.50" y="206.292" width="146.40" height="1.048" fill="url(#h0_48)"/>
<rect x="46.50" y="207.290" width="146.40" height="1.048" fill="url(#h0_49)"/>
<rect x="46.50" y="208.288" width="146.40" height="1.048" fill="url(#h0_50)"/>
<rect x="46.50" y="209.285" width="146.40" height="1.048" fill="url(#h0_51)"/>
<rect x="46.50" y="210.283" width="146.40" height="1.048" fill="url(#h0_52)"/>
<rect x="46.50" y="211.281" width="146.40" height="1.048" fill="url(#h0_53)"/>
<rect x="46.50" y="212.279" width="146.40" height="1.048" fill="url(#h0_54)"/>
<rect x="46.50" y="213.276" width="146.40" height="1.048" fill="url(#h0_55)"/>
<rect x="46.50" y="214.274" width="146.40" height="1.048" fill="url(#h0_56)"/>
<rect x="46.50" y="215.272" width="146.40" height="1.048" fill="url(#h0_57)"/>
<rect x="46.50" y="216.270" width="146.40" height="1.048" fill="url(#h0_58)"/>
<rect x="46.50" y="217.267" width="146.40" height="1.048" fill="url(#h0_59)"/>
<rect x="46.50" y="218.265" width="146.40" height="1.048" fill="url(#h0_60)"/>
<rect x="46.50" y="219.263" width="146.40" height="1.048" fill="url(#h0_61)"/>
<rect x="46.50" y="220.261" width="146.40" height="1.048" fill="url(#h0_62)"/>
<rect x="46.50" y="221.258" width="146.40" height="1.048" fill="url(#h0_63)"/>
<rect x="46.50" y="222.256" width="146.40" height="1.048" fill="url(#h0_64)"/>
<rect x="46.50" y="223.254" width="146.40" height="1.048" fill="url(#h0_65)"/>
<rect x="46.50" y="224.252" width="146.40" height="1.048" fill="url(#h0_66)"/>
<rect x="46.50" y="225.249" width="146.40" height="1.048" fill="url(#h0_67)"/>
<rect x="46.50" y="226.247" width="146.40" height="1.048" fill="url(#h0_68)"/>
<rect x="46.50" y="227.245" width="146.40" height="1.048" fill="url(#h0_69)"/>
<rect x="46.50" y="228.243" width="146.40" height="1.048" fill="url(#h0_70)"/>
<rect x="46.50" y="229.240" width="146.40" height="1.048" fill="url(#h0_71)"/>
<rect x="46.50" y="230.238" width="146.40" height="1.048" fill="url(#h0_72)"/>
<rect x="46.50" y="231.236" width="146.40" height="1.048" fill="url(#h0_73)"/>
<rect x="46.50" y="232.234" width="146.40" height="1.048" fill="url(#h0_74)"/>
<rect x="46.50" y="233.231" width="146.40" height="1.048" fill="url(#h0_75)"/>
<rect x="46.50" y="234.229" width="146.40" height="1.048" fill="url(#h0_76)"/>
<rect x="46.50" y="235.227" width="146.40" height="1.048" fill="url(#h0_77)"/>
<rect x="46.50" y="236.225" width="146.40" height="1.048" fill="url(#h0_78)"/>
<rect x="46.50" y="237.222" width="146.40" height="1.048" fill="url(#h0_79)"/>
<rect x="46.50" y="238.220" width="146.40" height="1.048" fill="url(#h0_80)"/>
<rect x="46.50" y="239.218" width="146.40" height="1.048" fill="url(#h0_81)"/>
<rect x="46.50" y="240.216" width="146.40" height="1.048" fill="url(#h0_82)"/>
<rect x="46.50" y="241.213" width="146.40" height="1.048" fill="url(#h0_83)"/>
<rect x="46.50" y="242.211" width="146.40" height="1.048" fill="url(#h0_84)"/>
<rect x="46.50" y="243.209" width="146.40" height="1.048" fill="url(#h0_85)"/>
<rect x="46.50" y="244.207" width="146.40" height="1.048" fill="url(#h0_86)"/>
<rect x="46.50" y="245.204" width="146.40" height="1.048" fill="url(#h0_87)"/>
<rect x="46.50" y="246.202" width="146.40" height="1.048" fill="url(#h0_88)"/>
</g>
<rect x="46.50" y="158.40" width="146.40" height="88.80" fill="none" stroke="#1a1a1a" stroke-width="0.8"/>
<line x1="44.50" y1="247.20" x2="46.50" y2="247.20" stroke="#111" stroke-width="0.8"/>
<text x="42.60" y="249.50" font-size="6.60" text-anchor="end" font-weight="bold" fill="#333" letter-spacing="0.25">0.0</text>
<line x1="45.30" y1="241.65" x2="46.50" y2="241.65" stroke="#111" stroke-width="0.8"/>
<line x1="44.50" y1="236.10" x2="46.50" y2="236.10" stroke="#111" stroke-width="0.8"/>
<text x="42.60" y="238.40" font-size="6.60" text-anchor="end" font-weight="bold" fill="#333" letter-spacing="0.25">0.5</text>
<line x1="45.30" y1="230.55" x2="46.50" y2="230.55" stroke="#111" stroke-width="0.8"/>
<line x1="44.50" y1="225.00" x2="46.50" y2="225.00" stroke="#111" stroke-width="0.8"/>
<text x="42.60" y="227.30" font-size="6.60" text-anchor="end" font-weight="bold" fill="#333" letter-spacing="0.25">1.0</text>
<line x1="45.30" y1="219.45" x2="46.50" y2="219.45" stroke="#111" stroke-width="0.8"/>
<line x1="44.50" y1="213.90" x2="46.50" y2="213.90" stroke="#111" stroke-width="0.8"/>
<text x="42.60" y="216.20" font-size="6.60" text-anchor="end" font-weight="bold" fill="#333" letter-spacing="0.25">1.5</text>
<line x1="45.30" y1="208.35" x2="46.50" y2="208.35" stroke="#111" stroke-width="0.8"/>
<line x1="44.50" y1="202.80" x2="46.50" y2="202.80" stroke="#111" stroke-width="0.8"/>
<text x="42.60" y="205.10" font-size="6.60" text-anchor="end" font-weight="bold" fill="#333" letter-spacing="0.25">2.0</text>
<line x1="45.30" y1="197.25" x2="46.50" y2="197.25" stroke="#111" stroke-width="0.8"/>
<line x1="44.50" y1="191.70" x2="46.50" y2="191.70" stroke="#111" stroke-width="0.8"/>
<text x="42.60" y="194.00" font-size="6.60" text-anchor="end" font-weight="bold" fill="#333" letter-spacing="0.25">2.5</text>
<line x1="45.30" y1="186.15" x2="46.50" y2="186.15" stroke="#111" stroke-width="0.8"/>
<line x1="44.50" y1="180.60" x2="46.50" y2="180.60" stroke="#111" stroke-width="0.8"/>
<text x="42.60" y="182.90" font-size="6.60" text-anchor="end" font-weight="bold" fill="#333" letter-spacing="0.25">3.0</text>
<line x1="45.30" y1="175.05" x2="46.50" y2="175.05" stroke="#111" stroke-width="0.8"/>
<line x1="44.50" y1="169.50" x2="46.50" y2="169.50" stroke="#111" stroke-width="0.8"/>
<text x="42.60" y="171.80" font-size="6.60" text-anchor="end" font-weight="bold" fill="#333" letter-spacing="0.25">3.5</text>
<line x1="45.30" y1="163.95" x2="46.50" y2="163.95" stroke="#111" stroke-width="0.8"/>
<line x1="44.50" y1="158.40" x2="46.50" y2="158.40" stroke="#111" stroke-width="0.8"/>
<text x="42.60" y="160.70" font-size="6.60" text-anchor="end" font-weight="bold" fill="#333" letter-spacing="0.25">4.0</text>
<line x1="45.90" y1="247.20" x2="45.90" y2="249.20" stroke="#111" stroke-width="0.8"/>
<line x1="58.15" y1="247.20" x2="58.15" y2="248.40" stroke="#111" stroke-width="0.8"/>
<line x1="70.40" y1="247.20" x2="70.40" y2="249.20" stroke="#111" stroke-width="0.8"/>
<line x1="82.65" y1="247.20" x2="82.65" y2="248.40" stroke="#111" stroke-width="0.8"/>
<line x1="94.90" y1="247.20" x2="94.90" y2="249.20" stroke="#111" stroke-width="0.8"/>
<line x1="107.15" y1="247.20" x2="107.15" y2="248.40" stroke="#111" stroke-width="0.8"/>
<line x1="119.40" y1="247.20" x2="119.40" y2="249.20" stroke="#111" stroke-width="0.8"/>
<line x1="131.65" y1="247.20" x2="131.65" y2="248.40" stroke="#111" stroke-width="0.8"/>
<line x1="143.90" y1="247.20" x2="143.90" y2="249.20" stroke="#111" stroke-width="0.8"/>
<line x1="156.15" y1="247.20" x2="156.15" y2="248.40" stroke="#111" stroke-width="0.8"/>
<line x1="168.40" y1="247.20" x2="168.40" y2="249.20" stroke="#111" stroke-width="0.8"/>
<line x1="180.65" y1="247.20" x2="180.65" y2="248.40" stroke="#111" stroke-width="0.8"/>
<line x1="192.90" y1="247.20" x2="192.90" y2="249.20" stroke="#111" stroke-width="0.8"/>
<text transform="translate(25.9,199.60) rotate(-90)" font-size="7.8" text-anchor="middle" fill="#333"><tspan font-style="italic">R</tspan> + <tspan font-style="italic">&#945;</tspan> (&#197;)</text>
<g shape-rendering="crispEdges">
<rect x="46.50" y="256.600" width="146.40" height="1.055" fill="url(#h1_0)"/>
<rect x="46.50" y="257.605" width="146.40" height="1.055" fill="url(#h1_1)"/>
<rect x="46.50" y="258.609" width="146.40" height="1.055" fill="url(#h1_2)"/>
<rect x="46.50" y="259.614" width="146.40" height="1.055" fill="url(#h1_3)"/>
<rect x="46.50" y="260.618" width="146.40" height="1.055" fill="url(#h1_4)"/>
<rect x="46.50" y="261.623" width="146.40" height="1.055" fill="url(#h1_5)"/>
<rect x="46.50" y="262.627" width="146.40" height="1.055" fill="url(#h1_6)"/>
<rect x="46.50" y="263.632" width="146.40" height="1.055" fill="url(#h1_7)"/>
<rect x="46.50" y="264.636" width="146.40" height="1.055" fill="url(#h1_8)"/>
<rect x="46.50" y="265.641" width="146.40" height="1.055" fill="url(#h1_9)"/>
<rect x="46.50" y="266.645" width="146.40" height="1.055" fill="url(#h1_10)"/>
<rect x="46.50" y="267.650" width="146.40" height="1.055" fill="url(#h1_11)"/>
<rect x="46.50" y="268.655" width="146.40" height="1.055" fill="url(#h1_12)"/>
<rect x="46.50" y="269.659" width="146.40" height="1.055" fill="url(#h1_13)"/>
<rect x="46.50" y="270.664" width="146.40" height="1.055" fill="url(#h1_14)"/>
<rect x="46.50" y="271.668" width="146.40" height="1.055" fill="url(#h1_15)"/>
<rect x="46.50" y="272.673" width="146.40" height="1.055" fill="url(#h1_16)"/>
<rect x="46.50" y="273.677" width="146.40" height="1.055" fill="url(#h1_17)"/>
<rect x="46.50" y="274.682" width="146.40" height="1.055" fill="url(#h1_18)"/>
<rect x="46.50" y="275.686" width="146.40" height="1.055" fill="url(#h1_19)"/>
<rect x="46.50" y="276.691" width="146.40" height="1.055" fill="url(#h1_20)"/>
<rect x="46.50" y="277.695" width="146.40" height="1.055" fill="url(#h1_21)"/>
<rect x="46.50" y="278.700" width="146.40" height="1.055" fill="url(#h1_22)"/>
<rect x="46.50" y="279.705" width="146.40" height="1.055" fill="url(#h1_23)"/>
<rect x="46.50" y="280.709" width="146.40" height="1.055" fill="url(#h1_24)"/>
<rect x="46.50" y="281.714" width="146.40" height="1.055" fill="url(#h1_25)"/>
<rect x="46.50" y="282.718" width="146.40" height="1.055" fill="url(#h1_26)"/>
<rect x="46.50" y="283.723" width="146.40" height="1.055" fill="url(#h1_27)"/>
<rect x="46.50" y="284.727" width="146.40" height="1.055" fill="url(#h1_28)"/>
<rect x="46.50" y="285.732" width="146.40" height="1.055" fill="url(#h1_29)"/>
<rect x="46.50" y="286.736" width="146.40" height="1.055" fill="url(#h1_30)"/>
<rect x="46.50" y="287.741" width="146.40" height="1.055" fill="url(#h1_31)"/>
<rect x="46.50" y="288.745" width="146.40" height="1.055" fill="url(#h1_32)"/>
<rect x="46.50" y="289.750" width="146.40" height="1.055" fill="url(#h1_33)"/>
<rect x="46.50" y="290.755" width="146.40" height="1.055" fill="url(#h1_34)"/>
<rect x="46.50" y="291.759" width="146.40" height="1.055" fill="url(#h1_35)"/>
<rect x="46.50" y="292.764" width="146.40" height="1.055" fill="url(#h1_36)"/>
<rect x="46.50" y="293.768" width="146.40" height="1.055" fill="url(#h1_37)"/>
<rect x="46.50" y="294.773" width="146.40" height="1.055" fill="url(#h1_38)"/>
<rect x="46.50" y="295.777" width="146.40" height="1.055" fill="url(#h1_39)"/>
<rect x="46.50" y="296.782" width="146.40" height="1.055" fill="url(#h1_40)"/>
<rect x="46.50" y="297.786" width="146.40" height="1.055" fill="url(#h1_41)"/>
<rect x="46.50" y="298.791" width="146.40" height="1.055" fill="url(#h1_42)"/>
<rect x="46.50" y="299.795" width="146.40" height="1.055" fill="url(#h1_43)"/>
<rect x="46.50" y="300.800" width="146.40" height="1.055" fill="url(#h1_44)"/>
<rect x="46.50" y="301.805" width="146.40" height="1.055" fill="url(#h1_45)"/>
<rect x="46.50" y="302.809" width="146.40" height="1.055" fill="url(#h1_46)"/>
<rect x="46.50" y="303.814" width="146.40" height="1.055" fill="url(#h1_47)"/>
<rect x="46.50" y="304.818" width="146.40" height="1.055" fill="url(#h1_48)"/>
<rect x="46.50" y="305.823" width="146.40" height="1.055" fill="url(#h1_49)"/>
<rect x="46.50" y="306.827" width="146.40" height="1.055" fill="url(#h1_50)"/>
<rect x="46.50" y="307.832" width="146.40" height="1.055" fill="url(#h1_51)"/>
<rect x="46.50" y="308.836" width="146.40" height="1.055" fill="url(#h1_52)"/>
<rect x="46.50" y="309.841" width="146.40" height="1.055" fill="url(#h1_53)"/>
<rect x="46.50" y="310.845" width="146.40" height="1.055" fill="url(#h1_54)"/>
<rect x="46.50" y="311.850" width="146.40" height="1.055" fill="url(#h1_55)"/>
<rect x="46.50" y="312.855" width="146.40" height="1.055" fill="url(#h1_56)"/>
<rect x="46.50" y="313.859" width="146.40" height="1.055" fill="url(#h1_57)"/>
<rect x="46.50" y="314.864" width="146.40" height="1.055" fill="url(#h1_58)"/>
<rect x="46.50" y="315.868" width="146.40" height="1.055" fill="url(#h1_59)"/>
<rect x="46.50" y="316.873" width="146.40" height="1.055" fill="url(#h1_60)"/>
<rect x="46.50" y="317.877" width="146.40" height="1.055" fill="url(#h1_61)"/>
<rect x="46.50" y="318.882" width="146.40" height="1.055" fill="url(#h1_62)"/>
<rect x="46.50" y="319.886" width="146.40" height="1.055" fill="url(#h1_63)"/>
<rect x="46.50" y="320.891" width="146.40" height="1.055" fill="url(#h1_64)"/>
<rect x="46.50" y="321.895" width="146.40" height="1.055" fill="url(#h1_65)"/>
<rect x="46.50" y="322.900" width="146.40" height="1.055" fill="url(#h1_66)"/>
<rect x="46.50" y="323.905" width="146.40" height="1.055" fill="url(#h1_67)"/>
<rect x="46.50" y="324.909" width="146.40" height="1.055" fill="url(#h1_68)"/>
<rect x="46.50" y="325.914" width="146.40" height="1.055" fill="url(#h1_69)"/>
<rect x="46.50" y="326.918" width="146.40" height="1.055" fill="url(#h1_70)"/>
<rect x="46.50" y="327.923" width="146.40" height="1.055" fill="url(#h1_71)"/>
<rect x="46.50" y="328.927" width="146.40" height="1.055" fill="url(#h1_72)"/>
<rect x="46.50" y="329.932" width="146.40" height="1.055" fill="url(#h1_73)"/>
<rect x="46.50" y="330.936" width="146.40" height="1.055" fill="url(#h1_74)"/>
<rect x="46.50" y="331.941" width="146.40" height="1.055" fill="url(#h1_75)"/>
<rect x="46.50" y="332.945" width="146.40" height="1.055" fill="url(#h1_76)"/>
<rect x="46.50" y="333.950" width="146.40" height="1.055" fill="url(#h1_77)"/>
<rect x="46.50" y="334.955" width="146.40" height="1.055" fill="url(#h1_78)"/>
<rect x="46.50" y="335.959" width="146.40" height="1.055" fill="url(#h1_79)"/>
<rect x="46.50" y="336.964" width="146.40" height="1.055" fill="url(#h1_80)"/>
<rect x="46.50" y="337.968" width="146.40" height="1.055" fill="url(#h1_81)"/>
<rect x="46.50" y="338.973" width="146.40" height="1.055" fill="url(#h1_82)"/>
<rect x="46.50" y="339.977" width="146.40" height="1.055" fill="url(#h1_83)"/>
<rect x="46.50" y="340.982" width="146.40" height="1.055" fill="url(#h1_84)"/>
<rect x="46.50" y="341.986" width="146.40" height="1.055" fill="url(#h1_85)"/>
<rect x="46.50" y="342.991" width="146.40" height="1.055" fill="url(#h1_86)"/>
<rect x="46.50" y="343.995" width="146.40" height="1.055" fill="url(#h1_87)"/>
</g>
<rect x="46.50" y="256.60" width="146.40" height="88.40" fill="none" stroke="#1a1a1a" stroke-width="0.8"/>
<line x1="44.50" y1="345.00" x2="46.50" y2="345.00" stroke="#111" stroke-width="0.8"/>
<text x="42.60" y="347.30" font-size="6.60" text-anchor="end" font-weight="bold" fill="#333" letter-spacing="0.25">0.0</text>
<line x1="45.30" y1="339.48" x2="46.50" y2="339.48" stroke="#111" stroke-width="0.8"/>
<line x1="44.50" y1="333.95" x2="46.50" y2="333.95" stroke="#111" stroke-width="0.8"/>
<text x="42.60" y="336.25" font-size="6.60" text-anchor="end" font-weight="bold" fill="#333" letter-spacing="0.25">0.5</text>
<line x1="45.30" y1="328.43" x2="46.50" y2="328.43" stroke="#111" stroke-width="0.8"/>
<line x1="44.50" y1="322.90" x2="46.50" y2="322.90" stroke="#111" stroke-width="0.8"/>
<text x="42.60" y="325.20" font-size="6.60" text-anchor="end" font-weight="bold" fill="#333" letter-spacing="0.25">1.0</text>
<line x1="45.30" y1="317.38" x2="46.50" y2="317.38" stroke="#111" stroke-width="0.8"/>
<line x1="44.50" y1="311.85" x2="46.50" y2="311.85" stroke="#111" stroke-width="0.8"/>
<text x="42.60" y="314.15" font-size="6.60" text-anchor="end" font-weight="bold" fill="#333" letter-spacing="0.25">1.5</text>
<line x1="45.30" y1="306.32" x2="46.50" y2="306.32" stroke="#111" stroke-width="0.8"/>
<line x1="44.50" y1="300.80" x2="46.50" y2="300.80" stroke="#111" stroke-width="0.8"/>
<text x="42.60" y="303.10" font-size="6.60" text-anchor="end" font-weight="bold" fill="#333" letter-spacing="0.25">2.0</text>
<line x1="45.30" y1="295.28" x2="46.50" y2="295.28" stroke="#111" stroke-width="0.8"/>
<line x1="44.50" y1="289.75" x2="46.50" y2="289.75" stroke="#111" stroke-width="0.8"/>
<text x="42.60" y="292.05" font-size="6.60" text-anchor="end" font-weight="bold" fill="#333" letter-spacing="0.25">2.5</text>
<line x1="45.30" y1="284.23" x2="46.50" y2="284.23" stroke="#111" stroke-width="0.8"/>
<line x1="44.50" y1="278.70" x2="46.50" y2="278.70" stroke="#111" stroke-width="0.8"/>
<text x="42.60" y="281.00" font-size="6.60" text-anchor="end" font-weight="bold" fill="#333" letter-spacing="0.25">3.0</text>
<line x1="45.30" y1="273.18" x2="46.50" y2="273.18" stroke="#111" stroke-width="0.8"/>
<line x1="44.50" y1="267.65" x2="46.50" y2="267.65" stroke="#111" stroke-width="0.8"/>
<text x="42.60" y="269.95" font-size="6.60" text-anchor="end" font-weight="bold" fill="#333" letter-spacing="0.25">3.5</text>
<line x1="45.30" y1="262.12" x2="46.50" y2="262.12" stroke="#111" stroke-width="0.8"/>
<line x1="44.50" y1="256.60" x2="46.50" y2="256.60" stroke="#111" stroke-width="0.8"/>
<text x="42.60" y="258.90" font-size="6.60" text-anchor="end" font-weight="bold" fill="#333" letter-spacing="0.25">4.0</text>
<line x1="45.90" y1="345.00" x2="45.90" y2="347.00" stroke="#111" stroke-width="0.8"/>
<line x1="58.15" y1="345.00" x2="58.15" y2="346.20" stroke="#111" stroke-width="0.8"/>
<line x1="70.40" y1="345.00" x2="70.40" y2="347.00" stroke="#111" stroke-width="0.8"/>
<line x1="82.65" y1="345.00" x2="82.65" y2="346.20" stroke="#111" stroke-width="0.8"/>
<line x1="94.90" y1="345.00" x2="94.90" y2="347.00" stroke="#111" stroke-width="0.8"/>
<line x1="107.15" y1="345.00" x2="107.15" y2="346.20" stroke="#111" stroke-width="0.8"/>
<line x1="119.40" y1="345.00" x2="119.40" y2="347.00" stroke="#111" stroke-width="0.8"/>
<line x1="131.65" y1="345.00" x2="131.65" y2="346.20" stroke="#111" stroke-width="0.8"/>
<line x1="143.90" y1="345.00" x2="143.90" y2="347.00" stroke="#111" stroke-width="0.8"/>
<line x1="156.15" y1="345.00" x2="156.15" y2="346.20" stroke="#111" stroke-width="0.8"/>
<line x1="168.40" y1="345.00" x2="168.40" y2="347.00" stroke="#111" stroke-width="0.8"/>
<line x1="180.65" y1="345.00" x2="180.65" y2="346.20" stroke="#111" stroke-width="0.8"/>
<line x1="192.90" y1="345.00" x2="192.90" y2="347.00" stroke="#111" stroke-width="0.8"/>
<text transform="translate(25.9,297.60) rotate(-90)" font-size="7.8" text-anchor="middle" fill="#333"><tspan font-style="italic">R</tspan> + <tspan font-style="italic">&#945;</tspan> (&#197;)</text>
<g shape-rendering="crispEdges">
<rect x="46.50" y="354.300" width="146.40" height="1.053" fill="url(#h2_0)"/>
<rect x="46.50" y="355.303" width="146.40" height="1.053" fill="url(#h2_1)"/>
<rect x="46.50" y="356.307" width="146.40" height="1.053" fill="url(#h2_2)"/>
<rect x="46.50" y="357.310" width="146.40" height="1.053" fill="url(#h2_3)"/>
<rect x="46.50" y="358.314" width="146.40" height="1.053" fill="url(#h2_4)"/>
<rect x="46.50" y="359.317" width="146.40" height="1.053" fill="url(#h2_5)"/>
<rect x="46.50" y="360.320" width="146.40" height="1.053" fill="url(#h2_6)"/>
<rect x="46.50" y="361.324" width="146.40" height="1.053" fill="url(#h2_7)"/>
<rect x="46.50" y="362.327" width="146.40" height="1.053" fill="url(#h2_8)"/>
<rect x="46.50" y="363.331" width="146.40" height="1.053" fill="url(#h2_9)"/>
<rect x="46.50" y="364.334" width="146.40" height="1.053" fill="url(#h2_10)"/>
<rect x="46.50" y="365.338" width="146.40" height="1.053" fill="url(#h2_11)"/>
<rect x="46.50" y="366.341" width="146.40" height="1.053" fill="url(#h2_12)"/>
<rect x="46.50" y="367.344" width="146.40" height="1.053" fill="url(#h2_13)"/>
<rect x="46.50" y="368.348" width="146.40" height="1.053" fill="url(#h2_14)"/>
<rect x="46.50" y="369.351" width="146.40" height="1.053" fill="url(#h2_15)"/>
<rect x="46.50" y="370.355" width="146.40" height="1.053" fill="url(#h2_16)"/>
<rect x="46.50" y="371.358" width="146.40" height="1.053" fill="url(#h2_17)"/>
<rect x="46.50" y="372.361" width="146.40" height="1.053" fill="url(#h2_18)"/>
<rect x="46.50" y="373.365" width="146.40" height="1.053" fill="url(#h2_19)"/>
<rect x="46.50" y="374.368" width="146.40" height="1.053" fill="url(#h2_20)"/>
<rect x="46.50" y="375.372" width="146.40" height="1.053" fill="url(#h2_21)"/>
<rect x="46.50" y="376.375" width="146.40" height="1.053" fill="url(#h2_22)"/>
<rect x="46.50" y="377.378" width="146.40" height="1.053" fill="url(#h2_23)"/>
<rect x="46.50" y="378.382" width="146.40" height="1.053" fill="url(#h2_24)"/>
<rect x="46.50" y="379.385" width="146.40" height="1.053" fill="url(#h2_25)"/>
<rect x="46.50" y="380.389" width="146.40" height="1.053" fill="url(#h2_26)"/>
<rect x="46.50" y="381.392" width="146.40" height="1.053" fill="url(#h2_27)"/>
<rect x="46.50" y="382.395" width="146.40" height="1.053" fill="url(#h2_28)"/>
<rect x="46.50" y="383.399" width="146.40" height="1.053" fill="url(#h2_29)"/>
<rect x="46.50" y="384.402" width="146.40" height="1.053" fill="url(#h2_30)"/>
<rect x="46.50" y="385.406" width="146.40" height="1.053" fill="url(#h2_31)"/>
<rect x="46.50" y="386.409" width="146.40" height="1.053" fill="url(#h2_32)"/>
<rect x="46.50" y="387.413" width="146.40" height="1.053" fill="url(#h2_33)"/>
<rect x="46.50" y="388.416" width="146.40" height="1.053" fill="url(#h2_34)"/>
<rect x="46.50" y="389.419" width="146.40" height="1.053" fill="url(#h2_35)"/>
<rect x="46.50" y="390.423" width="146.40" height="1.053" fill="url(#h2_36)"/>
<rect x="46.50" y="391.426" width="146.40" height="1.053" fill="url(#h2_37)"/>
<rect x="46.50" y="392.430" width="146.40" height="1.053" fill="url(#h2_38)"/>
<rect x="46.50" y="393.433" width="146.40" height="1.053" fill="url(#h2_39)"/>
<rect x="46.50" y="394.436" width="146.40" height="1.053" fill="url(#h2_40)"/>
<rect x="46.50" y="395.440" width="146.40" height="1.053" fill="url(#h2_41)"/>
<rect x="46.50" y="396.443" width="146.40" height="1.053" fill="url(#h2_42)"/>
<rect x="46.50" y="397.447" width="146.40" height="1.053" fill="url(#h2_43)"/>
<rect x="46.50" y="398.450" width="146.40" height="1.053" fill="url(#h2_44)"/>
<rect x="46.50" y="399.453" width="146.40" height="1.053" fill="url(#h2_45)"/>
<rect x="46.50" y="400.457" width="146.40" height="1.053" fill="url(#h2_46)"/>
<rect x="46.50" y="401.460" width="146.40" height="1.053" fill="url(#h2_47)"/>
<rect x="46.50" y="402.464" width="146.40" height="1.053" fill="url(#h2_48)"/>
<rect x="46.50" y="403.467" width="146.40" height="1.053" fill="url(#h2_49)"/>
<rect x="46.50" y="404.470" width="146.40" height="1.053" fill="url(#h2_50)"/>
<rect x="46.50" y="405.474" width="146.40" height="1.053" fill="url(#h2_51)"/>
<rect x="46.50" y="406.477" width="146.40" height="1.053" fill="url(#h2_52)"/>
<rect x="46.50" y="407.481" width="146.40" height="1.053" fill="url(#h2_53)"/>
<rect x="46.50" y="408.484" width="146.40" height="1.053" fill="url(#h2_54)"/>
<rect x="46.50" y="409.488" width="146.40" height="1.053" fill="url(#h2_55)"/>
<rect x="46.50" y="410.491" width="146.40" height="1.053" fill="url(#h2_56)"/>
<rect x="46.50" y="411.494" width="146.40" height="1.053" fill="url(#h2_57)"/>
<rect x="46.50" y="412.498" width="146.40" height="1.053" fill="url(#h2_58)"/>
<rect x="46.50" y="413.501" width="146.40" height="1.053" fill="url(#h2_59)"/>
<rect x="46.50" y="414.505" width="146.40" height="1.053" fill="url(#h2_60)"/>
<rect x="46.50" y="415.508" width="146.40" height="1.053" fill="url(#h2_61)"/>
<rect x="46.50" y="416.511" width="146.40" height="1.053" fill="url(#h2_62)"/>
<rect x="46.50" y="417.515" width="146.40" height="1.053" fill="url(#h2_63)"/>
<rect x="46.50" y="418.518" width="146.40" height="1.053" fill="url(#h2_64)"/>
<rect x="46.50" y="419.522" width="146.40" height="1.053" fill="url(#h2_65)"/>
<rect x="46.50" y="420.525" width="146.40" height="1.053" fill="url(#h2_66)"/>
<rect x="46.50" y="421.528" width="146.40" height="1.053" fill="url(#h2_67)"/>
<rect x="46.50" y="422.532" width="146.40" height="1.053" fill="url(#h2_68)"/>
<rect x="46.50" y="423.535" width="146.40" height="1.053" fill="url(#h2_69)"/>
<rect x="46.50" y="424.539" width="146.40" height="1.053" fill="url(#h2_70)"/>
<rect x="46.50" y="425.542" width="146.40" height="1.053" fill="url(#h2_71)"/>
<rect x="46.50" y="426.545" width="146.40" height="1.053" fill="url(#h2_72)"/>
<rect x="46.50" y="427.549" width="146.40" height="1.053" fill="url(#h2_73)"/>
<rect x="46.50" y="428.552" width="146.40" height="1.053" fill="url(#h2_74)"/>
<rect x="46.50" y="429.556" width="146.40" height="1.053" fill="url(#h2_75)"/>
<rect x="46.50" y="430.559" width="146.40" height="1.053" fill="url(#h2_76)"/>
<rect x="46.50" y="431.562" width="146.40" height="1.053" fill="url(#h2_77)"/>
<rect x="46.50" y="432.566" width="146.40" height="1.053" fill="url(#h2_78)"/>
<rect x="46.50" y="433.569" width="146.40" height="1.053" fill="url(#h2_79)"/>
<rect x="46.50" y="434.573" width="146.40" height="1.053" fill="url(#h2_80)"/>
<rect x="46.50" y="435.576" width="146.40" height="1.053" fill="url(#h2_81)"/>
<rect x="46.50" y="436.580" width="146.40" height="1.053" fill="url(#h2_82)"/>
<rect x="46.50" y="437.583" width="146.40" height="1.053" fill="url(#h2_83)"/>
<rect x="46.50" y="438.586" width="146.40" height="1.053" fill="url(#h2_84)"/>
<rect x="46.50" y="439.590" width="146.40" height="1.053" fill="url(#h2_85)"/>
<rect x="46.50" y="440.593" width="146.40" height="1.053" fill="url(#h2_86)"/>
<rect x="46.50" y="441.597" width="146.40" height="1.053" fill="url(#h2_87)"/>
</g>
<rect x="46.50" y="354.30" width="146.40" height="88.30" fill="none" stroke="#1a1a1a" stroke-width="0.8"/>
<line x1="44.50" y1="442.60" x2="46.50" y2="442.60" stroke="#111" stroke-width="0.8"/>
<text x="42.60" y="444.90" font-size="6.60" text-anchor="end" font-weight="bold" fill="#333" letter-spacing="0.25">0.0</text>
<line x1="45.30" y1="437.08" x2="46.50" y2="437.08" stroke="#111" stroke-width="0.8"/>
<line x1="44.50" y1="431.56" x2="46.50" y2="431.56" stroke="#111" stroke-width="0.8"/>
<text x="42.60" y="433.86" font-size="6.60" text-anchor="end" font-weight="bold" fill="#333" letter-spacing="0.25">0.5</text>
<line x1="45.30" y1="426.04" x2="46.50" y2="426.04" stroke="#111" stroke-width="0.8"/>
<line x1="44.50" y1="420.53" x2="46.50" y2="420.53" stroke="#111" stroke-width="0.8"/>
<text x="42.60" y="422.83" font-size="6.60" text-anchor="end" font-weight="bold" fill="#333" letter-spacing="0.25">1.0</text>
<line x1="45.30" y1="415.01" x2="46.50" y2="415.01" stroke="#111" stroke-width="0.8"/>
<line x1="44.50" y1="409.49" x2="46.50" y2="409.49" stroke="#111" stroke-width="0.8"/>
<text x="42.60" y="411.79" font-size="6.60" text-anchor="end" font-weight="bold" fill="#333" letter-spacing="0.25">1.5</text>
<line x1="45.30" y1="403.97" x2="46.50" y2="403.97" stroke="#111" stroke-width="0.8"/>
<line x1="44.50" y1="398.45" x2="46.50" y2="398.45" stroke="#111" stroke-width="0.8"/>
<text x="42.60" y="400.75" font-size="6.60" text-anchor="end" font-weight="bold" fill="#333" letter-spacing="0.25">2.0</text>
<line x1="45.30" y1="392.93" x2="46.50" y2="392.93" stroke="#111" stroke-width="0.8"/>
<line x1="44.50" y1="387.41" x2="46.50" y2="387.41" stroke="#111" stroke-width="0.8"/>
<text x="42.60" y="389.71" font-size="6.60" text-anchor="end" font-weight="bold" fill="#333" letter-spacing="0.25">2.5</text>
<line x1="45.30" y1="381.89" x2="46.50" y2="381.89" stroke="#111" stroke-width="0.8"/>
<line x1="44.50" y1="376.38" x2="46.50" y2="376.38" stroke="#111" stroke-width="0.8"/>
<text x="42.60" y="378.68" font-size="6.60" text-anchor="end" font-weight="bold" fill="#333" letter-spacing="0.25">3.0</text>
<line x1="45.30" y1="370.86" x2="46.50" y2="370.86" stroke="#111" stroke-width="0.8"/>
<line x1="44.50" y1="365.34" x2="46.50" y2="365.34" stroke="#111" stroke-width="0.8"/>
<text x="42.60" y="367.64" font-size="6.60" text-anchor="end" font-weight="bold" fill="#333" letter-spacing="0.25">3.5</text>
<line x1="45.30" y1="359.82" x2="46.50" y2="359.82" stroke="#111" stroke-width="0.8"/>
<line x1="44.50" y1="354.30" x2="46.50" y2="354.30" stroke="#111" stroke-width="0.8"/>
<text x="42.60" y="356.60" font-size="6.60" text-anchor="end" font-weight="bold" fill="#333" letter-spacing="0.25">4.0</text>
<line x1="45.90" y1="442.60" x2="45.90" y2="444.60" stroke="#111" stroke-width="0.8"/>
<line x1="58.15" y1="442.60" x2="58.15" y2="443.80" stroke="#111" stroke-width="0.8"/>
<line x1="70.40" y1="442.60" x2="70.40" y2="444.60" stroke="#111" stroke-width="0.8"/>
<line x1="82.65" y1="442.60" x2="82.65" y2="443.80" stroke="#111" stroke-width="0.8"/>
<line x1="94.90" y1="442.60" x2="94.90" y2="444.60" stroke="#111" stroke-width="0.8"/>
<line x1="107.15" y1="442.60" x2="107.15" y2="443.80" stroke="#111" stroke-width="0.8"/>
<line x1="119.40" y1="442.60" x2="119.40" y2="444.60" stroke="#111" stroke-width="0.8"/>
<line x1="131.65" y1="442.60" x2="131.65" y2="443.80" stroke="#111" stroke-width="0.8"/>
<line x1="143.90" y1="442.60" x2="143.90" y2="444.60" stroke="#111" stroke-width="0.8"/>
<line x1="156.15" y1="442.60" x2="156.15" y2="443.80" stroke="#111" stroke-width="0.8"/>
<line x1="168.40" y1="442.60" x2="168.40" y2="444.60" stroke="#111" stroke-width="0.8"/>
<line x1="180.65" y1="442.60" x2="180.65" y2="443.80" stroke="#111" stroke-width="0.8"/>
<line x1="192.90" y1="442.60" x2="192.90" y2="444.60" stroke="#111" stroke-width="0.8"/>
<text transform="translate(25.9,395.25) rotate(-90)" font-size="7.8" text-anchor="middle" fill="#333"><tspan font-style="italic">R</tspan> + <tspan font-style="italic">&#945;</tspan> (&#197;)</text>
<text x="45.60" y="451.60" font-size="7.80" text-anchor="middle" font-weight="normal" fill="#222" >0</text>
<text x="70.20" y="451.60" font-size="7.80" text-anchor="middle" font-weight="normal" fill="#222" >2</text>
<text x="94.80" y="451.60" font-size="7.80" text-anchor="middle" font-weight="normal" fill="#222" >4</text>
<text x="119.40" y="451.60" font-size="7.80" text-anchor="middle" font-weight="normal" fill="#222" >6</text>
<text x="144.00" y="451.60" font-size="7.80" text-anchor="middle" font-weight="normal" fill="#222" >8</text>
<text x="168.60" y="451.60" font-size="7.80" text-anchor="middle" font-weight="normal" fill="#222" >10</text>
<text x="193.20" y="451.60" font-size="7.80" text-anchor="middle" font-weight="normal" fill="#222" >12</text>
<text x="118" y="462.2" font-size="8.6" text-anchor="middle" fill="#222"><tspan font-style="italic">k</tspan> (&#197;<tspan font-size="5.5" dy="-3">-1</tspan><tspan dy="3">)</tspan></text>
<text x="51.70" y="171.00" font-size="9.00" text-anchor="start" font-weight="bold" fill="#fff" >Ru-Foil</text>
<text x="130.00" y="183.00" font-size="7.90" text-anchor="start" font-weight="bold" fill="#fff" >Ru-Ru</text>
<text x="51.30" y="270.40" font-size="9.10" text-anchor="start" font-weight="bold" fill="#fff" >Ru<tspan font-size="6" dy="1.6">1</tspan><tspan dy="-1.6">/mono-NiFe-0.3</tspan></text>
<text x="99.60" y="299.90" font-size="8.30" text-anchor="start" font-weight="bold" fill="#fff" >Ru-O</text>
<text x="51.70" y="372.80" font-size="9.00" text-anchor="start" font-weight="bold" fill="#fff" >RuO<tspan font-size="5.5" dy="1.6">2</tspan></text>
<text x="126.00" y="367.20" font-size="7.90" text-anchor="start" font-weight="bold" fill="#fff" >Ru-Ru</text>
<text x="77.60" y="398.40" font-size="8.50" text-anchor="start" font-weight="bold" fill="#fff" >Ru-O</text>
<line x1="155.60" y1="175.50" x2="155.60" y2="247.00" stroke="#f01010" stroke-width="1.50" stroke-dasharray="1.5,1.5"/>
<line x1="96.30" y1="295.80" x2="96.30" y2="344.80" stroke="#f01010" stroke-width="1.50" stroke-dasharray="1.5,1.5"/>
<line x1="101.80" y1="393.50" x2="101.80" y2="442.00" stroke="#f01010" stroke-width="1.50" stroke-dasharray="1.5,1.5"/>
<line x1="155.40" y1="359.50" x2="155.40" y2="442.00" stroke="#f01010" stroke-width="1.50" stroke-dasharray="1.5,1.5"/>
<rect x="233.20" y="172.50" width="155.20" height="125.10" fill="none" stroke="#222" stroke-width="1.4"/>
<line x1="233.50" y1="297.60" x2="233.50" y2="300.00" stroke="#111" stroke-width="0.9"/>
<line x1="246.30" y1="297.60" x2="246.30" y2="299.00" stroke="#111" stroke-width="0.9"/>
<line x1="259.10" y1="297.60" x2="259.10" y2="300.00" stroke="#111" stroke-width="0.9"/>
<line x1="271.90" y1="297.60" x2="271.90" y2="299.00" stroke="#111" stroke-width="0.9"/>
<line x1="284.70" y1="297.60" x2="284.70" y2="300.00" stroke="#111" stroke-width="0.9"/>
<line x1="297.50" y1="297.60" x2="297.50" y2="299.00" stroke="#111" stroke-width="0.9"/>
<line x1="310.30" y1="297.60" x2="310.30" y2="300.00" stroke="#111" stroke-width="0.9"/>
<line x1="323.10" y1="297.60" x2="323.10" y2="299.00" stroke="#111" stroke-width="0.9"/>
<line x1="335.90" y1="297.60" x2="335.90" y2="300.00" stroke="#111" stroke-width="0.9"/>
<line x1="348.70" y1="297.60" x2="348.70" y2="299.00" stroke="#111" stroke-width="0.9"/>
<line x1="361.50" y1="297.60" x2="361.50" y2="300.00" stroke="#111" stroke-width="0.9"/>
<line x1="374.30" y1="297.60" x2="374.30" y2="299.00" stroke="#111" stroke-width="0.9"/>
<line x1="387.10" y1="297.60" x2="387.10" y2="300.00" stroke="#111" stroke-width="0.9"/>
<text x="233.50" y="308.40" font-size="8.60" text-anchor="middle" font-weight="normal" fill="#222" >0</text>
<text x="259.10" y="308.40" font-size="8.60" text-anchor="middle" font-weight="normal" fill="#222" >1</text>
<text x="284.70" y="308.40" font-size="8.60" text-anchor="middle" font-weight="normal" fill="#222" >2</text>
<text x="310.30" y="308.40" font-size="8.60" text-anchor="middle" font-weight="normal" fill="#222" >3</text>
<text x="335.90" y="308.40" font-size="8.60" text-anchor="middle" font-weight="normal" fill="#222" >4</text>
<text x="361.50" y="308.40" font-size="8.60" text-anchor="middle" font-weight="normal" fill="#222" >5</text>
<text x="386.50" y="308.40" font-size="8.60" text-anchor="middle" font-weight="normal" fill="#222" >6</text>
<line x1="230.80" y1="285.00" x2="233.20" y2="285.00" stroke="#111" stroke-width="0.9"/>
<line x1="231.80" y1="269.35" x2="233.20" y2="269.35" stroke="#111" stroke-width="0.9"/>
<line x1="230.80" y1="253.70" x2="233.20" y2="253.70" stroke="#111" stroke-width="0.9"/>
<line x1="231.80" y1="238.05" x2="233.20" y2="238.05" stroke="#111" stroke-width="0.9"/>
<line x1="230.80" y1="222.40" x2="233.20" y2="222.40" stroke="#111" stroke-width="0.9"/>
<line x1="231.80" y1="206.75" x2="233.20" y2="206.75" stroke="#111" stroke-width="0.9"/>
<line x1="230.80" y1="191.10" x2="233.20" y2="191.10" stroke="#111" stroke-width="0.9"/>
<line x1="231.80" y1="175.45" x2="233.20" y2="175.45" stroke="#111" stroke-width="0.9"/>
<text x="229.40" y="288.10" font-size="8.60" text-anchor="end" font-weight="normal" fill="#222" >0</text>
<text x="229.40" y="256.80" font-size="8.60" text-anchor="end" font-weight="normal" fill="#222" >1</text>
<text x="229.40" y="225.50" font-size="8.60" text-anchor="end" font-weight="normal" fill="#222" >2</text>
<text x="229.40" y="194.20" font-size="8.60" text-anchor="end" font-weight="normal" fill="#222" >3</text>
<text x="310.6" y="319.5" font-size="8.6" text-anchor="middle" fill="#222"><tspan font-style="italic">R</tspan> (&#197;)</text>
<text transform="translate(217.6,239) rotate(-90)" font-size="8.3" text-anchor="middle" fill="#222">FT (<tspan font-style="italic">k</tspan><tspan font-size="5.5" dy="-3">3</tspan><tspan dy="3">&#967;)</tspan></text>
<g fill="none" stroke-linejoin="round" stroke-linecap="round">
<path d="M234.40,243.60 C235.03,243.68 236.97,243.92 238.20,244.10 C239.43,244.28 240.63,244.87 241.80,244.70 C242.97,244.53 244.13,243.63 245.20,243.10 C246.27,242.57 247.20,241.72 248.20,241.50 C249.20,241.28 250.12,241.62 251.20,241.80 C252.28,241.98 253.53,243.30 254.70,242.60 C255.87,241.90 257.12,239.22 258.20,237.60 C259.28,235.97 260.03,234.52 261.20,232.85 C262.37,231.18 263.93,229.39 265.20,227.60 C266.47,225.81 267.72,223.93 268.80,222.10 C269.88,220.27 270.80,217.93 271.70,216.60 C272.60,215.27 273.37,213.60 274.20,214.10 C275.03,214.60 275.82,217.02 276.70,219.60 C277.58,222.18 278.58,226.27 279.50,229.60 C280.42,232.93 281.37,236.90 282.20,239.60 C283.03,242.30 283.75,245.47 284.50,245.80 C285.25,246.13 285.83,243.03 286.70,241.60 C287.57,240.17 288.70,237.45 289.70,237.20 C290.70,236.95 291.70,239.03 292.70,240.10 C293.70,241.17 294.45,242.85 295.70,243.60 C296.95,244.35 298.77,244.42 300.20,244.60 C301.63,244.78 302.80,244.60 304.30,244.70 C305.80,244.80 307.22,245.18 309.20,245.20 C311.18,245.22 313.87,244.67 316.20,244.80 C318.53,244.93 320.70,245.95 323.20,246.00 C325.70,246.05 328.53,245.08 331.20,245.10 C333.87,245.12 336.53,246.02 339.20,246.10 C341.87,246.18 344.53,245.58 347.20,245.60 C349.87,245.62 352.53,246.23 355.20,246.20 C357.87,246.17 360.53,245.40 363.20,245.40 C365.87,245.40 368.53,246.13 371.20,246.20 C373.87,246.27 376.17,245.80 379.20,245.80 C382.23,245.80 387.70,246.13 389.40,246.20" stroke="#e6c88c" stroke-width="0.9" stroke-dasharray="1.2,1"/>
<path d="M234.40,270.80 C235.10,270.25 237.18,267.58 238.60,267.50 C240.02,267.42 241.47,270.75 242.90,270.30 C244.33,269.85 245.58,266.70 247.20,264.80 C248.82,262.90 251.10,259.82 252.60,258.90 C254.10,257.98 254.93,259.18 256.20,259.30 C257.47,259.42 259.03,260.68 260.20,259.60 C261.37,258.52 262.13,255.25 263.20,252.80 C264.27,250.35 265.52,247.40 266.60,244.90 C267.68,242.40 268.70,239.67 269.70,237.80 C270.70,235.93 271.60,233.70 272.60,233.70 C273.60,233.70 274.55,235.40 275.70,237.80 C276.85,240.20 278.33,244.77 279.50,248.10 C280.67,251.43 281.62,254.92 282.70,257.80 C283.78,260.68 284.73,263.95 286.00,265.40 C287.27,266.85 288.93,266.10 290.30,266.50 C291.67,266.90 292.93,267.45 294.20,267.80 C295.47,268.15 296.73,268.68 297.90,268.60 C299.07,268.52 300.13,267.65 301.20,267.30 C302.27,266.95 302.97,266.28 304.30,266.50 C305.63,266.72 307.63,268.47 309.20,268.60 C310.77,268.73 312.08,267.73 313.70,267.30 C315.32,266.87 316.95,265.60 318.90,266.00 C320.85,266.40 323.42,269.27 325.40,269.70 C327.38,270.13 329.00,268.83 330.80,268.60 C332.60,268.37 333.63,268.35 336.20,268.30 C338.77,268.25 342.87,268.38 346.20,268.30 C349.53,268.22 352.87,267.80 356.20,267.80 C359.53,267.80 362.87,268.13 366.20,268.30 C369.53,268.47 372.33,268.55 376.20,268.80 C380.07,269.05 387.20,269.63 389.40,269.80" stroke="#e6c88c" stroke-width="0.9" stroke-dasharray="1.2,1"/>
<path d="M233.20,208.60 C234.33,208.63 237.53,208.85 240.00,208.80 C242.47,208.75 245.33,208.47 248.00,208.30 C250.67,208.13 253.28,208.10 256.00,207.80 C258.72,207.50 261.97,206.97 264.30,206.50 C266.63,206.03 268.55,205.37 270.00,205.00 C271.45,204.63 272.17,204.22 273.00,204.30 C273.83,204.38 274.28,205.13 275.00,205.50 C275.72,205.87 276.55,206.75 277.30,206.50 C278.05,206.25 278.78,205.08 279.50,204.00 C280.22,202.92 280.68,201.92 281.60,200.00 C282.52,198.08 283.77,195.08 285.00,192.50 C286.23,189.92 287.75,186.67 289.00,184.50 C290.25,182.33 291.45,180.65 292.50,179.50 C293.55,178.35 294.47,177.60 295.30,177.60 C296.13,177.60 296.72,177.77 297.50,179.50 C298.28,181.23 299.12,184.58 300.00,188.00 C300.88,191.42 301.83,196.73 302.80,200.00 C303.77,203.27 304.77,206.63 305.80,207.60 C306.83,208.57 307.57,206.33 309.00,205.80 C310.43,205.27 312.73,204.77 314.40,204.40 C316.07,204.03 317.37,203.90 319.00,203.60 C320.63,203.30 322.70,202.45 324.20,202.60 C325.70,202.75 326.82,203.68 328.00,204.50 C329.18,205.32 329.97,207.33 331.30,207.50 C332.63,207.67 334.13,205.97 336.00,205.50 C337.87,205.03 339.98,204.97 342.50,204.70 C345.02,204.43 349.02,203.68 351.10,203.90 C353.18,204.12 353.85,205.28 355.00,206.00 C356.15,206.72 357.00,208.03 358.00,208.20 C359.00,208.37 359.82,207.37 361.00,207.00 C362.18,206.63 363.77,205.97 365.10,206.00 C366.43,206.03 367.73,206.77 369.00,207.20 C370.27,207.63 371.20,208.50 372.70,208.60 C374.20,208.70 376.22,208.08 378.00,207.80 C379.78,207.52 381.70,207.03 383.40,206.90 C385.10,206.77 387.40,206.98 388.20,207.00" stroke="#3d8fe6" stroke-width="1.5"/>
<path d="M233.20,242.00 C233.83,242.08 235.77,242.32 237.00,242.50 C238.23,242.68 239.43,243.27 240.60,243.10 C241.77,242.93 242.93,242.03 244.00,241.50 C245.07,240.97 246.00,240.12 247.00,239.90 C248.00,239.68 248.92,240.02 250.00,240.20 C251.08,240.38 252.33,241.70 253.50,241.00 C254.67,240.30 255.92,237.62 257.00,236.00 C258.08,234.38 258.83,232.92 260.00,231.25 C261.17,229.58 262.73,227.79 264.00,226.00 C265.27,224.21 266.52,222.33 267.60,220.50 C268.68,218.67 269.60,216.33 270.50,215.00 C271.40,213.67 272.17,212.00 273.00,212.50 C273.83,213.00 274.62,215.42 275.50,218.00 C276.38,220.58 277.38,224.67 278.30,228.00 C279.22,231.33 280.17,235.30 281.00,238.00 C281.83,240.70 282.55,243.87 283.30,244.20 C284.05,244.53 284.63,241.43 285.50,240.00 C286.37,238.57 287.50,235.85 288.50,235.60 C289.50,235.35 290.50,237.43 291.50,238.50 C292.50,239.57 293.25,241.25 294.50,242.00 C295.75,242.75 297.57,242.82 299.00,243.00 C300.43,243.18 301.60,243.00 303.10,243.10 C304.60,243.20 306.02,243.58 308.00,243.60 C309.98,243.62 312.67,243.07 315.00,243.20 C317.33,243.33 319.50,244.35 322.00,244.40 C324.50,244.45 327.33,243.48 330.00,243.50 C332.67,243.52 335.33,244.42 338.00,244.50 C340.67,244.58 343.33,243.98 346.00,244.00 C348.67,244.02 351.33,244.63 354.00,244.60 C356.67,244.57 359.33,243.80 362.00,243.80 C364.67,243.80 367.33,244.53 370.00,244.60 C372.67,244.67 374.97,244.20 378.00,244.20 C381.03,244.20 386.50,244.53 388.20,244.60" stroke="#3d8fe6" stroke-width="1.5"/>
<path d="M233.20,269.00 C233.90,268.45 235.98,265.78 237.40,265.70 C238.82,265.62 240.27,268.95 241.70,268.50 C243.13,268.05 244.38,264.90 246.00,263.00 C247.62,261.10 249.90,258.02 251.40,257.10 C252.90,256.18 253.73,257.38 255.00,257.50 C256.27,257.62 257.83,258.88 259.00,257.80 C260.17,256.72 260.93,253.45 262.00,251.00 C263.07,248.55 264.32,245.60 265.40,243.10 C266.48,240.60 267.50,237.87 268.50,236.00 C269.50,234.13 270.40,231.90 271.40,231.90 C272.40,231.90 273.35,233.60 274.50,236.00 C275.65,238.40 277.13,242.97 278.30,246.30 C279.47,249.63 280.42,253.12 281.50,256.00 C282.58,258.88 283.53,262.15 284.80,263.60 C286.07,265.05 287.73,264.30 289.10,264.70 C290.47,265.10 291.73,265.65 293.00,266.00 C294.27,266.35 295.53,266.88 296.70,266.80 C297.87,266.72 298.93,265.85 300.00,265.50 C301.07,265.15 301.77,264.48 303.10,264.70 C304.43,264.92 306.43,266.67 308.00,266.80 C309.57,266.93 310.88,265.93 312.50,265.50 C314.12,265.07 315.75,263.80 317.70,264.20 C319.65,264.60 322.22,267.47 324.20,267.90 C326.18,268.33 327.80,267.03 329.60,266.80 C331.40,266.57 332.43,266.55 335.00,266.50 C337.57,266.45 341.67,266.58 345.00,266.50 C348.33,266.42 351.67,266.00 355.00,266.00 C358.33,266.00 361.67,266.33 365.00,266.50 C368.33,266.67 371.13,266.75 375.00,267.00 C378.87,267.25 386.00,267.83 388.20,268.00" stroke="#ea1c24" stroke-width="1.5"/>
<path d="M233.20,288.00 C234.00,287.92 236.40,287.62 238.00,287.50 C239.60,287.38 241.30,287.08 242.80,287.30 C244.30,287.52 245.63,289.18 247.00,288.80 C248.37,288.42 249.55,286.33 251.00,285.00 C252.45,283.67 254.20,281.88 255.70,280.80 C257.20,279.72 258.57,279.22 260.00,278.50 C261.43,277.78 262.87,278.08 264.30,276.50 C265.73,274.92 267.33,271.15 268.60,269.00 C269.87,266.85 270.82,263.97 271.90,263.60 C272.98,263.23 274.08,264.90 275.10,266.80 C276.12,268.70 277.18,272.30 278.00,275.00 C278.82,277.70 279.23,280.77 280.00,283.00 C280.77,285.23 281.60,287.47 282.60,288.40 C283.60,289.33 284.73,288.67 286.00,288.60 C287.27,288.53 288.87,288.27 290.20,288.00 C291.53,287.73 292.57,287.48 294.00,287.00 C295.43,286.52 297.30,285.85 298.80,285.10 C300.30,284.35 301.57,283.40 303.00,282.50 C304.43,281.60 305.95,280.88 307.40,279.70 C308.85,278.52 310.23,276.28 311.70,275.40 C313.17,274.52 314.90,274.13 316.20,274.40 C317.50,274.67 318.35,275.93 319.50,277.00 C320.65,278.07 321.85,279.47 323.10,280.80 C324.35,282.13 325.57,283.73 327.00,285.00 C328.43,286.27 329.83,288.38 331.70,288.40 C333.57,288.42 336.22,285.47 338.20,285.10 C340.18,284.73 341.27,285.58 343.60,286.20 C345.93,286.82 349.80,288.75 352.20,288.80 C354.60,288.85 356.20,287.30 358.00,286.50 C359.80,285.70 361.42,284.48 363.00,284.00 C364.58,283.52 366.00,283.35 367.50,283.60 C369.00,283.85 370.42,284.68 372.00,285.50 C373.58,286.32 375.42,287.72 377.00,288.50 C378.58,289.28 380.17,289.98 381.50,290.20 C382.83,290.42 383.88,289.95 385.00,289.80 C386.12,289.65 387.67,289.38 388.20,289.30" stroke="#4aea4a" stroke-width="1.5"/>
</g>
<line x1="272.50" y1="204.30" x2="272.50" y2="285.10" stroke="#f01010" stroke-width="1.80" stroke-dasharray="1.6,1.4"/>
<line x1="295.10" y1="173.00" x2="295.10" y2="211.90" stroke="#f01010" stroke-width="1.80" stroke-dasharray="1.6,1.4"/>
<line x1="316.20" y1="273.30" x2="316.20" y2="296.30" stroke="#f01010" stroke-width="1.80" stroke-dasharray="1.6,1.4"/>
<text x="304.00" y="184.20" font-size="8.10" text-anchor="start" font-weight="bold" fill="#222" >Ru-Ru</text>
<text x="245.00" y="217.40" font-size="8.10" text-anchor="start" font-weight="bold" fill="#222" >Ru-O</text>
<text x="288.70" y="277.40" font-size="8.10" text-anchor="start" font-weight="bold" fill="#222" >Ru-Ru</text>
<line x1="347.4" y1="180.6" x2="362" y2="180.6" stroke="#e2d080" stroke-width="1.1" stroke-dasharray="1.3,0.9"/>
<text x="363.90" y="183.00" font-size="6.70" text-anchor="start" font-weight="bold" fill="#222" >Fitting</text>
<text x="343.20" y="200.20" font-size="6.70" text-anchor="start" font-weight="bold" fill="#1a1a1a" >Ru-Foil</text>
<text x="368.60" y="200.20" font-size="5.20" text-anchor="start" font-weight="bold" fill="#1a1a1a" >x 0.25</text>
<text x="328.80" y="239.70" font-size="5.80" text-anchor="start" font-weight="bold" fill="#1a1a1a" textLength="52.6" lengthAdjust="spacingAndGlyphs">Ru<tspan font-size="4" dy="1.2">1</tspan><tspan dy="-1.2">/mono-NiFe-1.6</tspan></text>
<text x="328.80" y="262.80" font-size="5.80" text-anchor="start" font-weight="bold" fill="#1a1a1a" textLength="52.6" lengthAdjust="spacingAndGlyphs">Ru<tspan font-size="4" dy="1.2">1</tspan><tspan dy="-1.2">/mono-NiFe-0.3</tspan></text>
<text x="346.80" y="280.20" font-size="7.00" text-anchor="start" font-weight="bold" fill="#222" >RuO<tspan font-size="4" dy="1.2">2</tspan><tspan dy="-1.2"></tspan></text>
<text x="368.00" y="280.80" font-size="5.30" text-anchor="start" font-weight="bold" fill="#1a1a1a" >x 0.25</text>
<g stroke-linecap="round" stroke-width="2.7">
<line x1="235.36" y1="423.42" x2="230.41" y2="410.54" stroke="#e5161c"/>
<line x1="230.41" y1="410.54" x2="226.19" y2="399.57" stroke="#9aa2d4"/>
<line x1="235.36" y1="423.42" x2="227.32" y2="421.86" stroke="#e5161c"/>
<line x1="227.32" y1="421.86" x2="220.46" y2="420.52" stroke="#a4ee78"/>
<line x1="235.36" y1="423.42" x2="248.72" y2="417.58" stroke="#e5161c"/>
<line x1="248.72" y1="417.58" x2="260.09" y2="412.60" stroke="#a4ee78"/>
<line x1="269.16" y1="436.40" x2="264.26" y2="423.55" stroke="#e5161c"/>
<line x1="264.26" y1="423.55" x2="260.09" y2="412.60" stroke="#a4ee78"/>
<line x1="269.16" y1="436.40" x2="261.06" y2="434.80" stroke="#e5161c"/>
<line x1="261.06" y1="434.80" x2="254.15" y2="433.43" stroke="#a4ee78"/>
<line x1="269.16" y1="436.40" x2="282.51" y2="430.56" stroke="#e5161c"/>
<line x1="282.51" y1="430.56" x2="293.89" y2="425.59" stroke="#a4ee78"/>
<line x1="302.84" y1="449.33" x2="298.01" y2="436.51" stroke="#e5161c"/>
<line x1="298.01" y1="436.51" x2="293.89" y2="425.59" stroke="#a4ee78"/>
<line x1="302.84" y1="449.33" x2="294.68" y2="447.69" stroke="#e5161c"/>
<line x1="294.68" y1="447.69" x2="287.73" y2="446.30" stroke="#9aa2d4"/>
<line x1="302.84" y1="449.33" x2="316.19" y2="443.50" stroke="#e5161c"/>
<line x1="316.19" y1="443.50" x2="327.57" y2="438.54" stroke="#a4ee78"/>
<line x1="241.21" y1="402.32" x2="236.23" y2="389.37" stroke="#e5161c"/>
<line x1="236.23" y1="389.37" x2="231.99" y2="378.34" stroke="#a4ee78"/>
<line x1="241.21" y1="402.32" x2="233.10" y2="400.84" stroke="#e5161c"/>
<line x1="233.10" y1="400.84" x2="226.19" y2="399.57" stroke="#9aa2d4"/>
<line x1="241.21" y1="402.32" x2="254.66" y2="396.48" stroke="#e5161c"/>
<line x1="254.66" y1="396.48" x2="266.11" y2="391.49" stroke="#a4ee78"/>
<line x1="275.22" y1="415.42" x2="270.31" y2="402.50" stroke="#e5161c"/>
<line x1="270.31" y1="402.50" x2="266.11" y2="391.49" stroke="#a4ee78"/>
<line x1="275.22" y1="415.42" x2="267.05" y2="413.90" stroke="#e5161c"/>
<line x1="267.05" y1="413.90" x2="260.09" y2="412.60" stroke="#a4ee78"/>
<line x1="275.22" y1="415.42" x2="288.67" y2="409.58" stroke="#e5161c"/>
<line x1="288.67" y1="409.58" x2="300.13" y2="404.61" stroke="#9aa2d4"/>
<line x1="309.13" y1="428.48" x2="304.27" y2="415.59" stroke="#e5161c"/>
<line x1="304.27" y1="415.59" x2="300.13" y2="404.61" stroke="#9aa2d4"/>
<line x1="309.13" y1="428.48" x2="300.90" y2="426.92" stroke="#e5161c"/>
<line x1="300.90" y1="426.92" x2="293.89" y2="425.59" stroke="#a4ee78"/>
<line x1="309.13" y1="428.48" x2="322.57" y2="422.65" stroke="#e5161c"/>
<line x1="322.57" y1="422.65" x2="334.02" y2="417.67" stroke="#a4ee78"/>
<line x1="342.91" y1="441.49" x2="338.11" y2="428.63" stroke="#e5161c"/>
<line x1="338.11" y1="428.63" x2="334.02" y2="417.67" stroke="#a4ee78"/>
<line x1="342.91" y1="441.49" x2="334.62" y2="439.90" stroke="#e5161c"/>
<line x1="334.62" y1="439.90" x2="327.57" y2="438.54" stroke="#a4ee78"/>
<line x1="342.91" y1="441.49" x2="356.35" y2="435.66" stroke="#e5161c"/>
<line x1="356.35" y1="435.66" x2="367.81" y2="430.70" stroke="#a4ee78"/>
<line x1="281.37" y1="394.17" x2="276.43" y2="381.17" stroke="#e5161c"/>
<line x1="276.43" y1="381.17" x2="272.22" y2="370.10" stroke="#a4ee78"/>
<line x1="281.37" y1="394.17" x2="273.13" y2="392.72" stroke="#e5161c"/>
<line x1="273.13" y1="392.72" x2="266.11" y2="391.49" stroke="#a4ee78"/>
<line x1="281.37" y1="394.17" x2="294.92" y2="388.32" stroke="#e5161c"/>
<line x1="294.92" y1="388.32" x2="306.45" y2="383.34" stroke="#a4ee78"/>
<line x1="315.50" y1="407.35" x2="310.61" y2="394.38" stroke="#e5161c"/>
<line x1="310.61" y1="394.38" x2="306.45" y2="383.34" stroke="#a4ee78"/>
<line x1="315.50" y1="407.35" x2="307.20" y2="405.87" stroke="#e5161c"/>
<line x1="307.20" y1="405.87" x2="300.13" y2="404.61" stroke="#9aa2d4"/>
<line x1="315.50" y1="407.35" x2="329.04" y2="401.50" stroke="#e5161c"/>
<line x1="329.04" y1="401.50" x2="340.57" y2="396.53" stroke="#a4ee78"/>
<line x1="349.50" y1="420.48" x2="344.68" y2="407.55" stroke="#e5161c"/>
<line x1="344.68" y1="407.55" x2="340.57" y2="396.53" stroke="#a4ee78"/>
<line x1="349.50" y1="420.48" x2="341.14" y2="418.97" stroke="#e5161c"/>
<line x1="341.14" y1="418.97" x2="334.02" y2="417.67" stroke="#a4ee78"/>
<line x1="349.50" y1="420.48" x2="363.04" y2="414.65" stroke="#e5161c"/>
<line x1="363.04" y1="414.65" x2="374.57" y2="409.68" stroke="#9aa2d4"/>
<line x1="321.95" y1="385.92" x2="317.05" y2="372.88" stroke="#e5161c"/>
<line x1="317.05" y1="372.88" x2="312.87" y2="361.77" stroke="#9aa2d4"/>
<line x1="321.95" y1="385.92" x2="313.58" y2="384.53" stroke="#e5161c"/>
<line x1="313.58" y1="384.53" x2="306.45" y2="383.34" stroke="#a4ee78"/>
<line x1="321.95" y1="385.92" x2="335.59" y2="380.07" stroke="#e5161c"/>
<line x1="335.59" y1="380.07" x2="347.21" y2="375.09" stroke="#a4ee78"/>
<line x1="356.18" y1="399.19" x2="351.33" y2="386.17" stroke="#e5161c"/>
<line x1="351.33" y1="386.17" x2="347.21" y2="375.09" stroke="#a4ee78"/>
<line x1="356.18" y1="399.19" x2="347.75" y2="397.75" stroke="#e5161c"/>
<line x1="347.75" y1="397.75" x2="340.57" y2="396.53" stroke="#a4ee78"/>
<line x1="356.18" y1="399.19" x2="369.81" y2="393.34" stroke="#e5161c"/>
<line x1="369.81" y1="393.34" x2="381.43" y2="388.37" stroke="#a4ee78"/>
<line x1="245.08" y1="409.71" x2="231.79" y2="415.55" stroke="#e5161c"/>
<line x1="231.79" y1="415.55" x2="220.46" y2="420.52" stroke="#a4ee78"/>
<line x1="245.08" y1="409.71" x2="253.19" y2="411.27" stroke="#e5161c"/>
<line x1="253.19" y1="411.27" x2="260.09" y2="412.60" stroke="#a4ee78"/>
<line x1="245.08" y1="409.71" x2="249.98" y2="422.52" stroke="#e5161c"/>
<line x1="249.98" y1="422.52" x2="254.15" y2="433.43" stroke="#a4ee78"/>
<line x1="278.77" y1="422.63" x2="265.48" y2="428.46" stroke="#e5161c"/>
<line x1="265.48" y1="428.46" x2="254.15" y2="433.43" stroke="#a4ee78"/>
<line x1="278.77" y1="422.63" x2="286.93" y2="424.23" stroke="#e5161c"/>
<line x1="286.93" y1="424.23" x2="293.89" y2="425.59" stroke="#a4ee78"/>
<line x1="278.77" y1="422.63" x2="283.61" y2="435.41" stroke="#e5161c"/>
<line x1="283.61" y1="435.41" x2="287.73" y2="446.30" stroke="#9aa2d4"/>
<line x1="250.98" y1="388.75" x2="237.59" y2="394.59" stroke="#e5161c"/>
<line x1="237.59" y1="394.59" x2="226.19" y2="399.57" stroke="#9aa2d4"/>
<line x1="250.98" y1="388.75" x2="259.15" y2="390.23" stroke="#e5161c"/>
<line x1="259.15" y1="390.23" x2="266.11" y2="391.49" stroke="#a4ee78"/>
<line x1="250.98" y1="388.75" x2="255.90" y2="401.63" stroke="#e5161c"/>
<line x1="255.90" y1="401.63" x2="260.09" y2="412.60" stroke="#a4ee78"/>
<line x1="284.88" y1="401.79" x2="271.50" y2="407.63" stroke="#e5161c"/>
<line x1="271.50" y1="407.63" x2="260.09" y2="412.60" stroke="#a4ee78"/>
<line x1="284.88" y1="401.79" x2="293.11" y2="403.31" stroke="#e5161c"/>
<line x1="293.11" y1="403.31" x2="300.13" y2="404.61" stroke="#9aa2d4"/>
<line x1="284.88" y1="401.79" x2="289.74" y2="414.64" stroke="#e5161c"/>
<line x1="289.74" y1="414.64" x2="293.89" y2="425.59" stroke="#a4ee78"/>
<line x1="318.67" y1="414.79" x2="305.29" y2="420.62" stroke="#e5161c"/>
<line x1="305.29" y1="420.62" x2="293.89" y2="425.59" stroke="#a4ee78"/>
<line x1="318.67" y1="414.79" x2="326.96" y2="416.35" stroke="#e5161c"/>
<line x1="326.96" y1="416.35" x2="334.02" y2="417.67" stroke="#a4ee78"/>
<line x1="318.67" y1="414.79" x2="323.47" y2="427.61" stroke="#e5161c"/>
<line x1="323.47" y1="427.61" x2="327.57" y2="438.54" stroke="#a4ee78"/>
<line x1="256.95" y1="367.50" x2="243.47" y2="373.35" stroke="#e5161c"/>
<line x1="243.47" y1="373.35" x2="231.99" y2="378.34" stroke="#a4ee78"/>
<line x1="256.95" y1="367.50" x2="265.20" y2="368.90" stroke="#e5161c"/>
<line x1="265.20" y1="368.90" x2="272.22" y2="370.10" stroke="#a4ee78"/>
<line x1="256.95" y1="367.50" x2="261.90" y2="380.46" stroke="#e5161c"/>
<line x1="261.90" y1="380.46" x2="266.11" y2="391.49" stroke="#a4ee78"/>
<line x1="291.08" y1="380.67" x2="277.60" y2="386.51" stroke="#e5161c"/>
<line x1="277.60" y1="386.51" x2="266.11" y2="391.49" stroke="#a4ee78"/>
<line x1="291.08" y1="380.67" x2="299.38" y2="382.11" stroke="#e5161c"/>
<line x1="299.38" y1="382.11" x2="306.45" y2="383.34" stroke="#a4ee78"/>
<line x1="291.08" y1="380.67" x2="295.96" y2="393.60" stroke="#e5161c"/>
<line x1="295.96" y1="393.60" x2="300.13" y2="404.61" stroke="#9aa2d4"/>
<line x1="325.09" y1="393.79" x2="311.61" y2="399.63" stroke="#e5161c"/>
<line x1="311.61" y1="399.63" x2="300.13" y2="404.61" stroke="#9aa2d4"/>
<line x1="325.09" y1="393.79" x2="333.45" y2="395.27" stroke="#e5161c"/>
<line x1="333.45" y1="395.27" x2="340.57" y2="396.53" stroke="#a4ee78"/>
<line x1="325.09" y1="393.79" x2="329.91" y2="406.69" stroke="#e5161c"/>
<line x1="329.91" y1="406.69" x2="334.02" y2="417.67" stroke="#a4ee78"/>
<line x1="358.98" y1="406.87" x2="345.50" y2="412.71" stroke="#e5161c"/>
<line x1="345.50" y1="412.71" x2="334.02" y2="417.67" stroke="#a4ee78"/>
<line x1="358.98" y1="406.87" x2="367.40" y2="408.39" stroke="#e5161c"/>
<line x1="367.40" y1="408.39" x2="374.57" y2="409.68" stroke="#9aa2d4"/>
<line x1="358.98" y1="406.87" x2="363.74" y2="419.74" stroke="#e5161c"/>
<line x1="363.74" y1="419.74" x2="367.81" y2="430.70" stroke="#a4ee78"/>
<line x1="297.36" y1="359.26" x2="283.78" y2="365.11" stroke="#e5161c"/>
<line x1="283.78" y1="365.11" x2="272.22" y2="370.10" stroke="#a4ee78"/>
<line x1="297.36" y1="359.26" x2="305.73" y2="360.61" stroke="#e5161c"/>
<line x1="305.73" y1="360.61" x2="312.87" y2="361.77" stroke="#9aa2d4"/>
<line x1="297.36" y1="359.26" x2="302.27" y2="372.26" stroke="#e5161c"/>
<line x1="302.27" y1="372.26" x2="306.45" y2="383.34" stroke="#a4ee78"/>
<line x1="331.59" y1="372.51" x2="318.01" y2="378.35" stroke="#e5161c"/>
<line x1="318.01" y1="378.35" x2="306.45" y2="383.34" stroke="#a4ee78"/>
<line x1="331.59" y1="372.51" x2="340.02" y2="373.90" stroke="#e5161c"/>
<line x1="340.02" y1="373.90" x2="347.21" y2="375.09" stroke="#a4ee78"/>
<line x1="331.59" y1="372.51" x2="336.44" y2="385.48" stroke="#e5161c"/>
<line x1="336.44" y1="385.48" x2="340.57" y2="396.53" stroke="#a4ee78"/>
<line x1="365.70" y1="385.71" x2="352.13" y2="391.55" stroke="#e5161c"/>
<line x1="352.13" y1="391.55" x2="340.57" y2="396.53" stroke="#a4ee78"/>
<line x1="365.70" y1="385.71" x2="374.19" y2="387.15" stroke="#e5161c"/>
<line x1="374.19" y1="387.15" x2="381.43" y2="388.37" stroke="#a4ee78"/>
<line x1="365.70" y1="385.71" x2="370.49" y2="398.65" stroke="#e5161c"/>
<line x1="370.49" y1="398.65" x2="374.57" y2="409.68" stroke="#9aa2d4"/>
</g>
<circle cx="374.57" cy="409.68" r="2.4" fill="#8f98cc"/>
<circle cx="347.21" cy="375.09" r="2.4" fill="#8ee070"/>
<circle cx="220.46" cy="420.52" r="2.4" fill="#8ee070"/>
<circle cx="254.15" cy="433.43" r="2.4" fill="#8ee070"/>
<circle cx="381.43" cy="388.37" r="2.4" fill="#8ee070"/>
<circle cx="226.19" cy="399.57" r="2.4" fill="#8f98cc"/>
<circle cx="287.73" cy="446.30" r="2.4" fill="#8f98cc"/>
<circle cx="367.81" cy="430.70" r="2.4" fill="#8ee070"/>
<circle cx="231.99" cy="378.34" r="2.4" fill="#8ee070"/>
<circle cx="312.87" cy="361.77" r="2.4" fill="#8f98cc"/>
<g stroke-linecap="round" stroke-width="2.1">
<line x1="301.40" y1="374.60" x2="293" y2="387.5" stroke="#3d8ee6"/>
<line x1="301.40" y1="374.60" x2="314.6" y2="384.2" stroke="#3d8ee6"/>
<line x1="301.40" y1="374.60" x2="300.9" y2="362" stroke="#3d8ee6"/>
<line x1="300.9" y1="362" x2="300.6" y2="350.3" stroke="#e3161c"/>
<line x1="300.6" y1="350.3" x2="296.8" y2="348" stroke="#e3161c"/>
<line x1="296.8" y1="348" x2="289.3" y2="344.2" stroke="#e4e4e4" stroke-width="2.3"/>
</g>
<ellipse cx="291.6" cy="376.2" rx="2.6" ry="1.6" fill="#111" transform="rotate(-20 291.6 376.2)"/>
<circle cx="301.40" cy="374.60" r="5.2" fill="url(#gRu)"/>
<circle cx="366" cy="331.90" r="4.5" fill="url(#gFe)"/>
<text x="375.20" y="334.50" font-size="6.60" text-anchor="start" font-weight="bold" fill="#1a1a1a" >Fe<tspan font-size="4.6" dy="-2.7">3+</tspan></text>
<circle cx="366" cy="344.30" r="4.5" fill="url(#gNi)"/>
<text x="375.20" y="346.90" font-size="6.60" text-anchor="start" font-weight="bold" fill="#1a1a1a" >Ni<tspan font-size="4.6" dy="-2.7">2+</tspan></text>
<circle cx="366" cy="357.50" r="4.5" fill="url(#gRu2)"/>
<text x="375.20" y="360.10" font-size="6.60" text-anchor="start" font-weight="bold" fill="#1a1a1a" >Ru<tspan font-size="4.6" dy="-2.7">3+</tspan></text>
<circle cx="366" cy="370.50" r="4.5" fill="url(#gO)"/>
<text x="375.20" y="373.10" font-size="6.60" text-anchor="start" font-weight="bold" fill="#1a1a1a" >O<tspan font-size="4.6" dy="-2.7">2-</tspan></text>
</svg>
</body></html>
